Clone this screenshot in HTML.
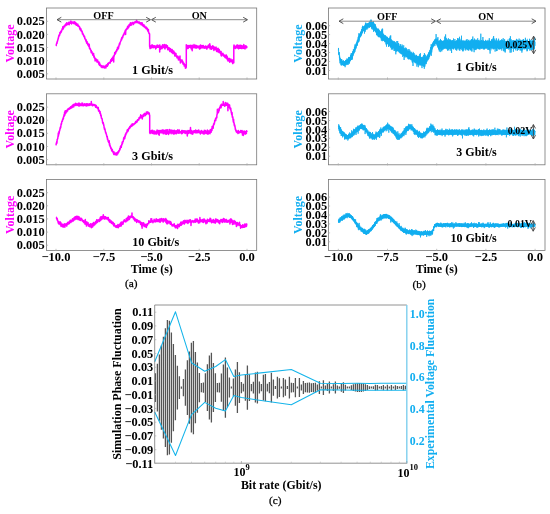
<!DOCTYPE html>
<html lang="en">
<head>
<meta charset="utf-8">
<title>Voltage traces and phase fluctuation versus bit rate</title>
<style>
html,body{margin:0;padding:0;background:#fff;}
body{width:550px;height:514px;overflow:hidden;}
svg{display:block;font-family:"Liberation Serif","DejaVu Serif",serif;}
</style>
</head>
<body>
<svg width="550" height="514" viewBox="0 0 550 514">
<rect width="550" height="514" fill="#fff"/>
<rect x="46.5" y="8.0" width="210.2" height="71.0" fill="none" stroke="#777" stroke-width="0.8"/>
<text x="44.6" y="25.4" font-size="12.4" text-anchor="end" fill="#000" font-weight="bold">0.025</text>
<text x="44.6" y="38.5" font-size="12.4" text-anchor="end" fill="#000" font-weight="bold">0.020</text>
<text x="44.6" y="51.6" font-size="12.4" text-anchor="end" fill="#000" font-weight="bold">0.015</text>
<text x="44.6" y="64.8" font-size="12.4" text-anchor="end" fill="#000" font-weight="bold">0.010</text>
<text x="44.6" y="77.9" font-size="12.4" text-anchor="end" fill="#000" font-weight="bold">0.005</text>
<line x1="46.1" y1="21.3" x2="48.1" y2="21.3" stroke="#aaa" stroke-width="0.7"/>
<line x1="46.1" y1="34.4" x2="48.1" y2="34.4" stroke="#aaa" stroke-width="0.7"/>
<line x1="46.1" y1="47.5" x2="48.1" y2="47.5" stroke="#aaa" stroke-width="0.7"/>
<line x1="46.1" y1="60.7" x2="48.1" y2="60.7" stroke="#aaa" stroke-width="0.7"/>
<line x1="46.1" y1="73.8" x2="48.1" y2="73.8" stroke="#aaa" stroke-width="0.7"/>
<line x1="56" y1="77.4" x2="56" y2="79.6" stroke="#aaa" stroke-width="0.7"/>
<line x1="103.8" y1="77.4" x2="103.8" y2="79.6" stroke="#aaa" stroke-width="0.7"/>
<line x1="151.5" y1="77.4" x2="151.5" y2="79.6" stroke="#aaa" stroke-width="0.7"/>
<line x1="199.2" y1="77.4" x2="199.2" y2="79.6" stroke="#aaa" stroke-width="0.7"/>
<line x1="247" y1="77.4" x2="247" y2="79.6" stroke="#aaa" stroke-width="0.7"/>
<text x="13.9" y="43.5" font-size="12" text-anchor="middle" fill="#ff00ff" font-weight="bold" transform="rotate(-90 13.9 43.5)">Voltage</text>
<rect x="46.5" y="93.8" width="210.2" height="71.00000000000001" fill="none" stroke="#777" stroke-width="0.8"/>
<text x="44.6" y="111.2" font-size="12.4" text-anchor="end" fill="#000" font-weight="bold">0.025</text>
<text x="44.6" y="124.3" font-size="12.4" text-anchor="end" fill="#000" font-weight="bold">0.020</text>
<text x="44.6" y="137.4" font-size="12.4" text-anchor="end" fill="#000" font-weight="bold">0.015</text>
<text x="44.6" y="150.6" font-size="12.4" text-anchor="end" fill="#000" font-weight="bold">0.010</text>
<text x="44.6" y="163.7" font-size="12.4" text-anchor="end" fill="#000" font-weight="bold">0.005</text>
<line x1="46.1" y1="107.1" x2="48.1" y2="107.1" stroke="#aaa" stroke-width="0.7"/>
<line x1="46.1" y1="120.2" x2="48.1" y2="120.2" stroke="#aaa" stroke-width="0.7"/>
<line x1="46.1" y1="133.3" x2="48.1" y2="133.3" stroke="#aaa" stroke-width="0.7"/>
<line x1="46.1" y1="146.5" x2="48.1" y2="146.5" stroke="#aaa" stroke-width="0.7"/>
<line x1="46.1" y1="159.6" x2="48.1" y2="159.6" stroke="#aaa" stroke-width="0.7"/>
<line x1="56" y1="163.2" x2="56" y2="165.4" stroke="#aaa" stroke-width="0.7"/>
<line x1="103.8" y1="163.2" x2="103.8" y2="165.4" stroke="#aaa" stroke-width="0.7"/>
<line x1="151.5" y1="163.2" x2="151.5" y2="165.4" stroke="#aaa" stroke-width="0.7"/>
<line x1="199.2" y1="163.2" x2="199.2" y2="165.4" stroke="#aaa" stroke-width="0.7"/>
<line x1="247" y1="163.2" x2="247" y2="165.4" stroke="#aaa" stroke-width="0.7"/>
<text x="13.9" y="129.3" font-size="12" text-anchor="middle" fill="#ff00ff" font-weight="bold" transform="rotate(-90 13.9 129.3)">Voltage</text>
<rect x="46.5" y="179.4" width="210.2" height="71.0" fill="none" stroke="#777" stroke-width="0.8"/>
<text x="44.6" y="196.8" font-size="12.4" text-anchor="end" fill="#000" font-weight="bold">0.025</text>
<text x="44.6" y="209.9" font-size="12.4" text-anchor="end" fill="#000" font-weight="bold">0.020</text>
<text x="44.6" y="223" font-size="12.4" text-anchor="end" fill="#000" font-weight="bold">0.015</text>
<text x="44.6" y="236.2" font-size="12.4" text-anchor="end" fill="#000" font-weight="bold">0.010</text>
<text x="44.6" y="249.3" font-size="12.4" text-anchor="end" fill="#000" font-weight="bold">0.005</text>
<line x1="46.1" y1="192.7" x2="48.1" y2="192.7" stroke="#aaa" stroke-width="0.7"/>
<line x1="46.1" y1="205.8" x2="48.1" y2="205.8" stroke="#aaa" stroke-width="0.7"/>
<line x1="46.1" y1="218.9" x2="48.1" y2="218.9" stroke="#aaa" stroke-width="0.7"/>
<line x1="46.1" y1="232.1" x2="48.1" y2="232.1" stroke="#aaa" stroke-width="0.7"/>
<line x1="46.1" y1="245.2" x2="48.1" y2="245.2" stroke="#aaa" stroke-width="0.7"/>
<line x1="56" y1="248.8" x2="56" y2="251" stroke="#aaa" stroke-width="0.7"/>
<line x1="103.8" y1="248.8" x2="103.8" y2="251" stroke="#aaa" stroke-width="0.7"/>
<line x1="151.5" y1="248.8" x2="151.5" y2="251" stroke="#aaa" stroke-width="0.7"/>
<line x1="199.2" y1="248.8" x2="199.2" y2="251" stroke="#aaa" stroke-width="0.7"/>
<line x1="247" y1="248.8" x2="247" y2="251" stroke="#aaa" stroke-width="0.7"/>
<text x="13.9" y="214.9" font-size="12" text-anchor="middle" fill="#ff00ff" font-weight="bold" transform="rotate(-90 13.9 214.9)">Voltage</text>
<polyline points="56,46 56.2,45.7 56.3,44.7 56.5,43.8 56.6,43.6 56.8,42.7 56.9,42.9 57.1,43.3 57.2,41.5 57.4,40.9 57.5,41.2 57.7,40.6 57.8,40 58,38.8 58.1,39 58.3,39 58.4,37.2 58.6,37.3 58.7,35.9 58.9,35.9 59,35.1 59.2,35.9 59.3,34.8 59.5,35.5 59.6,35 59.8,34.4 59.9,32.4 60.1,33.5 60.2,33.5 60.4,33.3 60.5,31.8 60.7,32.2 60.8,31.6 61,31.4 61.1,32.4 61.3,30.7 61.4,31 61.6,31.3 61.7,30 61.9,30 62,29.9 62.2,29.6 62.3,28.4 62.5,29 62.6,29.6 62.8,26.8 62.9,28.8 63.1,28 63.2,27.2 63.4,28.8 63.5,27.8 63.7,26.2 63.8,26.8 64,27 64.1,26.3 64.3,26.7 64.4,26 64.6,26.4 64.7,26.8 64.9,25.1 65,25.6 65.2,25 65.3,25.3 65.5,24.3 65.6,24.6 65.8,24.8 65.9,25.4 66.1,25.5 66.2,23.6 66.4,23.9 66.5,24.8 66.7,22.8 66.8,23.8 67,23.9 67.1,24.8 67.3,24.3 67.4,23.5 67.6,23.3 67.7,23.3 67.9,24.5 68,23 68.2,23 68.3,23.4 68.5,23 68.6,22.9 68.8,22.2 68.9,22.9 69.1,22.5 69.2,24.7 69.4,23.2 69.5,22.6 69.7,23.1 69.8,22.3 70,23.3 70.1,22.5 70.3,22.9 70.4,21.5 70.6,22.7 70.7,21.2 70.9,21 71,22.2 71.2,21.8 71.3,22.5 71.5,24 71.6,21.8 71.8,22 71.9,22.6 72.1,22.8 72.2,22.4 72.4,22.4 72.5,23.1 72.7,23 72.8,21.9 73,22.6 73.1,22.8 73.3,22 73.4,23 73.6,22.3 73.7,23.6 73.9,23.1 74,23.1 74.2,22.7 74.3,23.1 74.5,21.8 74.6,22.5 74.8,23.6 74.9,21.9 75.1,24.1 75.2,22.3 75.4,24.2 75.5,23.1 75.7,24.3 75.8,23.9 76,22.9 76.1,24.9 76.3,25.1 76.4,24.1 76.6,24.1 76.7,24.2 76.9,23.8 77,25.3 77.2,24.2 77.3,24.7 77.5,24.3 77.6,24.5 77.8,24.2 77.9,26.2 78.1,25.3 78.2,26.3 78.4,25.8 78.5,25.5 78.7,26 78.8,26 79,26.7 79.1,26.6 79.3,26.9 79.4,26.4 79.6,27 79.7,29 79.9,27.7 80,27.7 80.2,28.9 80.3,29.9 80.5,28.2 80.6,29.3 80.8,29.3 80.9,28.8 81.1,30.9 81.2,30.6 81.4,31 81.5,30.7 81.7,30.6 81.8,31.4 82,32 82.1,31.6 82.3,31.8 82.4,33.9 82.6,32.9 82.7,33.7 82.9,33.8 83,33.8 83.2,34 83.3,35.1 83.5,34.7 83.6,35.1 83.8,35.5 83.9,36.6 84.1,36.6 84.2,36.7 84.4,36.4 84.5,36.1 84.7,38.1 84.8,38.4 85,37.9 85.1,38.7 85.3,39.2 85.4,39.6 85.6,40 85.7,39.4 85.9,41.1 86,39.5 86.2,41.3 86.3,41.4 86.5,42 86.6,43.1 86.8,43.1 86.9,41.6 87.1,41.6 87.3,43.7 87.4,42.8 87.6,43.8 87.7,44.7 87.9,43.3 88,43.3 88.2,45.3 88.3,45.5 88.5,45.6 88.6,46.2 88.8,45.9 88.9,45.7 89.1,47 89.2,44.3 89.4,46.6 89.5,48.4 89.7,48.3 89.8,48.9 90,48.2 90.1,48.7 90.3,48.8 90.4,49.2 90.6,50.2 90.7,49.8 90.9,50.9 91,51.2 91.2,52.6 91.3,50.5 91.5,52.4 91.6,52 91.8,52.4 91.9,51.6 92.1,52.6 92.2,53.8 92.4,53.5 92.5,53.9 92.7,53.9 92.8,55.2 93,54.6 93.1,53.4 93.3,54.7 93.4,53.9 93.6,53.5 93.7,55.6 93.9,57.2 94,56.6 94.2,56 94.3,56.4 94.5,58.1 94.6,57.7 94.8,57.8 94.9,58 95.1,61 95.2,59.1 95.4,59.1 95.5,59.1 95.7,58.5 95.8,59.8 96,59.2 96.1,60.6 96.3,59.2 96.4,60.2 96.6,60.5 96.7,59.7 96.9,62 97,62 97.2,60.9 97.3,61.9 97.5,61.8 97.6,59.9 97.8,62.1 97.9,62.1 98.1,62.4 98.2,61.7 98.4,62.5 98.5,62.7 98.7,63.9 98.8,63.5 99,62.1 99.1,64.7 99.3,63.4 99.4,63.7 99.6,62.9 99.7,65.4 99.9,65.2 100,64.1 100.2,65.3 100.3,65.1 100.5,65.3 100.6,65.1 100.8,65.3 100.9,65.6 101.1,66.8 101.2,66.3 101.4,66 101.5,65.7 101.7,65.8 101.8,67.5 102,66.8 102.1,66.6 102.3,66.4 102.4,65.9 102.6,66.7 102.7,67.4 102.9,66.6 103,66.8 103.2,66.8 103.3,67.1 103.5,65.9 103.6,66.8 103.8,66.4 103.9,67.6 104.1,66.4 104.2,67.3 104.4,68 104.5,66.6 104.7,66.4 104.8,66.9 105,66.7 105.1,65.9 105.3,66.8 105.4,67.8 105.6,66.1 105.7,66.1 105.9,67.9 106,66.2 106.2,65 106.3,65 106.5,66.5 106.6,64.9 106.8,66.1 106.9,66.3 107.1,65.3 107.2,65.3 107.4,66.2 107.5,64.5 107.7,64.1 107.8,63.4 108,64.2 108.1,65.1 108.3,64.5 108.4,63 108.6,62.9 108.7,63 108.9,63.4 109,62.9 109.2,63 109.3,62.9 109.5,62.3 109.6,62.4 109.8,62.4 109.9,62 110.1,62.3 110.2,63 110.4,62 110.5,61.4 110.7,60 110.8,61.3 111,59.4 111.1,59.6 111.3,61.3 111.4,60.7 111.6,59.9 111.7,58.5 111.9,59.2 112,58.8 112.2,59.5 112.3,60.4 112.5,58.7 112.6,57.7 112.8,57.2 112.9,57.7 113.1,57.4 113.2,56.4 113.4,57.1 113.5,55.9 113.7,61.9 113.8,56.9 114,56.6 114.1,55.3 114.3,55.7 114.4,54.9 114.6,54.5 114.7,52.6 114.9,53.2 115,52.8 115.2,54.1 115.3,53.1 115.5,53.1 115.6,53.4 115.8,51.2 115.9,51.5 116.1,51.9 116.2,51.8 116.4,50.9 116.5,51.6 116.7,50.7 116.8,49.4 117,49.4 117.1,50.3 117.3,49.7 117.4,47.8 117.6,49.7 117.7,48.9 117.9,49.1 118,47.5 118.2,47.2 118.3,46.3 118.5,48.5 118.7,46.3 118.8,47.2 119,45.2 119.1,45.4 119.3,43.8 119.4,44.3 119.6,44.9 119.7,43 119.9,44.2 120,43.3 120.2,42 120.3,42 120.5,41.7 120.6,41.6 120.8,40.9 120.9,40.3 121.1,40.3 121.2,39.4 121.4,38.9 121.5,39.4 121.7,39.6 121.8,37.6 122,38.3 122.1,37.5 122.3,36.9 122.4,37.9 122.6,36.6 122.7,37.7 122.9,35.7 123,36.2 123.2,35.5 123.3,34.8 123.5,35.4 123.6,34.6 123.8,34.9 123.9,34.1 124.1,33.1 124.2,33.5 124.4,33.4 124.5,33.7 124.7,32.2 124.8,32.5 125,31 125.1,33.3 125.3,30.9 125.4,30.2 125.6,34.4 125.7,31.6 125.9,29.5 126,29.6 126.2,29.5 126.3,29 126.5,29.8 126.6,28.7 126.8,28.5 126.9,29.2 127.1,28 127.2,28.6 127.4,27.4 127.5,27 127.7,26.3 127.8,28.7 128,26.9 128.1,27.1 128.3,26.7 128.4,26.7 128.6,26.4 128.7,27.5 128.9,25.3 129,24.8 129.2,25 129.3,24.6 129.5,25.9 129.6,25.9 129.8,24.5 129.9,24.1 130.1,24.7 130.2,23.8 130.4,22.8 130.5,25 130.7,23.8 130.8,25.2 131,23.6 131.1,24.1 131.3,23.2 131.4,23.4 131.6,25 131.7,24.5 131.9,23.6 132,23.2 132.2,22.4 132.3,23.4 132.5,23.5 132.6,23.4 132.8,23.3 132.9,22.5 133.1,23.2 133.2,23.2 133.4,24 133.5,24.4 133.7,22.9 133.8,22.4 134,22.8 134.1,22.4 134.3,22.3 134.4,22.7 134.6,22 134.7,23.1 134.9,22.5 135,22.8 135.2,22.4 135.3,22 135.5,21.8 135.6,22.3 135.8,22.1 135.9,22.6 136.1,22.4 136.2,21.5 136.4,22.4 136.5,20.1 136.7,22 136.8,22.2 137,21 137.1,22.5 137.3,22.6 137.4,22.4 137.6,22.2 137.7,22.3 137.9,21.9 138,22.4 138.2,22.2 138.3,22.7 138.5,21.9 138.6,22.9 138.8,22.9 138.9,22.8 139.1,22.6 139.2,23.4 139.4,21.9 139.5,23.4 139.7,23.3 139.8,23.4 140,23.6 140.1,22.9 140.3,23.3 140.4,24 140.6,23.9 140.7,23.8 140.9,22.7 141,24.2 141.2,24.8 141.3,24.7 141.5,24.3 141.6,23.1 141.8,24.9 141.9,24.3 142.1,22.7 142.2,24.8 142.4,23.6 142.5,23.8 142.7,24.4 142.8,25.8 143,24.7 143.1,25.6 143.3,26.4 143.4,26.4 143.6,25.3 143.7,25.4 143.9,24.8 144,25.3 144.2,26.2 144.3,26.4 144.5,26.3 144.6,27.1 144.8,26 144.9,26.7 145.1,27.4 145.2,27.5 145.4,28 145.5,27.7 145.7,27.4 145.8,28 146,27.3 146.1,27 146.3,28.8 146.4,28.5 146.6,29 146.7,27.8 146.9,28.9 147,29 147.2,29 147.3,28.2 147.5,29.8 147.6,30.8 147.8,30.7 147.9,30.2 148.1,30.9 148.2,31.7 148.4,29.4 148.5,31.5 148.7,32.3 148.8,32.6 149,33.6 149.1,33.5 149.3,33.2 149.4,33.4 149.6,34.3 149.6,46.1 149.8,46.6 149.9,47.5 150.1,48.6 150.2,46.4 150.4,46.6 150.5,46.8 150.7,47.9 150.8,46.6 151,48.1 151.1,45.6 151.3,46.4 151.4,46.4 151.6,47.4 151.7,47.6 151.9,45.1 152,45.7 152.2,46.9 152.3,45.9 152.5,45.1 152.6,47.6 152.8,47.1 152.9,47.1 153.1,46.1 153.2,47.6 153.4,46.4 153.5,47.7 153.7,45.7 153.8,45.8 154,46.8 154.1,45.9 154.3,47.3 154.4,46.9 154.6,45.7 154.7,46.7 154.9,46.3 155,47.5 155.2,46 155.3,46.2 155.5,47.8 155.6,48.9 155.8,48.6 155.9,46.7 156.1,46.9 156.2,48.2 156.4,46.5 156.5,45.7 156.7,46.8 156.8,47.1 157,45.8 157.2,45 157.3,45.2 157.5,47.3 157.6,45.9 157.8,46.5 157.9,46.9 158.1,47.3 158.2,46.4 158.4,47.2 158.5,45.8 158.7,46.3 158.8,45.7 159,45.2 159.1,46.7 159.3,46 159.4,46.4 159.6,46.5 159.7,51.9 159.9,45.1 160,45.7 160.2,46.4 160.3,49.3 160.5,47.7 160.6,46.6 160.8,47.5 160.9,48.8 161.1,46.5 161.2,46.4 161.4,48 161.5,47.3 161.7,47.5 161.8,46.3 162,48.7 162.1,48.5 162.3,47.4 162.4,47.5 162.6,44.8 162.7,47.5 162.9,46.6 163,47.3 163.2,47.5 163.3,46.5 163.5,45.2 163.6,47.2 163.8,46.1 163.9,46.6 164.1,46.3 164.2,46.6 164.4,44.6 164.6,48.1 164.7,47.2 164.9,48 165,48.9 165.2,47 165.3,45.2 165.5,46.1 165.6,45.8 165.8,46.5 165.9,47.1 166.1,44.7 166.2,47.4 166.4,45.5 166.5,47.4 166.7,47 166.8,46.9 167,47.2 167.1,46.8 167.3,46.8 167.4,45.8 167.6,47.6 167.7,49.6 167.9,49.8 168,49.2 168.2,48.7 168.3,47.5 168.5,49.7 168.6,48.8 168.8,48.4 168.9,48.3 169.1,48 169.2,48.3 169.4,48.8 169.5,47.9 169.7,48.7 169.8,51.5 170,49.3 170.1,49.2 170.3,50.1 170.4,50.4 170.6,48.8 170.7,49.8 170.9,51.1 171,50.6 171.2,50.6 171.3,52.2 171.5,50.1 171.7,51 171.8,50.5 172,52.7 172.1,49.4 172.3,50.9 172.4,51.2 172.6,52.5 172.7,52.6 172.9,53.6 173,50.8 173.2,53.3 173.3,52.4 173.5,52.2 173.6,53.6 173.8,52.3 173.9,51.3 174.1,53.1 174.2,52.2 174.4,53.2 174.5,54.4 174.7,54.5 174.8,55.9 175,54.3 175.1,53.1 175.3,54 175.4,54 175.6,53.9 175.7,54.4 175.9,54.8 176,53.6 176.2,56.5 176.3,55.8 176.5,56.4 176.6,56.4 176.8,57.1 176.9,56.6 177.1,58 177.2,57.4 177.4,57.5 177.5,57.7 177.7,56 177.8,57.4 178,57.5 178.1,58.2 178.3,56.8 178.4,59.9 178.6,58.6 178.7,57.4 178.9,57.1 179.1,58.7 179.2,59 179.4,58.6 179.5,59.6 179.7,59 179.8,60.3 180,56.1 180.1,60.1 180.3,61.3 180.4,63 180.6,59.6 180.7,60.3 180.9,60.1 181,61.9 181.2,60.1 181.3,60.9 181.5,61.6 181.6,60.8 181.8,60.9 181.9,61.6 182.1,60.1 182.2,60.9 182.4,62.1 182.5,62.9 182.7,62.7 182.8,61.3 183,62.7 183.1,64.2 183.3,64.1 183.4,63.6 183.6,63 183.7,64.6 183.9,63.6 184,63.2 184.2,63.7 184.3,66.1 184.5,65 184.6,66.1 184.8,64.6 184.9,66.2 185.1,64.8 185.2,65.4 185.4,68.2 185.5,66.7 185.7,65.6 185.8,66.1 186,66.7 186.1,67.8 186.3,66.2 186.3,44.8 186.5,46.2 186.6,46.5 186.8,46.6 186.9,47.8 187.1,46.8 187.2,47.3 187.4,45.4 187.5,47.4 187.7,48.6 187.8,47.3 188,46.8 188.1,46.7 188.3,48.3 188.4,45.6 188.6,46.4 188.7,47 188.9,47.3 189,46.1 189.2,46.8 189.3,46.2 189.5,46.6 189.6,46.4 189.8,45.4 189.9,46.5 190.1,47.4 190.2,45.6 190.4,46.3 190.5,47.2 190.7,45.5 190.8,46.7 191,45.5 191.1,47.7 191.3,48.9 191.4,48.6 191.6,46.3 191.7,47.3 191.9,46.7 192,46.7 192.2,50.8 192.3,45.3 192.5,47.6 192.6,46.5 192.8,48 192.9,46.8 193.1,45.9 193.2,46.9 193.4,47.3 193.5,46.6 193.7,47.1 193.8,46.1 194,44.5 194.1,47.5 194.3,47.3 194.4,46.8 194.6,46.7 194.7,47.7 194.9,46.2 195,45.9 195.2,46.5 195.3,47.8 195.5,45.3 195.6,47.9 195.8,46 196,45.6 196.1,47.9 196.3,46.6 196.4,45.4 196.6,46.3 196.7,47 196.9,47.9 197,46.3 197.2,47.1 197.3,47.4 197.5,46.1 197.6,47.1 197.8,46.7 197.9,46.2 198.1,46.2 198.2,46.8 198.4,46.8 198.5,46.2 198.7,46.3 198.8,47.9 199,47 199.1,47.7 199.3,48 199.4,47.4 199.6,49.1 199.7,46 199.9,47.6 200,46.5 200.2,48.7 200.3,48.5 200.5,44.9 200.6,45.9 200.8,47.5 200.9,47.6 201.1,47.6 201.2,46.8 201.4,47.3 201.5,47.5 201.7,46.8 201.8,47.9 202,45.4 202.1,47.5 202.3,45.8 202.4,47.8 202.6,46.7 202.7,46 202.9,47.3 203,46 203.2,46 203.3,45.4 203.5,45.8 203.6,47.4 203.8,48 203.9,46.8 204.1,48 204.2,47 204.4,46.9 204.5,47.6 204.7,48.1 204.8,46.7 205,46.8 205.1,46.9 205.3,47.1 205.5,46.1 205.6,48.1 205.8,46.7 205.9,47.5 206.1,46.2 206.2,47.4 206.4,47.5 206.5,46.7 206.7,49.1 206.8,47.5 207,48.9 207.1,48.1 207.3,46.5 207.4,46.8 207.6,47.6 207.7,47.3 207.9,47.3 208,46.9 208.2,45.4 208.3,47 208.5,45 208.6,47.6 208.8,46.6 208.9,46.6 209.1,47.1 209.2,47.6 209.4,45.9 209.5,45.6 209.7,46.3 209.8,43.8 210,46.4 210.1,49 210.3,46.4 210.4,48.1 210.6,46.1 210.7,47.8 210.9,47.2 211,47.5 211.2,48.1 211.3,49.3 211.5,47.8 211.6,47.7 211.8,46.7 211.9,48.2 212.1,47.4 212.2,48.5 212.4,47.7 212.5,47.7 212.7,45.8 212.8,47.5 213,48.7 213.1,47.5 213.3,47.1 213.4,47.6 213.6,46.6 213.7,48.1 213.9,50.5 214,49.3 214.2,47.1 214.3,47.4 214.5,47.9 214.6,49.4 214.8,47.7 215,47.9 215.1,49.5 215.3,49.6 215.4,48.5 215.6,47.8 215.7,47.5 215.9,48.4 216,47 216.2,50 216.3,48.7 216.5,50 216.6,51.4 216.8,50.8 216.9,48.6 217.1,50.7 217.2,51.1 217.4,49.3 217.5,49.2 217.7,50.2 217.8,48.5 218,52 218.1,48.2 218.3,49.6 218.4,50.6 218.6,50.8 218.7,51.3 218.9,51.5 219,51.1 219.2,52.6 219.3,49.5 219.5,51.7 219.6,51.1 219.8,52.1 219.9,52.3 220.1,51.3 220.2,51.7 220.4,53.3 220.5,53 220.7,52 220.8,52.3 221,55.3 221.1,51.6 221.3,53.5 221.4,55.9 221.6,54.3 221.7,53.8 221.9,53.5 222,53.3 222.2,53.7 222.3,53.5 222.5,54.9 222.6,53.9 222.8,54 222.9,53.3 223.1,54.6 223.2,53.9 223.4,54.7 223.5,56.1 223.7,55.5 223.8,55.8 224,55.8 224.1,55.6 224.3,55.5 224.5,55.5 224.6,56.7 224.8,54.9 224.9,57.5 225.1,56.3 225.2,55.6 225.4,56 225.5,56 225.7,56.9 225.8,56.2 226,58.1 226.1,56.3 226.3,55 226.4,56.6 226.6,55.5 226.7,57.6 226.9,58.8 227,58.5 227.2,56.6 227.3,57.3 227.5,60 227.6,58.6 227.8,58.4 227.9,59.6 228.1,61.1 228.2,60.1 228.4,59 228.5,59.3 228.7,59.7 228.8,58.6 229,58.3 229.1,59.5 229.3,58.6 229.4,59.6 229.6,59.9 229.7,62.2 229.9,59.1 230,60 230.2,60 230.3,60.7 230.5,61.5 230.6,60 230.8,59.8 230.9,59.1 231.1,59.9 231.2,61.5 231.4,61.1 231.5,60.1 231.7,60.9 231.8,61.4 232,62 232.1,61 232.3,61.4 232.4,60 232.6,60.7 232.7,63.6 232.9,59.9 233,61.9 233.2,62.5 233.3,62 233.5,61.7 233.6,62.5 233.8,62.7 233.8,46.9 234,45.1 234.1,46.9 234.3,46.1 234.4,46.5 234.6,47.2 234.7,47.6 234.9,47.9 235,46.5 235.2,47.9 235.3,48.2 235.5,48.1 235.6,48.4 235.8,46.9 235.9,46.8 236.1,47.8 236.3,45.6 236.4,47.2 236.6,46.5 236.7,46.6 236.9,45.3 237,46.1 237.2,47 237.3,47.9 237.5,48 237.6,45 237.8,46.8 237.9,46.2 238.1,47.4 238.3,46.8 238.4,47.6 238.6,48.8 238.7,47 238.9,45.5 239,46.1 239.2,45.5 239.3,45.8 239.5,48.3 239.6,47.2 239.8,45.5 239.9,47.7 240.1,48.3 240.2,46.6 240.4,46.3 240.6,45.2 240.7,47.3 240.9,47.6 241,48.2 241.2,48.2 241.3,48.2 241.5,48.4 241.6,47.7 241.8,45.5 241.9,46.9 242.1,47.3 242.2,46.6 242.4,47.9 242.5,46.6 242.7,46.1 242.9,48.4 243,47.7 243.2,47.6 243.3,47.9 243.5,48.1 243.6,47.3 243.8,44.5 243.9,46.3 244.1,46.5 244.2,46 244.4,47.2 244.5,48.2 244.7,46.5 244.9,45.9 245,49 245.2,46.5 245.3,45.8 245.5,47.2 245.6,47.4 245.8,46.3 245.9,47.8 246.1,46.5 246.2,46.1 246.4,47.2 246.5,47.8 246.7,46.4 246.8,47.3 247,46.9" fill="none" stroke="#ff00ff" stroke-width="1.5" stroke-linejoin="round"/>
<polyline points="56,145.4 56.2,144.1 56.3,143.3 56.5,142.6 56.6,142.8 56.8,141.4 56.9,143.3 57.1,140.9 57.2,139.4 57.4,139.5 57.5,138.9 57.7,138.8 57.8,138.1 58,136.4 58.1,136.1 58.3,133 58.4,136.1 58.6,134.7 58.7,134.7 58.9,133 59,131.3 59.2,133.1 59.3,131.6 59.5,131.1 59.6,130.5 59.8,130.3 59.9,129.7 60.1,127.7 60.2,128.9 60.4,127.3 60.5,126.8 60.7,127.7 60.8,126.6 61,125.3 61.1,123.7 61.3,124.5 61.4,124.2 61.6,123.3 61.7,122 61.9,121.7 62,120.9 62.2,121.4 62.3,121.3 62.5,120.9 62.6,119.3 62.8,119.4 62.9,119.2 63.1,118 63.2,117.9 63.4,118.9 63.5,117.3 63.7,116.1 63.8,116.1 64,116.1 64.1,114.6 64.3,115.4 64.4,115.9 64.6,112 64.7,115.3 64.9,114.6 65,113.9 65.2,110.7 65.3,113.2 65.5,113.5 65.6,112.3 65.8,113.2 65.9,111.7 66.1,110.9 66.2,111.2 66.4,110.5 66.5,110.5 66.7,111.9 66.8,110.8 67,110.9 67.1,111.3 67.3,111.1 67.4,109.8 67.6,110.8 67.7,110 67.9,109.6 68,109.8 68.2,108.4 68.3,108.7 68.5,109 68.6,109.3 68.8,108.5 68.9,108.5 69.1,109.1 69.2,109.3 69.4,108.7 69.5,109 69.7,107.8 69.8,107.7 70,108 70.1,107.5 70.3,107.3 70.4,108.6 70.6,107.2 70.7,106.7 70.9,107.5 71,108.3 71.2,107 71.3,107.7 71.5,106.5 71.6,106.4 71.8,106.2 71.9,106.4 72.1,107.6 72.2,105.6 72.4,107.3 72.5,105.5 72.7,105.9 72.8,106.5 73,106.3 73.1,105.9 73.3,104.6 73.4,105.8 73.6,104.8 73.7,107 73.9,105.1 74,105.3 74.2,104.3 74.3,104.7 74.5,104.1 74.6,105.5 74.8,104.6 75,105.1 75.1,104.2 75.3,104.3 75.4,105.4 75.6,103.9 75.7,103.3 75.9,104.8 76,103.8 76.2,104.2 76.3,105.1 76.5,104 76.6,105.1 76.8,104.1 76.9,105.5 77.1,105.4 77.2,104.2 77.4,104.4 77.5,104 77.7,104.6 77.8,105.3 78,103.6 78.1,105.1 78.3,103.6 78.4,104 78.6,103.3 78.7,105.9 78.9,104.6 79,104.7 79.2,104.1 79.3,105.2 79.5,103.2 79.6,104.5 79.8,106 79.9,104.3 80.1,104.5 80.2,105 80.4,104 80.5,104.5 80.7,105.2 80.8,104.7 81,104.8 81.1,104.3 81.3,104.7 81.4,104.6 81.6,105.5 81.7,105 81.9,104.4 82,103 82.2,105 82.3,105 82.5,104 82.6,103.3 82.8,103.8 82.9,105.2 83.1,105.9 83.2,104.3 83.4,104.7 83.5,105.4 83.7,104.6 83.8,104.5 84,104.2 84.1,105.6 84.3,105.3 84.4,104.5 84.6,103.7 84.7,104.1 84.9,104.3 85,104.1 85.2,105.2 85.3,104.8 85.5,104.8 85.6,105 85.8,104.9 85.9,104.1 86.1,104.4 86.2,106.1 86.4,103.8 86.5,104.3 86.7,105.3 86.8,104.5 87,104.1 87.1,103.8 87.3,105 87.4,105.3 87.6,105.6 87.7,104.7 87.9,105.3 88,104 88.2,104.5 88.3,104.2 88.5,104.8 88.6,105.2 88.8,105.4 88.9,104 89.1,105.5 89.2,104.4 89.4,104 89.5,104.6 89.7,103.8 89.8,104.7 90,104.9 90.1,104.6 90.3,105.1 90.4,104.5 90.6,104.8 90.7,103.8 90.9,104.8 91,104.2 91.2,104.5 91.3,101.5 91.5,104.9 91.6,103.7 91.8,103.8 91.9,104.6 92.1,105.2 92.2,105.1 92.4,105.4 92.5,105.7 92.7,105.2 92.8,104.9 93,104.2 93.1,104.3 93.3,104.6 93.4,105.1 93.6,105.1 93.8,105 93.9,104.9 94.1,105.4 94.2,105.2 94.4,105.3 94.5,105.3 94.7,104.8 94.8,104.6 95,105.6 95.1,105.7 95.3,105.4 95.4,105.3 95.6,107.2 95.7,105.3 95.9,105.8 96,106.2 96.2,105.5 96.3,106.4 96.5,107.6 96.6,107.2 96.8,107.2 96.9,107.3 97.1,107.1 97.2,107.8 97.4,107.3 97.5,107.3 97.7,107.9 97.8,108.7 98,108.5 98.1,109 98.3,107.5 98.4,109.9 98.6,111 98.7,110.6 98.9,109.9 99,109.9 99.2,110.9 99.3,110.4 99.5,111.9 99.6,111.4 99.8,112.8 99.9,113.4 100.1,111.5 100.2,113.4 100.4,113.2 100.5,113.2 100.7,115.8 100.8,114.8 101,116.1 101.1,115 101.3,117.3 101.4,118.3 101.6,117.9 101.7,118.4 101.9,118.5 102,118.3 102.2,120 102.3,120.4 102.5,121.2 102.6,122.9 102.8,122.3 102.9,122.6 103.1,123.9 103.2,122.5 103.4,123.2 103.5,124.2 103.7,124.5 103.8,125.9 104,125.8 104.1,127.7 104.3,128.1 104.4,129.3 104.6,127.9 104.7,129.1 104.9,129.8 105,129.1 105.2,130.5 105.3,131.3 105.5,131.5 105.6,132.9 105.8,133.2 105.9,132.4 106.1,133.6 106.2,133.5 106.4,134.9 106.5,134.5 106.7,136.1 106.8,136.3 107,137.1 107.1,136.9 107.3,136.5 107.4,139.1 107.6,138.3 107.7,139.8 107.9,139.6 108,140.3 108.2,141.5 108.3,141 108.5,142.1 108.6,140.7 108.8,142.7 108.9,141.8 109.1,142.9 109.2,140.8 109.4,144.1 109.5,145.3 109.7,143.5 109.8,145.1 110,145 110.1,146.6 110.3,146 110.4,147 110.6,146.8 110.7,147.9 110.9,148.5 111,148 111.2,148.7 111.3,148.1 111.5,149.6 111.6,150.3 111.8,149.7 111.9,151.1 112.1,149.3 112.3,149.7 112.4,150.3 112.6,151.1 112.7,151.7 112.9,151.9 113,152.1 113.2,152.9 113.3,152.3 113.5,152 113.6,152.2 113.8,154.5 113.9,151.7 114.1,153.2 114.2,154.4 114.4,153.8 114.5,153 114.7,153.6 114.8,154.3 115,154.5 115.1,153.2 115.3,154.3 115.4,154 115.6,154.6 115.7,154.8 115.9,153.7 116,152.9 116.2,154.1 116.3,154.9 116.5,154.2 116.6,153.8 116.8,155.1 116.9,152.8 117.1,154 117.2,152.9 117.4,153.2 117.5,153.1 117.7,154 117.8,152.2 118,152.3 118.1,151.4 118.3,152.5 118.4,152.8 118.6,152 118.7,150.8 118.9,151 119,151.6 119.2,150.5 119.3,150.7 119.5,150.4 119.6,149.5 119.8,148.5 119.9,149.8 120.1,148.9 120.2,149.1 120.4,146.8 120.5,146.7 120.7,146 120.8,146.5 121,147.4 121.1,146.7 121.3,147.4 121.4,145.6 121.6,145.6 121.7,144.5 121.9,144.6 122,144 122.2,142.1 122.3,142.9 122.5,143.7 122.6,142.1 122.8,141.9 122.9,141.3 123.1,141 123.2,141.7 123.4,140.4 123.5,139.6 123.7,137.8 123.8,139.1 124,137.8 124.1,137.5 124.3,138.9 124.4,138.4 124.6,136.3 124.7,138.6 124.9,137.1 125,135.9 125.2,136.6 125.3,134.6 125.5,134.5 125.6,134 125.8,133.9 125.9,134.8 126.1,133 126.2,132.8 126.4,132.6 126.5,133 126.7,132.3 126.8,132.8 127,131.4 127.1,130.7 127.3,129.8 127.4,131 127.6,130.5 127.7,130.6 127.9,131.4 128,129.5 128.2,129.7 128.3,130.3 128.5,128.7 128.6,128.4 128.8,128.1 128.9,128.8 129.1,128.7 129.2,128.1 129.4,128 129.5,128.6 129.7,128.2 129.8,126.5 130,127.3 130.1,127.2 130.3,127.5 130.4,126.7 130.6,126.3 130.7,126.3 130.9,125.3 131.1,126.3 131.2,125.8 131.4,126.4 131.5,125.3 131.7,125.5 131.8,125.1 132,124.1 132.1,125.9 132.3,125.1 132.4,125.5 132.6,124.4 132.7,125.1 132.9,123.8 133,124.5 133.2,124.4 133.3,124.9 133.5,124.6 133.6,124.2 133.8,124.7 133.9,124.2 134.1,124.3 134.2,124.3 134.4,123.6 134.5,123.3 134.7,123.6 134.8,122.9 135,123.3 135.1,123.6 135.3,123.3 135.4,122.4 135.6,121.6 135.7,122.3 135.9,122.1 136,122.7 136.2,121.6 136.3,121.6 136.5,122 136.6,121.1 136.8,121.1 136.9,122.2 137.1,121.9 137.2,121.2 137.4,120.8 137.5,119.8 137.7,120.7 137.8,120.2 138,120.1 138.1,119.5 138.3,119.7 138.4,119.4 138.6,119.6 138.7,120.1 138.9,119.2 139,117.8 139.2,118 139.3,117.5 139.5,117.8 139.6,118.5 139.8,118.2 139.9,117.4 140.1,117.8 140.2,117 140.4,116.4 140.5,116.3 140.7,114.8 140.8,117.8 141,116.3 141.1,117.5 141.3,117.4 141.4,116.3 141.6,116.3 141.7,115.8 141.9,116.1 142,116.5 142.2,116 142.3,119 142.5,116.5 142.6,115.9 142.8,115.8 142.9,115.5 143.1,115.7 143.2,114.6 143.4,115.5 143.5,115.3 143.7,114.5 143.8,116.4 144,114.3 144.1,114.3 144.3,115 144.4,113.4 144.6,114.1 144.7,113.5 144.9,113.8 145,114.3 145.2,114.5 145.3,114.9 145.5,115.5 145.6,114.7 145.8,114.2 145.9,113.4 146.1,114.3 146.2,113.1 146.4,112 146.5,114.2 146.7,113.6 146.8,113.2 147,113.4 147.1,113.5 147.3,111.9 147.4,112.7 147.6,112 147.7,112.8 147.9,112.4 148,113.7 148.2,113.3 148.3,112.5 148.5,113.2 148.6,112.6 148.8,113.6 148.9,114.1 149.1,114.1 149.2,112.9 149.4,114.2 149.5,115.2 149.7,115.2 149.7,133 149.9,130.7 150,132.4 150.2,133.5 150.3,132.1 150.5,132.3 150.6,132.6 150.8,131.4 150.9,132.1 151.1,130.8 151.2,130.6 151.4,132.5 151.5,131.9 151.7,130.4 151.8,131.1 152,132 152.1,133.4 152.3,132.9 152.4,132.7 152.6,130.2 152.7,131.9 152.9,132.4 153,132.3 153.2,132.3 153.3,131.7 153.5,133.6 153.6,133.3 153.8,131.9 153.9,131 154.1,133.9 154.2,131.4 154.4,133.1 154.5,133.8 154.7,131 154.8,132.2 155,131.6 155.1,132.4 155.3,132.2 155.4,133.8 155.6,132.5 155.7,131.9 155.9,133 156,131.7 156.2,132.7 156.3,134.1 156.5,131.2 156.6,131.5 156.8,132 156.9,130.9 157.1,129.9 157.2,132.9 157.4,131.2 157.5,131.4 157.7,131.6 157.8,131 158,130.9 158.1,132.1 158.3,134.2 158.4,132.6 158.6,132.7 158.7,130.5 158.9,131.9 159,130.8 159.2,135.3 159.3,131.7 159.5,132 159.6,131.9 159.8,131.4 159.9,130.5 160.1,132.5 160.2,130.6 160.4,130.8 160.5,131.7 160.7,131.3 160.8,132.2 161,132.9 161.1,132.2 161.3,132.1 161.4,132 161.6,132.8 161.7,130.2 161.9,132.3 162,131.1 162.2,130.8 162.3,131.9 162.5,131.6 162.6,132.5 162.8,133 162.9,129.7 163.1,131.9 163.2,133.8 163.4,132.8 163.5,133.3 163.7,132 163.8,130.6 164,130.9 164.1,132.6 164.3,132.9 164.4,131.2 164.6,131.7 164.7,132.2 164.9,130.3 165,131.6 165.2,133.5 165.3,134 165.5,131.8 165.6,133.7 165.8,131.4 165.9,131.2 166.1,129.8 166.2,132.9 166.4,131.6 166.5,134.2 166.7,132.3 166.8,132.1 167,130.2 167.1,133.4 167.3,131.6 167.4,131.8 167.6,129.8 167.7,132.8 167.9,132.9 168,131.4 168.2,132.8 168.3,132.3 168.5,134.5 168.6,132 168.8,133.6 168.9,131.7 169.1,131.4 169.3,131.5 169.4,129.5 169.6,131.2 169.7,132.9 169.9,132.2 170,131.2 170.2,132.3 170.3,130 170.5,131.7 170.6,132.4 170.8,132.6 170.9,131.2 171.1,132.8 171.2,133.7 171.4,131.5 171.5,132.7 171.7,130.5 171.8,130.1 172,132.5 172.1,132 172.3,132.1 172.4,131.4 172.6,130.8 172.7,132.7 172.9,133.6 173,131.7 173.2,130.4 173.3,133.2 173.5,132.5 173.6,133.7 173.8,132.1 173.9,134.2 174.1,132 174.2,132.4 174.4,130.2 174.5,131.4 174.7,131.3 174.8,131.9 175,132.3 175.1,131.2 175.3,133.6 175.4,130.9 175.6,131.5 175.7,132.2 175.9,130.8 176,132.5 176.2,132.6 176.3,131.7 176.5,133.8 176.6,132 176.8,132.2 176.9,131 177.1,130.4 177.2,131.4 177.4,131.6 177.5,131.5 177.7,132.7 177.8,129.7 178,130.9 178.1,130.2 178.3,133.2 178.4,131.4 178.6,131.5 178.7,130.9 178.9,132.8 179,131.6 179.2,132.2 179.3,130 179.5,133.1 179.6,132.3 179.8,132.5 179.9,133.1 180.1,131.8 180.2,131.8 180.4,132.6 180.5,132.4 180.7,131.7 180.8,132 181,131.5 181.1,132.6 181.3,132.8 181.4,132 181.6,133.7 181.7,130.5 181.9,131.7 182,133.6 182.2,131.6 182.3,130.4 182.5,133.3 182.6,132.5 182.8,130.8 182.9,132.7 183.1,131 183.2,130.7 183.4,131.8 183.5,131.5 183.7,130.9 183.8,131.6 184,131 184.1,132 184.3,131.9 184.4,132.7 184.6,131.5 184.7,130.7 184.9,130.7 185,131.7 185.2,133.4 185.3,132.8 185.5,131.3 185.6,132.9 185.8,130.9 185.9,132.9 186.1,131.6 186.2,132.7 186.4,132.5 186.5,131.7 186.7,132.3 186.8,130.9 187,131.9 187.1,133 187.3,135.9 187.4,132.6 187.6,132 187.7,131 187.9,133 188,130.4 188.2,131.2 188.3,132.3 188.5,130.8 188.7,133.4 188.8,133 189,131.4 189.1,131.4 189.3,130.7 189.4,130.6 189.6,132.4 189.7,132.6 189.9,132.3 190,132.2 190.2,131.4 190.3,132.3 190.5,127.5 190.6,132 190.8,133.4 190.9,133.2 191.1,131.5 191.2,131.6 191.4,133.3 191.5,133.7 191.7,130.5 191.8,131.5 192,132.2 192.1,133.1 192.3,131.2 192.4,132.6 192.6,131.7 192.7,134.2 192.9,132.4 193,131.8 193.2,131.6 193.3,133 193.5,132.6 193.6,130.9 193.8,132.2 193.9,130.7 194.1,131.2 194.2,130.7 194.4,130.7 194.5,131.3 194.7,131 194.8,132.5 195,132.7 195.1,131.7 195.3,130.9 195.4,132.7 195.6,130 195.7,130.1 195.9,132.7 196,132.6 196.2,132.9 196.3,131.8 196.5,130.8 196.6,131.5 196.8,132.5 196.9,131.2 197.1,131.3 197.2,130.6 197.4,130.8 197.5,132.8 197.7,132.4 197.8,130.8 198,130.9 198.1,131.4 198.3,132.5 198.4,130.8 198.6,131.8 198.7,129.9 198.9,130.8 199,132.3 199.2,132.8 199.3,130.9 199.5,131.2 199.6,132.7 199.8,131.6 199.9,131.4 200.1,132.5 200.2,132.1 200.4,134 200.5,132.7 200.7,131.4 200.8,131.8 201,131.9 201.1,130.7 201.3,131 201.4,132.9 201.6,130.4 201.7,132.9 201.9,132.2 202,131.8 202.2,132.5 202.3,132.4 202.5,133.1 202.6,131.6 202.8,131.7 202.9,131.7 203.1,133.8 203.2,132.9 203.4,132 203.5,131.6 203.7,131.3 203.8,132 204,132.2 204.1,134.1 204.3,130.2 204.4,132.9 204.6,132.4 204.7,131.3 204.9,131.8 205,131.5 205.2,132 205.3,132.9 205.5,130.5 205.6,133.2 205.8,131.6 205.9,133.4 206.1,132.4 206.2,133.1 206.4,132.5 206.5,133 206.7,132 206.8,131.2 207,132.6 207.1,132.6 207.3,134 207.4,130.1 207.6,131.8 207.7,133 207.9,130.8 208,131.8 208.2,134 208.4,133.3 208.5,131.1 208.7,133.3 208.8,133.1 209,132.7 209.1,132.3 209.3,132.2 209.4,131.1 209.6,131.5 209.7,132.7 209.9,132.1 210,133.7 210.2,131.6 210.3,129.6 210.5,131.5 210.6,131.9 210.8,131.9 210.9,131.4 211.1,130.3 211.2,132.3 211.4,129.9 211.5,130.9 211.7,129.7 211.8,128.5 212,130.6 212.1,126.5 212.3,127.7 212.4,128.6 212.6,127.4 212.7,128.1 212.9,126.9 213,126.1 213.2,128.2 213.3,125.3 213.5,125.2 213.6,123.9 213.8,123.8 213.9,124.8 214.1,124.4 214.2,123.4 214.4,122.4 214.5,123.3 214.7,120.6 214.8,121.4 215,121 215.1,120 215.3,120.5 215.4,119.2 215.6,118.6 215.7,120.6 215.9,119.1 216,119 216.2,117.4 216.3,117.8 216.5,117.1 216.6,117.1 216.8,117.7 216.9,114.7 217.1,114.7 217.2,114 217.4,109.3 217.5,111.9 217.7,112.8 217.8,113 218,111.5 218.1,112.8 218.3,112.6 218.4,110.6 218.6,111.9 218.7,111.9 218.9,110.3 219,108.5 219.2,110.5 219.3,108.5 219.5,108 219.6,108.1 219.8,107.1 219.9,108.3 220.1,107.7 220.2,107.8 220.4,106.8 220.5,105.2 220.7,105.6 220.8,106.3 221,104.9 221.1,107.8 221.3,104.7 221.4,104.2 221.6,105.7 221.7,105.3 221.9,104.5 222,104.3 222.2,104.9 222.3,105.3 222.5,105.2 222.6,104.2 222.8,104.9 222.9,105.3 223.1,105.2 223.2,101.6 223.4,103.7 223.5,103.8 223.7,104.3 223.8,104.7 224,105.4 224.1,105.1 224.3,104.4 224.4,104.5 224.6,106.2 224.7,103.9 224.9,104.8 225,106 225.2,104.8 225.3,102.6 225.5,104.9 225.6,104.1 225.8,104.4 225.9,105.5 226.1,104.9 226.2,104.2 226.4,105.3 226.5,104.9 226.7,104.6 226.8,102.9 227,104.7 227.1,104.2 227.3,104.1 227.4,105.2 227.6,103.6 227.8,103.3 227.9,110.8 228.1,104.3 228.2,104.5 228.4,104.5 228.5,104.8 228.7,105 228.8,105.3 229,104.7 229.1,106.7 229.3,105.4 229.4,107.4 229.6,105 229.7,106.2 229.9,108.6 230,107.9 230.2,107.9 230.3,109.3 230.5,108.4 230.6,109.9 230.8,108.2 230.9,110.3 231.1,110.6 231.2,112.1 231.4,113 231.5,111.9 231.7,114.8 231.8,113.3 232,112.5 232.1,112.8 232.3,117.2 232.4,116.3 232.6,116.4 232.7,117 232.9,117.3 233,120.3 233.2,119.6 233.3,122 233.5,120.8 233.6,119.3 233.8,123 233.9,122.4 234.1,123 234.2,125.3 234.4,124.1 234.5,126 234.7,125.5 234.8,125.4 235,127.2 235.1,126.8 235.3,129.1 235.4,129.4 235.6,129.1 235.7,130.1 235.9,130.6 236,130.2 236.2,131.7 236.3,131 236.5,132.1 236.6,130.8 236.8,132 236.9,132.4 237.1,131.3 237.2,131.6 237.4,131.5 237.5,132.7 237.7,131.3 237.8,132.4 238,133.5 238.1,132.3 238.3,130.5 238.4,132.1 238.6,133 238.7,131.7 238.9,133.1 239,132.6 239.2,132.4 239.3,131.8 239.5,131.5 239.6,131.8 239.8,132.1 239.9,132.5 240.1,132.4 240.2,131.7 240.4,132.1 240.5,132.4 240.7,130.5 240.8,131.3 241,131.3 241.1,131.8 241.3,131.7 241.4,131.8 241.6,131.2 241.7,132.7 241.9,132.3 242,130.5 242.2,132 242.3,130.9 242.5,135.1 242.6,131.6 242.8,131.6 242.9,132.1 243.1,131.8 243.2,132 243.4,135.4 243.5,132.2 243.7,132.8 243.8,133.1 244,131.1 244.1,133.6 244.3,132.7 244.4,132.9 244.6,131.2 244.7,132.8 244.9,132.4 245,131.5 245.2,134.2 245.3,132.6 245.5,131.8 245.6,132.2 245.8,132.9 245.9,133.1 246.1,132.6 246.2,133.2 246.4,133.4 246.5,130.8 246.7,131.6 246.8,131.1 247,132.1" fill="none" stroke="#ff00ff" stroke-width="1.5" stroke-linejoin="round"/>
<polyline points="56.3,217.4 56.5,217.3 56.6,218.8 56.8,218.3 56.9,219.1 57.1,219.7 57.2,218.4 57.4,220.4 57.5,219.7 57.7,220.4 57.8,220.8 58,221.9 58.1,222.1 58.3,223.2 58.4,222.1 58.6,221.7 58.7,221.9 58.9,223.1 59,224.1 59.2,223.1 59.3,222.5 59.5,223.4 59.6,223.5 59.8,223.5 59.9,223 60.1,221.7 60.2,223.5 60.4,225 60.5,224.4 60.7,222.5 60.8,224.5 61,223.1 61.1,226.4 61.3,225 61.4,223.9 61.6,225.7 61.7,224.5 61.9,225.7 62,225.4 62.2,224.4 62.3,226 62.5,224.4 62.6,226.7 62.8,225.7 62.9,224.8 63.1,224.2 63.2,227.1 63.4,226.9 63.5,224.6 63.7,227.1 63.8,225.8 64,225.4 64.1,225.5 64.3,225.3 64.4,226.7 64.6,225.6 64.7,223.8 64.9,227.1 65,226 65.2,224.2 65.3,224.8 65.5,224.2 65.6,224.9 65.8,225.1 65.9,224.9 66.1,224.1 66.2,223.8 66.4,225.1 66.5,224.2 66.7,226.1 66.8,223.4 67,224.6 67.1,223.9 67.3,223 67.4,224.7 67.6,223.6 67.7,222.6 67.9,223 68,224 68.2,222 68.3,224 68.5,223.3 68.6,222.4 68.8,223.7 68.9,223.9 69.1,222.8 69.2,222.3 69.4,223.6 69.5,223.3 69.7,221.1 69.8,221.6 70,221.5 70.1,221.3 70.3,220.3 70.4,222.2 70.6,221.4 70.7,221.3 70.9,222.4 71,220.6 71.2,220.9 71.3,221.1 71.5,220.4 71.6,220.6 71.8,221.2 71.9,220.4 72.1,221.4 72.2,219.6 72.4,220.3 72.5,218.8 72.7,219.8 72.8,219.2 73,220.8 73.1,220.2 73.3,219.9 73.4,220.9 73.6,220.5 73.7,219.8 73.9,218.5 74,217.7 74.2,218.8 74.3,218.5 74.5,218.1 74.6,218.4 74.8,217.1 74.9,219.7 75.1,217.4 75.2,217.7 75.4,218.7 75.5,216.8 75.7,218.9 75.8,218.8 76,217.7 76.1,216.6 76.3,217.5 76.4,216.3 76.6,219 76.7,217.8 76.9,217.1 77,216.9 77.2,217.5 77.3,219 77.5,216.6 77.6,217.2 77.8,216.2 77.9,218.3 78.1,217.9 78.2,219.7 78.4,217.8 78.5,217.5 78.7,217.4 78.8,218.8 79,216.7 79.1,218.8 79.3,218.5 79.4,217.9 79.6,217.7 79.7,219.4 79.9,220.2 80,218.3 80.2,219.3 80.3,220.4 80.5,218.5 80.6,218.9 80.8,218.2 80.9,219.2 81.1,219.4 81.2,219.2 81.4,219.1 81.5,218.5 81.7,218.8 81.8,219.2 82,220.7 82.1,219.9 82.3,219.7 82.4,221.1 82.6,221.2 82.7,220.2 82.9,220.4 83,221.6 83.2,221.5 83.3,220.5 83.5,221.6 83.6,221.4 83.8,222.5 83.9,220.9 84.1,222.5 84.2,222.2 84.4,221.1 84.5,223 84.7,223 84.8,221.2 85,224.1 85.1,221.5 85.3,219.4 85.4,222.5 85.6,223.6 85.7,223.5 85.9,223.1 86,224.5 86.2,223.8 86.3,224.7 86.5,226.1 86.6,222.4 86.8,221.7 86.9,223.7 87.1,223.2 87.2,224.3 87.4,224.5 87.5,223.5 87.7,223.6 87.8,224.5 88,224.7 88.1,222.7 88.3,225.9 88.4,225.2 88.6,225.2 88.7,225.6 88.9,224.5 89,225.4 89.2,226.4 89.3,226.5 89.5,226 89.6,225.4 89.8,225 89.9,226.8 90.1,226.2 90.2,225.3 90.4,223.8 90.5,224.9 90.7,224 90.8,226.7 91,225.8 91.1,224.9 91.3,225.3 91.4,227.7 91.6,226.5 91.7,224.2 91.9,225.2 92,224.1 92.2,223.6 92.3,225.2 92.5,227.1 92.6,226.2 92.8,224.8 92.9,224.3 93.1,224.7 93.2,225.4 93.4,223.1 93.5,222.6 93.7,225.8 93.8,224.3 94,225.3 94.1,224 94.3,225 94.5,223 94.6,223.9 94.8,224.7 94.9,224.1 95.1,222.7 95.2,223.8 95.4,222.3 95.5,221.5 95.7,223.1 95.8,223.8 96,223.2 96.1,221.2 96.3,223 96.4,222.7 96.6,221.6 96.7,219.7 96.9,222.7 97,222.5 97.2,222 97.3,220 97.5,220.1 97.6,222.2 97.8,221.9 97.9,221.5 98.1,220.8 98.2,221.2 98.4,220.3 98.5,220.4 98.7,219.7 98.8,220.6 99,219.9 99.1,221 99.3,220.7 99.4,219.2 99.6,221.4 99.7,219.2 99.9,220 100,220.4 100.2,220.5 100.3,217.2 100.5,220 100.6,220 100.8,220.1 100.9,216.7 101.1,218 101.2,218.4 101.4,218 101.5,219.5 101.7,217.6 101.8,219.2 102,218.5 102.1,216.6 102.3,217 102.4,217.4 102.6,217.8 102.7,218.5 102.9,217.4 103,218.3 103.2,216.1 103.3,214.7 103.5,217.1 103.6,217.8 103.8,217 103.9,216.4 104.1,217.7 104.2,219 104.4,217.2 104.5,216.7 104.7,216.6 104.8,219.1 105,217.4 105.1,218 105.3,218.6 105.4,218.5 105.6,216.8 105.7,218.5 105.9,217.2 106,218.3 106.2,218.8 106.3,217.5 106.5,218 106.6,217.7 106.8,219 106.9,217.8 107.1,218.8 107.2,217.6 107.4,218.6 107.5,218.5 107.7,218.9 107.8,219.2 108,219 108.1,219.1 108.3,217.6 108.4,220.6 108.6,219.1 108.7,219.6 108.9,219.2 109,221 109.2,219.4 109.3,220.8 109.5,221.1 109.6,222.1 109.8,221.8 109.9,221.4 110.1,219.9 110.2,222.3 110.4,222.3 110.5,222.1 110.7,222.2 110.8,221.6 111,221.2 111.1,222.8 111.3,223.1 111.4,221.1 111.6,223 111.7,222.5 111.9,223.2 112,222.8 112.2,223.7 112.3,223.8 112.5,223.8 112.6,221.9 112.8,224 112.9,223.5 113.1,222.6 113.2,224.4 113.4,222.7 113.5,224.9 113.7,225.7 113.8,223.9 114,225.3 114.1,225.1 114.3,225.4 114.4,223.7 114.6,225.6 114.7,225.3 114.9,226 115,225.5 115.2,226.6 115.3,225.9 115.5,226.4 115.6,227.1 115.8,226.1 115.9,226.9 116.1,226.3 116.2,226.6 116.4,225.8 116.5,227 116.7,227.4 116.8,226.2 117,227 117.1,226.7 117.3,225.3 117.4,226.6 117.6,227.4 117.7,225.8 117.9,224.6 118,226.3 118.2,225.5 118.3,227.7 118.5,225.9 118.6,225.9 118.8,225.3 118.9,226 119.1,225.1 119.2,224.8 119.4,225.4 119.5,224.6 119.7,226.4 119.8,224.1 120,225 120.1,224.3 120.3,223.6 120.4,226.1 120.6,222.7 120.7,225.7 120.9,223 121,224.2 121.2,226 121.3,222 121.5,222.6 121.6,224.8 121.8,223.7 121.9,222.9 122.1,223.2 122.2,222.3 122.4,223.1 122.5,224.2 122.7,222.4 122.8,222.7 123,223.6 123.1,224.1 123.3,221.3 123.4,222.4 123.6,221.5 123.7,221.3 123.9,221.5 124,221.1 124.2,220.1 124.3,219.7 124.5,220.7 124.6,221.4 124.8,221.1 124.9,220.6 125.1,220.7 125.2,221.4 125.4,221.3 125.5,220.4 125.7,220.3 125.8,221.9 126,219.8 126.1,219.5 126.3,218.4 126.4,220.1 126.6,219.3 126.7,221.1 126.9,219 127,219.9 127.2,219.8 127.3,220.3 127.5,217.6 127.6,220 127.8,218.5 127.9,220.5 128.1,218 128.2,217.8 128.4,217.7 128.5,215.9 128.7,218.3 128.8,217.8 129,216.8 129.1,217.5 129.3,219.5 129.4,217.7 129.6,217.3 129.7,218.7 129.9,216.5 130,217 130.2,216.6 130.3,216.8 130.5,217.6 130.6,217.5 130.8,216.3 130.9,216.8 131.1,216.1 131.2,216.6 131.4,216.9 131.5,216.3 131.7,216.4 131.8,217.1 132,213.1 132.1,217.5 132.3,217 132.4,216.4 132.6,216.7 132.8,216.9 132.9,217.3 133.1,217.6 133.2,217.4 133.4,216.9 133.5,219 133.7,218.6 133.8,218 134,218.8 134.1,218.4 134.3,218 134.4,218.4 134.6,220.8 134.7,219.4 134.9,219.6 135,218.4 135.2,219.4 135.3,221 135.5,219.5 135.6,220.2 135.8,220.4 135.9,220 136.1,221 136.2,219.9 136.4,220.3 136.5,219.4 136.7,222.4 136.8,220.9 137,220.4 137.1,221.6 137.3,220.1 137.4,220.6 137.6,220.1 137.7,220.9 137.9,220.6 138,221.6 138.2,221.1 138.3,220.8 138.5,221.1 138.6,221.4 138.8,221.1 138.9,222.5 139.1,222.3 139.2,222 139.4,222.1 139.5,222.5 139.7,221 139.8,222.4 140,222.4 140.1,221.9 140.3,221.8 140.4,222 140.6,224.5 140.7,222.6 140.9,222.8 141,223.9 141.2,223.6 141.3,224.2 141.5,222.4 141.6,222.6 141.8,226.5 141.9,223.7 142.1,228.3 142.2,224.1 142.4,224.9 142.5,223.1 142.7,224.5 142.8,224.4 143,225.1 143.1,224.7 143.3,224.2 143.4,225.1 143.6,222.7 143.7,225.8 143.9,223.8 144,224.8 144.2,226.6 144.3,224.9 144.5,225.9 144.6,225.2 144.8,224.2 144.9,225.5 145.1,225.1 145.2,226.8 145.4,225.4 145.5,224.5 145.7,225.4 145.8,226.2 146,224.8 146.1,226.4 146.3,226.4 146.4,227.5 146.6,225.1 146.7,226.1 146.9,223.9 147,224.8 147.2,225.1 147.3,225.2 147.5,224.5 147.6,224.3 147.8,223.6 147.9,223.5 148.1,223.9 148.2,223.8 148.4,223.6 148.5,223.7 148.7,223.6 148.8,220.8 149,221.7 149.1,221.8 149.3,221.2 149.4,222.5 149.6,222.1 149.7,221.2 149.9,221.4 150,222.3 150.2,220.9 150.3,220.9 150.5,221.9 150.6,221.5 150.8,222.3 150.9,218.7 151.1,221.7 151.2,220.6 151.4,220.2 151.5,221 151.7,218.7 151.8,221.3 152,221.8 152.1,221 152.3,220.7 152.4,221.8 152.6,220.9 152.7,221.7 152.9,222.7 153,221.5 153.2,221.6 153.3,221.2 153.5,221 153.6,221 153.8,220.8 153.9,221.7 154.1,219.3 154.2,220.5 154.4,221.3 154.5,220 154.7,220.6 154.8,220.1 155,221 155.1,221.4 155.3,221.9 155.4,221.1 155.6,220 155.7,220.8 155.9,221.1 156,221.8 156.2,218.7 156.3,220.9 156.5,219 156.6,221.2 156.8,220.9 156.9,220.9 157.1,221.3 157.2,220.8 157.4,219.9 157.5,220.8 157.7,221.5 157.8,220.4 158,220.5 158.1,219.4 158.3,221.4 158.4,220 158.6,220.7 158.7,220 158.9,219.7 159,220.2 159.2,221.5 159.3,221.1 159.5,221.6 159.6,218.9 159.8,219.6 159.9,220.8 160.1,221.7 160.2,222.3 160.4,219.2 160.5,219.1 160.7,220.8 160.8,220.1 161,219.5 161.1,220.7 161.3,219.7 161.4,218.4 161.6,220.3 161.7,220.4 161.9,220.9 162,221.1 162.2,220.5 162.3,220.1 162.5,219.8 162.6,218.9 162.8,219.9 162.9,221.2 163.1,220.9 163.2,222.1 163.4,220.2 163.5,218.8 163.7,221 163.8,221.2 164,219.3 164.1,218.9 164.3,220.5 164.4,221 164.6,219.4 164.7,220.1 164.9,219.8 165,219.5 165.2,219.4 165.3,220.7 165.5,220.3 165.6,220.2 165.8,218.6 165.9,222.4 166.1,220.1 166.2,220.9 166.4,220.1 166.5,221.5 166.7,220 166.8,223.7 167,221.3 167.1,222.3 167.3,220.7 167.4,221.2 167.6,221.6 167.7,223.7 167.9,220.7 168,222.3 168.2,221.6 168.3,222.5 168.5,222.9 168.6,222.5 168.8,222.7 168.9,222.8 169.1,222.1 169.2,222.5 169.4,221.3 169.5,222.5 169.7,222.3 169.8,222.8 170,223.7 170.1,223.5 170.3,223.7 170.4,224.3 170.6,221.4 170.8,223.9 170.9,223.6 171.1,223.7 171.2,222.7 171.4,224.4 171.5,225 171.7,225 171.8,224.2 172,224.9 172.1,225.2 172.3,226.1 172.4,225.7 172.6,224.8 172.7,224.9 172.9,225 173,225.2 173.2,224.6 173.3,225.8 173.5,224.6 173.6,224.6 173.8,225.7 173.9,225 174.1,225.3 174.2,223.8 174.4,226.4 174.5,225.8 174.7,225.7 174.8,226.3 175,226.1 175.1,225.4 175.3,227.8 175.4,225.7 175.6,227 175.7,227.7 175.9,225.7 176,226.3 176.2,225.6 176.3,227.2 176.5,226 176.6,225.4 176.8,227.4 176.9,227.1 177.1,225.5 177.2,227.3 177.4,226.4 177.5,228.5 177.7,227.6 177.8,224.3 178,225.8 178.1,225.3 178.3,226.1 178.4,225.9 178.6,226.4 178.7,225.8 178.9,224.4 179,224.9 179.2,226.7 179.3,226.4 179.5,225.1 179.6,225.1 179.8,224.9 179.9,225 180.1,223.4 180.2,225.5 180.4,224.1 180.5,224.6 180.7,222.2 180.8,224.5 181,225.3 181.1,222.1 181.3,225.2 181.4,224.2 181.6,223.1 181.7,222.2 181.9,224.5 182,223.6 182.2,223.8 182.3,222.9 182.5,222.4 182.6,223.7 182.8,222 182.9,223.5 183.1,221.2 183.2,221.8 183.4,221.2 183.5,223.5 183.7,220.8 183.8,221.3 184,222.7 184.1,222.3 184.3,224 184.4,223.6 184.6,222.5 184.7,222.5 184.9,220.3 185,221.1 185.2,221.6 185.3,221.7 185.5,220.7 185.6,221 185.8,221.1 185.9,222.7 186.1,222.2 186.2,221.5 186.4,221.5 186.5,222 186.7,221.1 186.8,221.5 187,220.2 187.1,222.7 187.3,222.5 187.4,222 187.6,222.1 187.7,221.9 187.9,223.4 188,221.8 188.2,220.5 188.3,220.7 188.5,222.2 188.6,222.5 188.8,222.2 188.9,222.3 189.1,221.7 189.2,220.2 189.4,220.9 189.5,219.9 189.7,221.2 189.8,220.3 190,221.5 190.1,221.3 190.3,219.8 190.4,222.1 190.6,222.1 190.7,220.2 190.9,221.5 191,225.4 191.2,221.1 191.3,222.1 191.5,221.5 191.6,222.3 191.8,221.5 191.9,221.2 192.1,221.8 192.2,222 192.4,221.5 192.5,220.9 192.7,220.6 192.8,221 193,220.8 193.1,221.5 193.3,221.4 193.4,221.2 193.6,221.3 193.7,221.4 193.9,222.6 194,222.3 194.2,220.8 194.3,221.6 194.5,221 194.6,221.2 194.8,221 194.9,220.7 195.1,220 195.2,219.1 195.4,221.4 195.5,222.2 195.7,220.4 195.8,221.6 196,220.9 196.1,221.4 196.3,220.5 196.4,221 196.6,221.1 196.7,219.1 196.9,221.4 197,221.1 197.2,219 197.3,221.7 197.5,221.1 197.6,221.3 197.8,221.5 197.9,220.8 198.1,220.2 198.2,220.8 198.4,220.8 198.5,223.1 198.7,222.7 198.8,220.7 199,220.8 199.1,221.4 199.3,221.6 199.4,220.5 199.6,220.3 199.7,222.8 199.9,217.6 200,219.8 200.2,219.6 200.3,220.4 200.5,221.3 200.6,221.6 200.8,220.8 200.9,219.7 201.1,221.3 201.2,221.6 201.4,221.1 201.5,220.7 201.7,221.6 201.8,221 202,220.1 202.1,221.2 202.3,219.9 202.4,221.9 202.6,221.5 202.7,220.2 202.9,221.3 203,222.2 203.2,219.2 203.3,220.9 203.5,222.5 203.6,219.7 203.8,220.9 203.9,219.8 204.1,221 204.2,218.9 204.4,219.6 204.5,220.6 204.7,221.2 204.8,221.4 205,221.4 205.1,222 205.3,221.6 205.4,221.7 205.6,220.2 205.7,220.9 205.9,223.8 206,223 206.2,221.8 206.3,221.7 206.5,221.9 206.6,220.7 206.8,222.7 206.9,220.7 207.1,220.9 207.2,222.9 207.4,219.2 207.5,221.3 207.7,219.5 207.8,220.4 208,220.9 208.1,220.7 208.3,221.2 208.4,220.3 208.6,220.9 208.7,220 208.9,220.7 209.1,219.8 209.2,221.6 209.4,219.8 209.5,221.6 209.7,220.6 209.8,220.7 210,218.2 210.1,221.1 210.3,219.3 210.4,221.4 210.6,218.4 210.7,221.2 210.9,220.6 211,219.7 211.2,221.1 211.3,220.7 211.5,222.8 211.6,220.6 211.8,222.7 211.9,222.2 212.1,220.4 212.2,220.3 212.4,222.2 212.5,220.9 212.7,221.1 212.8,220.7 213,219.9 213.1,220.6 213.3,220.1 213.4,219.6 213.6,220.7 213.7,222.6 213.9,222.4 214,220.9 214.2,221.1 214.3,221.4 214.5,222.2 214.6,221.3 214.8,220.5 214.9,220.5 215.1,222 215.2,223.3 215.4,220.4 215.5,219.1 215.7,221.7 215.8,220.9 216,221.1 216.1,222.1 216.3,221 216.4,219.8 216.6,219.2 216.7,220.9 216.9,219.9 217,221.2 217.2,219.8 217.3,220.7 217.5,219.7 217.6,220.7 217.8,220.6 217.9,221.5 218.1,222.2 218.2,222.2 218.4,220.2 218.5,222.7 218.7,221.3 218.8,221.5 219,221.5 219.1,222.3 219.3,221.9 219.4,221.6 219.6,221.7 219.7,223.7 219.9,220.4 220,220.9 220.2,221.1 220.3,221 220.5,221.3 220.6,221 220.8,220.6 220.9,219.5 221.1,221.7 221.2,221.5 221.4,220.2 221.5,221.4 221.7,221.4 221.8,221.1 222,219.4 222.1,219.9 222.3,220.5 222.4,222.5 222.6,220.2 222.7,220.7 222.9,220 223,220.6 223.2,221.3 223.3,219.2 223.5,218.5 223.6,221.6 223.8,221.1 223.9,220.5 224.1,221.9 224.2,221.9 224.4,219.1 224.5,220.9 224.7,222 224.8,221.7 225,220.8 225.1,221.9 225.3,220.8 225.4,220 225.6,220.4 225.7,219.9 225.9,221.5 226,219.5 226.2,222 226.3,219.6 226.5,221.1 226.6,219.7 226.8,220.8 226.9,222 227.1,222.1 227.2,222.2 227.4,221 227.5,221.2 227.7,221.3 227.8,221.6 228,220.7 228.1,222.1 228.3,221.4 228.4,222.1 228.6,221.5 228.7,221.7 228.9,220.4 229,220.7 229.2,220 229.3,220.9 229.5,221 229.6,221.9 229.8,220 229.9,224 230.1,221 230.2,222.3 230.4,222.1 230.5,218.9 230.7,220.9 230.8,222.5 231,219 231.1,221.9 231.3,220.3 231.4,220.7 231.6,221.4 231.7,219.5 231.9,221.4 232,220.6 232.2,220.6 232.3,221.9 232.5,224.4 232.6,221.6 232.8,221.9 232.9,221.4 233.1,221.2 233.2,221.8 233.4,223 233.5,221.9 233.7,222.6 233.8,221.6 234,224.2 234.1,220.5 234.3,222.6 234.4,222.7 234.6,222.5 234.7,221.3 234.9,221.4 235,222.3 235.2,222.7 235.3,221.6 235.5,221.8 235.6,223.4 235.8,223.9 235.9,222.6 236.1,222.5 236.2,222.6 236.4,226.4 236.5,223.9 236.7,223.5 236.8,224.5 237,225.7 237.1,224.8 237.3,222.5 237.4,223.8 237.6,223.6 237.7,223.8 237.9,223.1 238,223.9 238.2,223.4 238.3,224.8 238.5,224.6 238.6,223.4 238.8,223.2 238.9,224.4 239.1,225.5 239.2,225.5 239.4,225.1 239.5,222.3 239.7,224.9 239.8,224.8 240,225.2 240.1,224.5 240.3,225.3 240.4,225.2 240.6,228.3 240.7,226.5 240.9,225.8 241,226 241.2,226 241.3,226.3 241.5,225.8 241.6,226.2 241.8,227.2 241.9,227 242.1,226.5 242.2,227.5 242.4,226.5 242.5,225.8 242.7,224.7 242.8,225.6 243,226.2 243.1,226.6 243.3,227.2 243.4,225.6 243.6,225.4 243.7,226.8 243.9,227.1 244,225.6 244.2,226.3 244.3,227.2 244.5,226.2 244.6,225.8 244.8,223.9 244.9,227 245.1,226.3 245.2,225.7 245.4,225.1 245.5,224.4 245.7,225.3 245.8,225.2 246,226.2 246.1,224.1 246.3,226.4 246.4,225 246.6,225.9 246.7,223.9 246.9,225" fill="none" stroke="#ff00ff" stroke-width="1.5" stroke-linejoin="round"/>
<path d="M57.5 19.7 H150.0" fill="none" stroke="#8c8c8c" stroke-width="1"/>
<path d="M61.3 17.3 L57 19.7 L61.3 22.099999999999998 M146.2 17.3 L150.5 19.7 L146.2 22.099999999999998" fill="none" stroke="#444" stroke-width="0.9"/>
<path d="M152.0 19.7 H247.0" fill="none" stroke="#8c8c8c" stroke-width="1"/>
<path d="M155.8 17.3 L151.5 19.7 L155.8 22.099999999999998 M243.2 17.3 L247.5 19.7 L243.2 22.099999999999998" fill="none" stroke="#444" stroke-width="0.9"/>
<text x="103.5" y="19.0" font-size="10.2" text-anchor="middle" fill="#000" font-weight="bold">OFF</text>
<text x="199.3" y="19.0" font-size="10.2" text-anchor="middle" fill="#000" font-weight="bold">ON</text>
<text x="152.6" y="74.4" font-size="12.2" text-anchor="middle" fill="#000" font-weight="bold">1 Gbit/s</text>
<text x="152.6" y="160" font-size="12.2" text-anchor="middle" fill="#000" font-weight="bold">3 Gbit/s</text>
<text x="155.7" y="245.7" font-size="12.2" text-anchor="middle" fill="#000" font-weight="bold">10 Gbit/s</text>
<text x="56" y="260.7" font-size="12.5" text-anchor="middle" fill="#000" font-weight="bold">−10.0</text>
<text x="103.8" y="260.7" font-size="12.5" text-anchor="middle" fill="#000" font-weight="bold">−7.5</text>
<text x="151.5" y="260.7" font-size="12.5" text-anchor="middle" fill="#000" font-weight="bold">−5.0</text>
<text x="199.2" y="260.7" font-size="12.5" text-anchor="middle" fill="#000" font-weight="bold">−2.5</text>
<text x="247" y="260.7" font-size="12.5" text-anchor="middle" fill="#000" font-weight="bold">0.0</text>
<text x="151.8" y="273.0" font-size="12" text-anchor="middle" fill="#000" font-weight="bold">Time (s)</text>
<text x="131.2" y="287.3" font-size="11.3" text-anchor="middle" fill="#000" font-weight="normal" stroke="#000" stroke-width="0.25">(a)</text>
<rect x="328.5" y="8.0" width="216.5" height="71.0" fill="none" stroke="#777" stroke-width="0.8"/>
<text x="327.2" y="29.8" font-size="12.4" text-anchor="end" fill="#000" font-weight="bold">0.06</text>
<text x="327.2" y="38.8" font-size="12.4" text-anchor="end" fill="#000" font-weight="bold">0.05</text>
<text x="327.2" y="47.7" font-size="12.4" text-anchor="end" fill="#000" font-weight="bold">0.04</text>
<text x="327.2" y="56.6" font-size="12.4" text-anchor="end" fill="#000" font-weight="bold">0.03</text>
<text x="327.2" y="65.6" font-size="12.4" text-anchor="end" fill="#000" font-weight="bold">0.02</text>
<text x="327.2" y="74.5" font-size="12.4" text-anchor="end" fill="#000" font-weight="bold">0.01</text>
<line x1="328.1" y1="25.7" x2="330.1" y2="25.7" stroke="#aaa" stroke-width="0.7"/>
<line x1="328.1" y1="34.6" x2="330.1" y2="34.6" stroke="#aaa" stroke-width="0.7"/>
<line x1="328.1" y1="43.6" x2="330.1" y2="43.6" stroke="#aaa" stroke-width="0.7"/>
<line x1="328.1" y1="52.5" x2="330.1" y2="52.5" stroke="#aaa" stroke-width="0.7"/>
<line x1="328.1" y1="61.5" x2="330.1" y2="61.5" stroke="#aaa" stroke-width="0.7"/>
<line x1="328.1" y1="70.5" x2="330.1" y2="70.5" stroke="#aaa" stroke-width="0.7"/>
<line x1="338.3" y1="77.4" x2="338.3" y2="79.6" stroke="#aaa" stroke-width="0.7"/>
<line x1="387.5" y1="77.4" x2="387.5" y2="79.6" stroke="#aaa" stroke-width="0.7"/>
<line x1="436.7" y1="77.4" x2="436.7" y2="79.6" stroke="#aaa" stroke-width="0.7"/>
<line x1="485.9" y1="77.4" x2="485.9" y2="79.6" stroke="#aaa" stroke-width="0.7"/>
<line x1="535.1" y1="77.4" x2="535.1" y2="79.6" stroke="#aaa" stroke-width="0.7"/>
<text x="302.0" y="43.5" font-size="12" text-anchor="middle" fill="#12aef0" font-weight="bold" transform="rotate(-90 302.0 43.5)">Voltage</text>
<rect x="328.5" y="93.8" width="216.5" height="71.00000000000001" fill="none" stroke="#777" stroke-width="0.8"/>
<text x="327.2" y="115.6" font-size="12.4" text-anchor="end" fill="#000" font-weight="bold">0.06</text>
<text x="327.2" y="124.5" font-size="12.4" text-anchor="end" fill="#000" font-weight="bold">0.05</text>
<text x="327.2" y="133.5" font-size="12.4" text-anchor="end" fill="#000" font-weight="bold">0.04</text>
<text x="327.2" y="142.4" font-size="12.4" text-anchor="end" fill="#000" font-weight="bold">0.03</text>
<text x="327.2" y="151.4" font-size="12.4" text-anchor="end" fill="#000" font-weight="bold">0.02</text>
<text x="327.2" y="160.3" font-size="12.4" text-anchor="end" fill="#000" font-weight="bold">0.01</text>
<line x1="328.1" y1="111.5" x2="330.1" y2="111.5" stroke="#aaa" stroke-width="0.7"/>
<line x1="328.1" y1="120.5" x2="330.1" y2="120.5" stroke="#aaa" stroke-width="0.7"/>
<line x1="328.1" y1="129.4" x2="330.1" y2="129.4" stroke="#aaa" stroke-width="0.7"/>
<line x1="328.1" y1="138.3" x2="330.1" y2="138.3" stroke="#aaa" stroke-width="0.7"/>
<line x1="328.1" y1="147.3" x2="330.1" y2="147.3" stroke="#aaa" stroke-width="0.7"/>
<line x1="328.1" y1="156.2" x2="330.1" y2="156.2" stroke="#aaa" stroke-width="0.7"/>
<line x1="338.3" y1="163.2" x2="338.3" y2="165.4" stroke="#aaa" stroke-width="0.7"/>
<line x1="387.5" y1="163.2" x2="387.5" y2="165.4" stroke="#aaa" stroke-width="0.7"/>
<line x1="436.7" y1="163.2" x2="436.7" y2="165.4" stroke="#aaa" stroke-width="0.7"/>
<line x1="485.9" y1="163.2" x2="485.9" y2="165.4" stroke="#aaa" stroke-width="0.7"/>
<line x1="535.1" y1="163.2" x2="535.1" y2="165.4" stroke="#aaa" stroke-width="0.7"/>
<text x="302.0" y="129.3" font-size="12" text-anchor="middle" fill="#12aef0" font-weight="bold" transform="rotate(-90 302.0 129.3)">Voltage</text>
<rect x="328.5" y="179.4" width="216.5" height="71.0" fill="none" stroke="#777" stroke-width="0.8"/>
<text x="327.2" y="201.2" font-size="12.4" text-anchor="end" fill="#000" font-weight="bold">0.06</text>
<text x="327.2" y="210.1" font-size="12.4" text-anchor="end" fill="#000" font-weight="bold">0.05</text>
<text x="327.2" y="219.1" font-size="12.4" text-anchor="end" fill="#000" font-weight="bold">0.04</text>
<text x="327.2" y="228" font-size="12.4" text-anchor="end" fill="#000" font-weight="bold">0.03</text>
<text x="327.2" y="237" font-size="12.4" text-anchor="end" fill="#000" font-weight="bold">0.02</text>
<text x="327.2" y="245.9" font-size="12.4" text-anchor="end" fill="#000" font-weight="bold">0.01</text>
<line x1="328.1" y1="197.1" x2="330.1" y2="197.1" stroke="#aaa" stroke-width="0.7"/>
<line x1="328.1" y1="206" x2="330.1" y2="206" stroke="#aaa" stroke-width="0.7"/>
<line x1="328.1" y1="215" x2="330.1" y2="215" stroke="#aaa" stroke-width="0.7"/>
<line x1="328.1" y1="223.9" x2="330.1" y2="223.9" stroke="#aaa" stroke-width="0.7"/>
<line x1="328.1" y1="232.9" x2="330.1" y2="232.9" stroke="#aaa" stroke-width="0.7"/>
<line x1="328.1" y1="241.8" x2="330.1" y2="241.8" stroke="#aaa" stroke-width="0.7"/>
<line x1="338.3" y1="248.8" x2="338.3" y2="251" stroke="#aaa" stroke-width="0.7"/>
<line x1="387.5" y1="248.8" x2="387.5" y2="251" stroke="#aaa" stroke-width="0.7"/>
<line x1="436.7" y1="248.8" x2="436.7" y2="251" stroke="#aaa" stroke-width="0.7"/>
<line x1="485.9" y1="248.8" x2="485.9" y2="251" stroke="#aaa" stroke-width="0.7"/>
<line x1="535.1" y1="248.8" x2="535.1" y2="251" stroke="#aaa" stroke-width="0.7"/>
<text x="302.0" y="214.9" font-size="12" text-anchor="middle" fill="#12aef0" font-weight="bold" transform="rotate(-90 302.0 214.9)">Voltage</text>
<polygon points="338.4,46.8 338.9,50.9 339.3,54.6 339.8,55.7 340.2,57.4 340.7,58.7 341.1,59 341.6,59.7 342,59.4 342.5,60.7 342.9,61.3 343.4,61.4 343.8,61.4 344.3,61.6 344.7,61.5 345.2,60.2 345.6,59.7 346.1,59.9 346.5,60.1 347,59.3 347.4,59.2 347.9,59.3 348.3,57.8 348.8,58.3 349.2,57.2 349.7,57.2 350.2,56.6 350.6,55.6 351.1,55.2 351.5,54.4 352,52.9 352.4,52.4 352.9,51.2 353.3,49.7 353.8,49.4 354.2,47.5 354.7,46.6 355.1,45.9 355.6,44.7 356,43.5 356.5,42.5 356.9,40.7 357.4,40.4 357.8,38.3 358.3,37.7 358.7,35.8 359.2,34.7 359.6,34 360.1,32.2 360.5,31.4 361,30.4 361.4,29.3 361.9,28.7 362.4,28.2 362.8,26.9 363.3,26.7 363.7,26.2 364.2,25.7 364.6,24.8 365.1,25.1 365.5,24.8 366,24.5 366.4,24 366.9,23.8 367.3,23.1 367.8,23.2 368.2,23 368.7,22.5 369.1,21.6 369.6,22 370,22.3 370.5,21.6 370.9,22 371.4,21.8 371.8,21.8 372.3,21.8 372.7,22.5 373.2,21.7 373.7,21.2 374.1,22.8 374.6,23.8 375,23.7 375.5,25.8 375.9,26 376.4,27 376.8,27.9 377.3,28.7 377.7,28.4 378.2,29.1 378.6,29.2 379.1,30.2 379.5,29.5 380,31 380.4,31.7 380.9,30.9 381.3,31 381.8,31.2 382.2,32.2 382.7,32.8 383.1,32.7 383.6,34.4 384,34.6 384.5,35.2 385,35.4 385.4,35.2 385.9,36.3 386.3,35.7 386.8,36.8 387.2,37.1 387.7,37.1 388.1,37.9 388.6,38.1 389,38.8 389.5,38.3 389.9,39.3 390.4,39.5 390.8,38.8 391.3,40.2 391.7,40 392.2,40.3 392.6,41 393.1,40.8 393.5,40.8 394,41.9 394.4,42 394.9,42.4 395.3,42.2 395.8,43.1 396.3,42.9 396.7,44 397.2,44.4 397.6,44.4 398.1,44.6 398.5,44.8 399,45.3 399.4,45.8 399.9,46.1 400.3,45.9 400.8,46.7 401.2,45.7 401.7,46.6 402.1,46.5 402.6,46 403,48.1 403.5,47.2 403.9,47.4 404.4,47.9 404.8,48.4 405.3,49.2 405.7,48.8 406.2,50 406.6,49.9 407.1,50.1 407.5,50.3 408,51.1 408.5,50.4 408.9,51.3 409.4,50.8 409.8,52 410.3,52.5 410.7,51.2 411.2,51.6 411.6,52.6 412.1,52.6 412.5,53.6 413,51.1 413.4,52.7 413.9,51.7 414.3,54.4 414.8,54.6 415.2,54.2 415.7,55.4 416.1,55.5 416.6,55 417,55.3 417.5,56.4 417.9,55.9 418.4,56.7 418.8,55.2 419.3,56.8 419.8,56.2 420.2,56.2 420.7,56.7 421.1,57.6 421.6,57.8 422,56.3 422.5,56.4 422.9,57.3 423.4,57.8 423.8,56.5 424.3,58.1 424.7,56 425.2,58.4 425.6,57.7 426.1,57.2 426.5,57.2 427,55.6 427.4,54.5 427.9,54.7 428.3,52.6 428.8,51.7 429.2,51.7 429.7,50.8 430.1,49.5 430.6,48.2 431.1,46 431.5,46.2 432,43.9 432.4,44 432.9,41.9 433.3,41.3 433.8,40.8 434.2,40.3 434.7,38.9 435.1,39.2 435.6,38.2 436,38.3 436.5,38.9 436.9,39.6 437.4,39.6 437.8,39.8 438.3,40.6 438.7,40.9 439.2,40.4 439.6,41 440.1,39.3 440.5,38.4 441,40.6 441.4,41.3 441.9,40.9 442.3,40.8 442.8,41 443.3,40.8 443.7,40.9 444.2,39.9 444.6,40.4 445.1,40.1 445.5,39.4 446,39.9 446.4,40.2 446.9,41.2 447.3,39.8 447.8,39.5 448.2,39.7 448.7,41.3 449.1,41 449.6,39.8 450,39.4 450.5,40.3 450.9,40.6 451.4,41.3 451.8,40.6 452.3,41.3 452.7,41.3 453.2,40.7 453.6,41.2 454.1,41.2 454.6,40.4 455,40.7 455.5,40.9 455.9,41.1 456.4,40.5 456.8,40.7 457.3,40.8 457.7,41.4 458.2,40.5 458.6,40.4 459.1,38.7 459.5,40.5 460,39.7 460.4,40.5 460.9,40.3 461.3,40 461.8,40.1 462.2,40.5 462.7,40.5 463.1,39.8 463.6,40.6 464,40.8 464.5,40.2 464.9,40.7 465.4,41 465.9,40.1 466.3,40.1 466.8,40.3 467.2,40.9 467.7,41 468.1,41.4 468.6,41.2 469,40.5 469.5,41.3 469.9,41 470.4,39.7 470.8,41 471.3,39.4 471.7,39.5 472.2,39.9 472.6,40.6 473.1,40.2 473.5,39.2 474,40.4 474.4,39.6 474.9,41.1 475.3,38.8 475.8,40.5 476.2,40 476.7,41.4 477.1,41 477.6,40.3 478.1,41 478.5,41.1 479,41.2 479.4,41.2 479.9,38.7 480.3,40.9 480.8,40.6 481.2,41.1 481.7,39.7 482.1,41.1 482.6,41.1 483,40.3 483.5,40.7 483.9,40.5 484.4,41 484.8,41.2 485.3,39 485.7,41 486.2,40.7 486.6,40.6 487.1,40.8 487.5,41.2 488,38.9 488.4,41.1 488.9,41.3 489.4,39.9 489.8,39.9 490.3,41.1 490.7,41.1 491.2,39.9 491.6,39.6 492.1,40.7 492.5,39.7 493,40.9 493.4,40.5 493.9,40.7 494.3,39.6 494.8,40.9 495.2,40.2 495.7,41.3 496.1,41.2 496.6,40.9 497,41.4 497.5,40.3 497.9,39.6 498.4,40.8 498.8,40.6 499.3,41.1 499.7,40.2 500.2,40 500.7,41 501.1,41.3 501.6,41 502,41.2 502.5,40.2 502.9,39.5 503.4,40.4 503.8,41.1 504.3,40.4 504.7,40 505.2,41.1 505.6,40.8 506.1,41 506.5,40.7 507,41.1 507.4,38.8 507.9,41 508.3,40.9 508.8,40.9 509.2,41 509.7,40.4 510.1,41.3 510.6,40.9 511,41.3 511.5,40.5 512,40.1 512.4,40.7 512.9,40.4 513.3,39.9 513.8,41.1 514.2,40.5 514.7,41.3 515.1,40 515.6,41.2 516,41.2 516.5,40.2 516.9,40.3 517.4,39.4 517.8,39.3 518.3,41.1 518.7,40.9 519.2,40.4 519.6,41.3 520.1,40.1 520.5,38.9 521,40.4 521.4,41.1 521.9,39.4 522.3,40.6 522.8,40.1 523.2,39.2 523.7,41 524.2,41.1 524.6,41.3 525.1,39.8 525.5,40.5 526,38.8 526.4,41.3 526.9,39.6 527.3,38.3 527.8,40.2 528.2,40.9 528.7,41.1 529.1,41.1 529.6,40.2 530,40.3 530.5,40.2 530.9,39.3 531.4,41.2 531.8,39.3 532.3,40.5 532.7,39.3 533.2,41.1 533.6,40.3 534.1,41.1 534.5,40.7 535,38.5 535,48.6 534.5,48.8 534.1,48.4 533.6,49.6 533.2,48.3 532.7,48.2 532.3,49.4 531.8,48.5 531.4,48.3 530.9,48.1 530.5,48.3 530,49.1 529.6,48.2 529.1,49.7 528.7,48.9 528.2,49.3 527.8,48.9 527.3,48.8 526.9,48.6 526.4,48.8 526,48.9 525.5,48.8 525.1,50.1 524.6,48.7 524.2,50.2 523.7,48.3 523.2,49.4 522.8,49.4 522.3,49.3 521.9,48.2 521.4,48.8 521,49.2 520.5,48.8 520.1,49 519.6,48.2 519.2,49.3 518.7,48.2 518.3,48.3 517.8,50.9 517.4,49.9 516.9,48.5 516.5,48.5 516,49.6 515.6,51.3 515.1,49 514.7,48.6 514.2,49.2 513.8,50 513.3,48.1 512.9,49.2 512.4,48.1 512,48 511.5,48.5 511,48.9 510.6,49.2 510.1,48.6 509.7,48.8 509.2,49 508.8,48.9 508.3,48.3 507.9,48.4 507.4,49.3 507,48.9 506.5,48.9 506.1,49.1 505.6,48.9 505.2,51 504.7,49 504.3,50.3 503.8,49.1 503.4,49.8 502.9,48.1 502.5,48.1 502,49.3 501.6,48.8 501.1,49.3 500.7,48.7 500.2,49.6 499.7,49.8 499.3,49 498.8,49.1 498.4,49.8 497.9,48.6 497.5,48.2 497,48.8 496.6,48.7 496.1,48.2 495.7,49.4 495.2,48.4 494.8,48.5 494.3,48.9 493.9,49.1 493.4,48.4 493,48.8 492.5,49.6 492.1,48 491.6,48.6 491.2,50.9 490.7,48.4 490.3,48.1 489.8,49.5 489.4,49.4 488.9,49.3 488.4,49.2 488,48.7 487.5,48.4 487.1,48.2 486.6,48.3 486.2,48.6 485.7,48.8 485.3,48.4 484.8,49.5 484.4,49.8 483.9,48.6 483.5,49.8 483,49.7 482.6,48.1 482.1,48.1 481.7,49 481.2,48.8 480.8,48.5 480.3,48.8 479.9,48.7 479.4,48.3 479,49.2 478.5,48.6 478.1,49.4 477.6,48.5 477.1,48.6 476.7,48.1 476.2,48.8 475.8,50.3 475.3,48.6 474.9,48.4 474.4,48.2 474,49 473.5,48 473.1,48.5 472.6,48.1 472.2,48.2 471.7,48.6 471.3,50.4 470.8,49.7 470.4,49.5 469.9,49.6 469.5,48.9 469,49.1 468.6,48.8 468.1,48 467.7,49.2 467.2,48.3 466.8,49.6 466.3,48.5 465.9,49.8 465.4,48.7 464.9,49.9 464.5,48.3 464,48.1 463.6,49 463.1,48.5 462.7,48.9 462.2,48.3 461.8,48.1 461.3,48.6 460.9,49.6 460.4,48.9 460,49 459.5,50.5 459.1,50.4 458.6,50 458.2,48.3 457.7,48.1 457.3,50.3 456.8,48 456.4,49.1 455.9,48.5 455.5,50.6 455,48.7 454.6,48.1 454.1,49.5 453.6,49.9 453.2,49.1 452.7,49.3 452.3,48.2 451.8,48.1 451.4,48.1 450.9,49.5 450.5,48.8 450,48.6 449.6,48.1 449.1,49.5 448.7,48.6 448.2,48.6 447.8,48.1 447.3,49.4 446.9,48.6 446.4,48.2 446,49.1 445.5,48.7 445.1,48.1 444.6,49 444.2,48.2 443.7,49.6 443.3,48.2 442.8,48.8 442.3,48.4 441.9,48.5 441.4,48.5 441,48.6 440.5,48.9 440.1,48.2 439.6,47.8 439.2,47.9 438.7,48.8 438.3,49 437.8,47.8 437.4,47.1 436.9,45.8 436.5,45.5 436,43.8 435.6,43.7 435.1,44 434.7,44.8 434.2,46.6 433.8,46.2 433.3,46.7 432.9,48.1 432.4,49.7 432,50.7 431.5,51.4 431.1,52.4 430.6,54.3 430.1,54.6 429.7,55.5 429.2,58.9 428.8,58.3 428.3,60.6 427.9,60.3 427.4,61.7 427,61.9 426.5,62.3 426.1,63.9 425.6,63.3 425.2,63.8 424.7,67.3 424.3,67 423.8,66.5 423.4,65.6 422.9,65.9 422.5,66 422,65.6 421.6,66.4 421.1,64.8 420.7,64.9 420.2,65.7 419.8,66 419.3,65 418.8,64.2 418.4,66 417.9,64.8 417.5,64.4 417,63.3 416.6,64.7 416.1,62.6 415.7,62.3 415.2,64.5 414.8,62 414.3,63.6 413.9,61.5 413.4,61.2 413,63 412.5,62.7 412.1,62 411.6,60.9 411.2,59.6 410.7,60.6 410.3,59.5 409.8,59.2 409.4,58.9 408.9,60.2 408.5,58.5 408,59.1 407.5,58.9 407.1,57 406.6,56.9 406.2,56.8 405.7,57 405.3,55.8 404.8,57.8 404.4,57.4 403.9,55.4 403.5,55.2 403,55.5 402.6,54.3 402.1,54.1 401.7,54.1 401.2,55 400.8,53.5 400.3,53.7 399.9,52.6 399.4,53.8 399,51.8 398.5,52.1 398.1,51.1 397.6,51.7 397.2,51 396.7,51.5 396.3,52.3 395.8,51.8 395.3,50.3 394.9,50.1 394.4,49 394,48.9 393.5,48.6 393.1,47.9 392.6,48.6 392.2,47.7 391.7,47.3 391.3,46.8 390.8,46.6 390.4,47.4 389.9,47.1 389.5,45.7 389,45.3 388.6,45.1 388.1,44.6 387.7,44.2 387.2,43.2 386.8,43 386.3,42.5 385.9,42.5 385.4,42.4 385,42 384.5,42.4 384,41.3 383.6,40.1 383.1,41 382.7,40.1 382.2,40 381.8,38.6 381.3,38.8 380.9,39.5 380.4,37.5 380,37.2 379.5,37.8 379.1,37.1 378.6,37.4 378.2,36.9 377.7,35.3 377.3,34.9 376.8,34.3 376.4,33.6 375.9,32.5 375.5,32.1 375,30.8 374.6,29.6 374.1,29.4 373.7,30.2 373.2,28.2 372.7,29 372.3,27.7 371.8,27.2 371.4,27.5 370.9,27 370.5,27.3 370,26.9 369.6,27.6 369.1,27.1 368.7,26.8 368.2,28.8 367.8,27.5 367.3,28 366.9,28.2 366.4,29.5 366,29.7 365.5,30.2 365.1,29.9 364.6,30 364.2,31.3 363.7,31.1 363.3,31.4 362.8,32.5 362.4,33 361.9,33.6 361.4,34.1 361,35 360.5,36.2 360.1,37.4 359.6,38.2 359.2,39.9 358.7,41.5 358.3,42 357.8,43.6 357.4,45.3 356.9,45.8 356.5,47.4 356,48.1 355.6,49.4 355.1,50.8 354.7,51.2 354.2,53.8 353.8,53.6 353.3,55.4 352.9,55.7 352.4,58.2 352,57.9 351.5,59 351.1,60.3 350.6,60.6 350.2,61.6 349.7,61.9 349.2,62.1 348.8,62.6 348.3,64.1 347.9,63.6 347.4,64.3 347,65.1 346.5,64.5 346.1,65.7 345.6,65 345.2,65.6 344.7,66 344.3,66 343.8,65.4 343.4,65.5 342.9,65.4 342.5,64.8 342,65.1 341.6,64.2 341.1,63.7 340.7,63.4 340.2,62.3 339.8,61.1 339.3,58.5 338.9,55.3 338.4,51.5" fill="#12aef0"/>
<polyline points="338.4,50.8 338.5,48 338.6,50.4 338.7,52.7 338.8,54.4 338.9,52.3 338.9,54.5 339,55.1 339.1,53.3 339.2,52.2 339.3,53.2 339.4,58.1 339.5,57.7 339.6,55.6 339.7,57.1 339.8,57.9 339.8,58.2 339.9,59.1 340,63.3 340.1,58.3 340.2,60.2 340.3,58.9 340.4,59.3 340.5,59.1 340.6,60.4 340.7,60 340.7,61.7 340.8,61.6 340.9,59.9 341,64.8 341.1,59.6 341.2,62.3 341.3,65.6 341.4,60.7 341.5,64.3 341.6,64.6 341.6,62.8 341.7,59.1 341.8,64.8 341.9,62.6 342,61.6 342.1,64.8 342.2,61.4 342.3,64.6 342.4,61.9 342.5,63.8 342.5,61.1 342.6,62.3 342.7,61.5 342.8,61.9 342.9,63.5 343,62.9 343.1,63.6 343.2,65.5 343.3,63.2 343.4,60.2 343.4,62.9 343.5,63.6 343.6,65.2 343.7,65.3 343.8,65.1 343.9,63.1 344,64.6 344.1,61 344.2,65.7 344.3,64.2 344.3,64.3 344.4,62.8 344.5,63.5 344.6,62.2 344.7,64.4 344.8,61 344.9,65 345,64.2 345.1,67.2 345.2,63.1 345.2,63 345.3,63.5 345.4,63.1 345.5,62.8 345.6,60.8 345.7,60.7 345.8,61.7 345.9,62.2 346,60.4 346.1,60.4 346.1,62 346.2,64 346.3,62.1 346.4,63.7 346.5,64.2 346.6,63.8 346.7,61.4 346.8,61.4 346.9,58.5 347,60.7 347,62.9 347.1,59.8 347.2,64.5 347.3,64.6 347.4,61 347.5,63.4 347.6,58.8 347.7,59.5 347.8,60.7 347.9,61.4 347.9,60.9 348,59.5 348.1,64.9 348.2,61.6 348.3,61.5 348.4,62.2 348.5,61.1 348.6,60.2 348.7,59.5 348.8,57.3 348.8,63.3 348.9,58.5 349,57 349.1,58.5 349.2,56.9 349.3,63.7 349.4,60.5 349.5,62.4 349.6,62.4 349.7,60.5 349.7,60.4 349.8,57.8 349.9,58.9 350,57.8 350.1,58.9 350.2,57.4 350.3,61.1 350.4,59.9 350.5,58.1 350.6,54.9 350.6,59.4 350.7,59.6 350.8,57.6 350.9,55.1 351,58.3 351.1,59.3 351.2,53.4 351.3,58 351.4,53.2 351.5,56.7 351.5,59.8 351.6,56.4 351.7,57 351.8,55.2 351.9,55.7 352,60 352.1,57.9 352.2,54.5 352.3,54.2 352.4,54.8 352.4,58.8 352.5,54.7 352.6,56.3 352.7,53.2 352.8,51.2 352.9,56.1 353,53.1 353.1,51.5 353.2,51.5 353.3,51.3 353.3,51.3 353.4,49.2 353.5,54.3 353.6,52.5 353.7,53.4 353.8,50.7 353.9,51.8 354,51.2 354.1,52.9 354.2,52 354.3,50.9 354.3,48.8 354.4,47.5 354.5,48 354.6,48.1 354.7,48.1 354.8,46.5 354.9,51.9 355,49 355.1,44.3 355.2,45.9 355.2,45.2 355.3,48 355.4,49.4 355.5,45.2 355.6,48.1 355.7,46.2 355.8,48.7 355.9,48.9 356,46.7 356.1,47.3 356.1,45.7 356.2,44.7 356.3,43 356.4,45.6 356.5,44.6 356.6,43.8 356.7,44.2 356.8,43.7 356.9,41.8 357,42.6 357,45.6 357.1,42.7 357.2,45.6 357.3,40.4 357.4,39.8 357.5,42.4 357.6,43.4 357.7,40.4 357.8,42.6 357.9,42.9 357.9,42.9 358,40.4 358.1,40.3 358.2,36.9 358.3,39.9 358.4,40.1 358.5,42.1 358.6,36.6 358.7,37.2 358.8,36.6 358.8,40 358.9,33.2 359,35.7 359.1,41.5 359.2,38.6 359.3,34.5 359.4,36.7 359.5,38.2 359.6,37.4 359.7,35.7 359.7,34.3 359.8,37.2 359.9,35.4 360,36.7 360.1,35.7 360.2,33.8 360.3,37.2 360.4,33.3 360.5,34.9 360.6,32.6 360.6,33.2 360.7,32.9 360.8,31.9 360.9,33.5 361,35.3 361.1,36.2 361.2,35.2 361.3,31.9 361.4,34.9 361.5,32.7 361.5,35.2 361.6,29.2 361.7,34.3 361.8,30.1 361.9,33.4 362,30.1 362.1,32.6 362.2,30.2 362.3,27 362.4,28.6 362.4,29.9 362.5,30.3 362.6,25.8 362.7,27.7 362.8,28.5 362.9,29.3 363,30 363.1,27.9 363.2,26.5 363.3,29.9 363.3,28.5 363.4,30.8 363.5,27.9 363.6,30.1 363.7,27 363.8,29.1 363.9,28.7 364,29.3 364.1,26.5 364.2,28 364.2,26.5 364.3,27.7 364.4,29.1 364.5,33.6 364.6,27.8 364.7,29.1 364.8,27.8 364.9,29.7 365,28.3 365.1,29.4 365.1,28 365.2,31.8 365.3,29.8 365.4,23.8 365.5,27.5 365.6,27.1 365.7,22.6 365.8,25.1 365.9,25.8 366,25.2 366,26.8 366.1,23.1 366.2,27.9 366.3,27.9 366.4,27 366.5,25.6 366.6,26.2 366.7,25.2 366.8,28.2 366.9,27 366.9,29.7 367,25.2 367.1,28.6 367.2,24.6 367.3,25.4 367.4,23.6 367.5,26.6 367.6,25.4 367.7,26.6 367.8,28.2 367.8,25.2 367.9,26 368,26.9 368.1,25 368.2,24 368.3,25.7 368.4,25.9 368.5,26.4 368.6,26.5 368.7,23.6 368.8,25.6 368.8,27.1 368.9,23.8 369,25.4 369.1,23.4 369.2,24.9 369.3,27.9 369.4,24.9 369.5,22.7 369.6,25.1 369.7,24.8 369.7,26.5 369.8,21.8 369.9,22.6 370,24.2 370.1,21.4 370.2,26.5 370.3,20.5 370.4,22.7 370.5,21.5 370.6,23.1 370.6,25.8 370.7,25.5 370.8,26.1 370.9,25.5 371,19.5 371.1,25.1 371.2,20 371.3,23.2 371.4,23.5 371.5,23.2 371.5,25.7 371.6,22.6 371.7,28.8 371.8,26.1 371.9,27.5 372,26.6 372.1,26.9 372.2,24.7 372.3,29.6 372.4,22.3 372.4,26.1 372.5,25 372.6,24.5 372.7,25.9 372.8,23.3 372.9,27.3 373,27.2 373.1,25.6 373.2,27.2 373.3,22.9 373.3,21.1 373.4,24.2 373.5,25.1 373.6,31.8 373.7,25.2 373.8,28.4 373.9,28 374,31.2 374.1,26.5 374.2,27.9 374.2,25.9 374.3,24.4 374.4,24.2 374.5,24.9 374.6,30.5 374.7,27.8 374.8,26.9 374.9,27.5 375,26.2 375.1,27.6 375.1,27.8 375.2,29.7 375.3,30.5 375.4,24.3 375.5,29.1 375.6,32.1 375.7,26.4 375.8,28.4 375.9,29.6 376,32.1 376,31 376.1,29.2 376.2,31.1 376.3,32.6 376.4,31.1 376.5,35 376.6,31.5 376.7,28 376.8,28.8 376.9,30.5 376.9,30.4 377,32.6 377.1,32.1 377.2,35.6 377.3,33.4 377.4,35.2 377.5,29.7 377.6,30.6 377.7,33.5 377.8,32.1 377.8,33.6 377.9,32.7 378,30.7 378.1,36.6 378.2,35.3 378.3,28.6 378.4,31.1 378.5,32.8 378.6,34.5 378.7,32.7 378.7,29.5 378.8,35.2 378.9,32.7 379,36.3 379.1,34.1 379.2,36 379.3,35.7 379.4,35.9 379.5,32.4 379.6,36.4 379.6,34.4 379.7,30.8 379.8,33.1 379.9,33.3 380,35.4 380.1,36.1 380.2,31.6 380.3,36.4 380.4,34.4 380.5,32 380.5,36.9 380.6,32.9 380.7,31.9 380.8,36.9 380.9,37.4 381,33.5 381.1,38 381.2,37.9 381.3,34.1 381.4,40.6 381.4,35.4 381.5,36.2 381.6,29.6 381.7,37.5 381.8,34.3 381.9,37.1 382,31.6 382.1,39.1 382.2,40 382.3,41.2 382.3,28.7 382.4,38 382.5,37.4 382.6,28.8 382.7,34.8 382.8,36.5 382.9,40.5 383,34.7 383.1,37.5 383.2,36.9 383.2,38.1 383.3,36.2 383.4,39.6 383.5,39.9 383.6,33.9 383.7,40.4 383.8,35.6 383.9,37 384,40.7 384.1,38.1 384.2,39.4 384.2,40 384.3,39.6 384.4,36.7 384.5,35.7 384.6,40.1 384.7,40.3 384.8,39.4 384.9,38 385,40.8 385.1,38.6 385.1,35.1 385.2,39.6 385.3,40.2 385.4,41 385.5,36.7 385.6,37.1 385.7,40.1 385.8,38.1 385.9,39.2 386,41.9 386,40.5 386.1,44.4 386.2,40.4 386.3,44.3 386.4,42.6 386.5,46.6 386.6,40 386.7,39.8 386.8,43.6 386.9,38.8 386.9,39 387,41 387.1,41.4 387.2,36.8 387.3,41.2 387.4,39.8 387.5,40.6 387.6,41.3 387.7,40.4 387.8,43.8 387.8,42.3 387.9,40.6 388,41.4 388.1,44 388.2,43.4 388.3,44.8 388.4,41.1 388.5,41.9 388.6,47 388.7,41.6 388.7,46.2 388.8,44.1 388.9,40.7 389,38.2 389.1,43.7 389.2,40.2 389.3,40.3 389.4,37.6 389.5,45.5 389.6,42.6 389.6,42.5 389.7,43.6 389.8,43.2 389.9,42.9 390,44.1 390.1,42 390.2,35.9 390.3,44.9 390.4,44.1 390.5,43.1 390.5,47.4 390.6,39.4 390.7,35.4 390.8,47.3 390.9,44.5 391,39 391.1,42.4 391.2,45.3 391.3,40.3 391.4,45.2 391.4,49.5 391.5,47.6 391.6,43.8 391.7,44.8 391.8,41.4 391.9,44.5 392,43.3 392.1,41.5 392.2,40.6 392.3,49.6 392.3,44.7 392.4,41.7 392.5,43.4 392.6,48.7 392.7,49.1 392.8,43.1 392.9,45.3 393,47.3 393.1,44 393.2,41.8 393.2,42.4 393.3,45.2 393.4,43.1 393.5,41.7 393.6,44.7 393.7,47.9 393.8,47.3 393.9,44.9 394,50.8 394.1,43.5 394.1,45.5 394.2,42 394.3,48 394.4,45.5 394.5,41.3 394.6,43.7 394.7,51 394.8,48.1 394.9,46.5 395,48.7 395,41.9 395.1,44.1 395.2,42.7 395.3,44.2 395.4,45.5 395.5,48.1 395.6,49.5 395.7,49.5 395.8,54.3 395.9,45.5 395.9,46.9 396,48.4 396.1,44.7 396.2,46.3 396.3,48.3 396.4,44.8 396.5,48.6 396.6,50.8 396.7,44.3 396.8,41.1 396.8,47.8 396.9,44.7 397,48.1 397.1,46.4 397.2,48.6 397.3,51 397.4,50.2 397.5,46.9 397.6,44.7 397.7,41 397.7,42 397.8,45.9 397.9,48.5 398,46.4 398.1,46.6 398.2,43.9 398.3,43.8 398.4,43.6 398.5,50.3 398.6,43 398.6,50.6 398.7,46.1 398.8,50.3 398.9,49.5 399,51 399.1,52.3 399.2,46.7 399.3,46.2 399.4,47.8 399.5,46.9 399.6,51 399.6,48.9 399.7,49.2 399.8,50.5 399.9,48 400,52.5 400.1,44.2 400.2,50.2 400.3,51 400.4,47.4 400.5,47.7 400.5,52.3 400.6,48.9 400.7,44.3 400.8,46 400.9,52.8 401,47.5 401.1,53.8 401.2,54.1 401.3,49.6 401.4,51.8 401.4,47.9 401.5,49.2 401.6,48.4 401.7,52.1 401.8,46.8 401.9,50.2 402,50.7 402.1,52.2 402.2,44.6 402.3,45.6 402.3,48.3 402.4,50.2 402.5,51.3 402.6,51.5 402.7,56.9 402.8,53 402.9,52.9 403,49.8 403.1,53.5 403.2,53.3 403.2,53.3 403.3,51.1 403.4,53.3 403.5,56 403.6,49.3 403.7,45.3 403.8,54.1 403.9,53.9 404,51.1 404.1,50.6 404.1,60 404.2,50.6 404.3,48.5 404.4,50.7 404.5,53.6 404.6,50.4 404.7,51.1 404.8,53.2 404.9,51.1 405,52.8 405,52.4 405.1,49.4 405.2,52.8 405.3,49.2 405.4,55.5 405.5,50 405.6,52.1 405.7,47.5 405.8,51.6 405.9,49.3 405.9,57.5 406,52.7 406.1,54.7 406.2,48 406.3,49.6 406.4,52.8 406.5,49.3 406.6,56.8 406.7,52.3 406.8,54 406.8,54.5 406.9,53.2 407,56 407.1,51.8 407.2,54.9 407.3,57.4 407.4,54.6 407.5,54.3 407.6,53 407.7,54.3 407.7,56.2 407.8,53.5 407.9,49.2 408,54.8 408.1,53.9 408.2,55.8 408.3,54.6 408.4,59.2 408.5,51 408.6,51.7 408.6,56.6 408.7,51.7 408.8,55.8 408.9,54.8 409,49 409.1,57 409.2,59.1 409.3,55.7 409.4,50.9 409.5,57.6 409.5,52.1 409.6,54.9 409.7,56.6 409.8,53.1 409.9,50.4 410,55.1 410.1,55.4 410.2,53.1 410.3,53.3 410.4,58 410.4,55.5 410.5,54.4 410.6,54.1 410.7,56.5 410.8,56.3 410.9,55.5 411,51.9 411.1,55 411.2,54.3 411.3,56.5 411.3,59.8 411.4,59.2 411.5,58.4 411.6,56.8 411.7,55.6 411.8,57.6 411.9,55.2 412,55.7 412.1,54.2 412.2,56.6 412.2,56.6 412.3,62.4 412.4,58.6 412.5,55.9 412.6,59.4 412.7,55.7 412.8,60.2 412.9,59.6 413,66 413.1,54 413.1,57.1 413.2,57.1 413.3,58.4 413.4,59.7 413.5,54.6 413.6,55.4 413.7,58.6 413.8,60.6 413.9,54.4 414,53.1 414.1,61.3 414.1,60.5 414.2,61.3 414.3,55.1 414.4,57.5 414.5,58.8 414.6,59.5 414.7,57.9 414.8,58.1 414.9,61.4 415,57 415,56.8 415.1,57.2 415.2,57 415.3,59 415.4,58 415.5,57.3 415.6,63 415.7,59.7 415.8,57.8 415.9,62.7 415.9,57.2 416,59 416.1,58.7 416.2,57.3 416.3,57.9 416.4,59.4 416.5,54.9 416.6,58.1 416.7,60.1 416.8,60.2 416.8,60.3 416.9,66.6 417,61.5 417.1,59.1 417.2,59.2 417.3,59.7 417.4,61 417.5,58.9 417.6,64.4 417.7,56.5 417.7,61.8 417.8,61.5 417.9,56.5 418,61.9 418.1,61.8 418.2,58.2 418.3,67.2 418.4,62.4 418.5,59.3 418.6,58.8 418.6,58.1 418.7,61.2 418.8,60.6 418.9,56.2 419,57.3 419.1,58.4 419.2,59.3 419.3,59.5 419.4,58.6 419.5,62.6 419.5,63.6 419.6,61 419.7,54.1 419.8,60.3 419.9,62.6 420,60.6 420.1,61.7 420.2,61.3 420.3,56.4 420.4,53.2 420.4,62.9 420.5,59.5 420.6,62.4 420.7,60.2 420.8,60.6 420.9,65.4 421,57.5 421.1,61.2 421.2,57.9 421.3,61.5 421.3,62.8 421.4,63.4 421.5,61.9 421.6,57.2 421.7,62.2 421.8,64.2 421.9,64.6 422,68.1 422.1,63.3 422.2,58.4 422.2,60 422.3,61.9 422.4,64.9 422.5,58.1 422.6,64.5 422.7,63.7 422.8,59 422.9,63.6 423,59.4 423.1,61.8 423.1,60.9 423.2,62.6 423.3,58.2 423.4,63.5 423.5,55.1 423.6,60.6 423.7,60.1 423.8,66.8 423.9,63.5 424,60.4 424,59.1 424.1,62 424.2,59.9 424.3,68.8 424.4,53.1 424.5,62 424.6,54 424.7,64.9 424.8,59.1 424.9,66.5 424.9,59.7 425,63.7 425.1,61.7 425.2,63.7 425.3,61.2 425.4,54.8 425.5,59.4 425.6,57.6 425.7,62.7 425.8,61.7 425.8,60.5 425.9,61.3 426,60.7 426.1,58.9 426.2,64.1 426.3,60.4 426.4,59.4 426.5,56.6 426.6,58.2 426.7,59.4 426.7,58.9 426.8,58.1 426.9,58.9 427,56.5 427.1,58.8 427.2,55.4 427.3,56.7 427.4,56.8 427.5,60 427.6,59.1 427.6,58 427.7,55.3 427.8,56.7 427.9,59 428,59.8 428.1,53.9 428.2,55.9 428.3,56.8 428.4,57.1 428.5,56.2 428.5,57.4 428.6,52.7 428.7,58.8 428.8,52.9 428.9,55.2 429,56 429.1,57.1 429.2,56.3 429.3,56 429.4,56.7 429.5,53.5 429.5,55.1 429.6,56.5 429.7,51.5 429.8,49.9 429.9,50.5 430,55.4 430.1,54.8 430.2,51.2 430.3,52.2 430.4,52.5 430.4,53.5 430.5,47.1 430.6,49.7 430.7,50.1 430.8,51.1 430.9,50.4 431,49.3 431.1,50.4 431.2,44.2 431.3,55.8 431.3,50.9 431.4,50.8 431.5,47.3 431.6,49.3 431.7,52.5 431.8,51.8 431.9,47.9 432,44.9 432.1,47.6 432.2,46.4 432.2,48.6 432.3,43.9 432.4,45.9 432.5,46.6 432.6,44.9 432.7,47.8 432.8,43 432.9,42.6 433,44.2 433.1,46.5 433.1,43.9 433.2,43.1 433.3,45.8 433.4,44.4 433.5,42.7 433.6,43.9 433.7,43 433.8,44.6 433.9,43.5 434,41.3 434,41.9 434.1,41.9 434.2,43.4 434.3,43.3 434.4,40.6 434.5,41.9 434.6,42.8 434.7,44.3 434.8,42.4 434.9,45.9 434.9,41.7 435,43.1 435.1,40.8 435.2,39.3 435.3,41.5 435.4,42.2 435.5,41.8 435.6,41.4 435.7,40.3 435.8,39.3 435.8,40.3 435.9,41.9 436,43 436.1,34.1 436.2,42.3 436.3,43.4 436.4,43.9 436.5,42.2 436.6,42.9 436.7,40.7 436.7,41.7 436.8,43.1 436.9,39.9 437,40 437.1,43.2 437.2,38.8 437.3,43.1 437.4,38.7 437.5,43.9 437.6,43.6 437.6,41.9 437.7,40.9 437.8,42.3 437.9,37.1 438,42.7 438.1,44.3 438.2,47.6 438.3,42.5 438.4,43.5 438.5,48.3 438.5,49.4 438.6,42.7 438.7,47.3 438.8,47.7 438.9,45.8 439,41.3 439.1,41.4 439.2,46 439.3,51.4 439.4,43.8 439.4,49.1 439.5,50.1 439.6,40.6 439.7,42.6 439.8,49 439.9,47.4 440,46.1 440.1,44.4 440.2,46.4 440.3,42.6 440.3,52.1 440.4,41 440.5,39.1 440.6,45 440.7,48.9 440.8,43.1 440.9,44.4 441,41.5 441.1,44.4 441.2,41.5 441.2,41.6 441.3,40.2 441.4,43 441.5,50.3 441.6,44.5 441.7,45.2 441.8,51.4 441.9,42.7 442,41.6 442.1,46.2 442.1,40.9 442.2,45.6 442.3,48.1 442.4,41.4 442.5,43.1 442.6,49.8 442.7,41.4 442.8,42.6 442.9,45.4 443,43.7 443,42.1 443.1,49.5 443.2,42.9 443.3,45.6 443.4,43.4 443.5,43.9 443.6,40.5 443.7,47.4 443.8,43.3 443.9,48.5 443.9,41.1 444,43.2 444.1,46.1 444.2,45 444.3,42.6 444.4,44.2 444.5,40.7 444.6,44.8 444.7,36.6 444.8,45.2 444.9,48.7 444.9,47.3 445,47.2 445.1,43.4 445.2,46.1 445.3,43.4 445.4,44.4 445.5,44.3 445.6,34.4 445.7,47.4 445.8,46 445.8,47.2 445.9,41.8 446,46.7 446.1,46.1 446.2,37.9 446.3,39.3 446.4,44.8 446.5,42.6 446.6,44.6 446.7,42.7 446.7,49.2 446.8,38.9 446.9,40.5 447,41.7 447.1,40.5 447.2,42.9 447.3,44.5 447.4,40.6 447.5,45.7 447.6,48.6 447.6,48 447.7,50.7 447.8,48.1 447.9,44.5 448,50 448.1,46.8 448.2,50.3 448.3,44.1 448.4,38.3 448.5,41.1 448.5,45.2 448.6,46.3 448.7,44 448.8,47.7 448.9,41.2 449,42.5 449.1,47.7 449.2,44.8 449.3,45 449.4,48.9 449.4,48 449.5,42.3 449.6,45.3 449.7,39.5 449.8,44.6 449.9,45.9 450,39.4 450.1,49.4 450.2,50.7 450.3,46.2 450.3,47.5 450.4,49.2 450.5,44.2 450.6,47.8 450.7,45.9 450.8,40.1 450.9,42 451,43 451.1,47.9 451.2,45 451.2,47.7 451.3,43.3 451.4,40.8 451.5,51 451.6,53 451.7,45.9 451.8,44.1 451.9,48.3 452,41.3 452.1,44.1 452.1,40.4 452.2,46.2 452.3,45.5 452.4,43.5 452.5,42.7 452.6,40.1 452.7,42.2 452.8,48.4 452.9,43.6 453,48.5 453,42.1 453.1,44.5 453.2,43.3 453.3,43.9 453.4,47 453.5,38.5 453.6,47 453.7,46.8 453.8,44.7 453.9,44.9 453.9,44 454,46.8 454.1,44.9 454.2,42.1 454.3,45.2 454.4,47.6 454.5,45.8 454.6,44.8 454.7,45.3 454.8,43.2 454.8,43.3 454.9,39 455,44.2 455.1,47.7 455.2,43.5 455.3,42 455.4,47.4 455.5,45.2 455.6,45.1 455.7,46.1 455.7,46.8 455.8,44.6 455.9,42.2 456,50 456.1,44.9 456.2,42.4 456.3,45.3 456.4,48.3 456.5,40.4 456.6,48.7 456.6,44.3 456.7,50.7 456.8,46.7 456.9,44.4 457,48.5 457.1,48.5 457.2,43.7 457.3,45.4 457.4,43.2 457.5,47.5 457.5,40.5 457.6,44.2 457.7,38.3 457.8,46.5 457.9,38 458,41.5 458.1,45.5 458.2,43.7 458.3,43.4 458.4,41.8 458.4,43.3 458.5,39.4 458.6,45.7 458.7,47.1 458.8,47 458.9,44.6 459,48.4 459.1,46.1 459.2,47.6 459.3,45.9 459.3,44.8 459.4,42.4 459.5,36.8 459.6,46.6 459.7,44.4 459.8,50.7 459.9,38.8 460,47.2 460.1,41.9 460.2,44.7 460.3,42.1 460.3,45.8 460.4,44.6 460.5,47.3 460.6,45.2 460.7,46.1 460.8,48.5 460.9,46.3 461,44.3 461.1,48.4 461.2,44.4 461.2,45.9 461.3,43.8 461.4,42.7 461.5,35.7 461.6,46.8 461.7,41.3 461.8,46.9 461.9,50.1 462,40.8 462.1,47.4 462.1,44.4 462.2,46.1 462.3,41.1 462.4,44.8 462.5,45.2 462.6,49 462.7,51.1 462.8,45.7 462.9,43.6 463,51.4 463,44.4 463.1,44.6 463.2,45 463.3,46.1 463.4,46.9 463.5,43 463.6,44.4 463.7,50.4 463.8,49.5 463.9,46.1 463.9,45.6 464,44 464.1,47.8 464.2,43.2 464.3,45.1 464.4,43.4 464.5,42.9 464.6,44.9 464.7,44.8 464.8,43 464.8,44.6 464.9,44.9 465,43.3 465.1,42.8 465.2,44.3 465.3,46.8 465.4,48.1 465.5,45.3 465.6,43.9 465.7,44.7 465.7,50.5 465.8,47.5 465.9,41.9 466,44.6 466.1,43.2 466.2,43.7 466.3,39.7 466.4,44.8 466.5,40.7 466.6,43 466.6,49.3 466.7,47.7 466.8,42.2 466.9,41.7 467,42 467.1,39.1 467.2,41.8 467.3,43.9 467.4,41.6 467.5,47 467.5,44.6 467.6,43.2 467.7,50 467.8,46.9 467.9,45 468,50.3 468.1,48.7 468.2,42.6 468.3,45.7 468.4,43.4 468.4,40.4 468.5,50.5 468.6,49.3 468.7,40.9 468.8,46.2 468.9,39.8 469,48 469.1,44.6 469.2,43.9 469.3,48.5 469.3,44.8 469.4,44 469.5,47.5 469.6,43.8 469.7,47.4 469.8,44.8 469.9,47.2 470,46.6 470.1,47.1 470.2,41.7 470.2,50.4 470.3,44.3 470.4,50.1 470.5,43 470.6,43.9 470.7,44 470.8,48.2 470.9,43.5 471,46 471.1,40 471.1,43.3 471.2,45.4 471.3,44.4 471.4,39.1 471.5,46.3 471.6,41.8 471.7,50.6 471.8,44.2 471.9,51.6 472,46.8 472,46.2 472.1,43.3 472.2,44.4 472.3,46.1 472.4,38.9 472.5,47.8 472.6,41.2 472.7,44 472.8,36.5 472.9,46.1 472.9,47 473,45.6 473.1,45.7 473.2,43.6 473.3,45.2 473.4,48.4 473.5,43.5 473.6,46.3 473.7,47 473.8,44 473.8,45.5 473.9,45.4 474,43.3 474.1,52.2 474.2,43.4 474.3,50 474.4,48 474.5,38.6 474.6,45.5 474.7,47.9 474.8,47.2 474.8,42 474.9,45.5 475,41.1 475.1,41.6 475.2,44 475.3,45.3 475.4,49.6 475.5,45.8 475.6,48 475.7,41.1 475.7,41.2 475.8,43.3 475.9,50.1 476,40.7 476.1,39.9 476.2,44.5 476.3,48.4 476.4,39.8 476.5,44 476.6,40.6 476.6,49.2 476.7,46.9 476.8,45.6 476.9,44.6 477,44 477.1,45.2 477.2,42.8 477.3,42 477.4,41.3 477.5,44.8 477.5,42.3 477.6,47.4 477.7,38.3 477.8,46.5 477.9,46.4 478,48.5 478.1,44 478.2,40.1 478.3,41.9 478.4,48.2 478.4,43.8 478.5,43.5 478.6,42.9 478.7,44.5 478.8,44 478.9,40 479,42.9 479.1,47.8 479.2,49.2 479.3,44.4 479.3,43.2 479.4,48.9 479.5,44.2 479.6,41.1 479.7,44.3 479.8,46.9 479.9,49.5 480,43.2 480.1,46.4 480.2,43.7 480.2,48.2 480.3,45.5 480.4,45.5 480.5,41.7 480.6,43.8 480.7,43.7 480.8,33.7 480.9,47.4 481,44.7 481.1,44.1 481.1,43.6 481.2,44.8 481.3,45.5 481.4,40.7 481.5,45.1 481.6,45.1 481.7,44.8 481.8,40.2 481.9,44.3 482,40.8 482,45.8 482.1,48.8 482.2,47.4 482.3,43.7 482.4,43.1 482.5,43 482.6,45.8 482.7,42.7 482.8,43.1 482.9,37 482.9,42.1 483,42.3 483.1,43.1 483.2,48.4 483.3,40.6 483.4,40.6 483.5,46.6 483.6,41.7 483.7,44.2 483.8,45.3 483.8,44.8 483.9,42.3 484,47.5 484.1,49.3 484.2,41.6 484.3,43.9 484.4,47.6 484.5,44.1 484.6,41.7 484.7,43.4 484.7,47.3 484.8,41.7 484.9,45.5 485,45.9 485.1,42.7 485.2,46.4 485.3,46.8 485.4,47.8 485.5,47.6 485.6,40.2 485.6,47.5 485.7,46.5 485.8,47.7 485.9,42.1 486,47.5 486.1,45.9 486.2,41.2 486.3,48.6 486.4,42.3 486.5,41.6 486.5,45.9 486.6,42.9 486.7,45.8 486.8,44 486.9,45.6 487,47.2 487.1,44.6 487.2,47.4 487.3,47.3 487.4,42.2 487.4,47.3 487.5,46.6 487.6,45.1 487.7,48.1 487.8,49.8 487.9,47.1 488,40.2 488.1,46.1 488.2,44.3 488.3,43.9 488.3,45.8 488.4,43.7 488.5,49.7 488.6,45.6 488.7,44.8 488.8,47.1 488.9,47.2 489,48.4 489.1,46.7 489.2,44.6 489.2,45.2 489.3,38.2 489.4,40.3 489.5,47.9 489.6,43.7 489.7,50.3 489.8,50.2 489.9,40.9 490,45.7 490.1,53.6 490.2,42.3 490.2,46 490.3,44 490.4,44 490.5,43.9 490.6,44.7 490.7,47.1 490.8,42.3 490.9,46.3 491,42.6 491.1,46.4 491.1,45.7 491.2,42.4 491.3,45.2 491.4,42.5 491.5,42.2 491.6,48.3 491.7,39.2 491.8,46.5 491.9,46.9 492,42.9 492,48.1 492.1,47.5 492.2,40.8 492.3,46.4 492.4,46.2 492.5,42.5 492.6,46.5 492.7,47 492.8,42.6 492.9,38.7 492.9,46 493,42.5 493.1,39.5 493.2,43.6 493.3,37.5 493.4,43.7 493.5,49.3 493.6,36 493.7,46.2 493.8,41.9 493.8,43.5 493.9,42 494,46.7 494.1,44.7 494.2,42.4 494.3,40.8 494.4,43.4 494.5,48.3 494.6,41 494.7,46 494.7,45.8 494.8,38.6 494.9,48.1 495,44.6 495.1,51.6 495.2,50.1 495.3,44 495.4,44.3 495.5,41.7 495.6,40.5 495.6,47.2 495.7,44 495.8,43.5 495.9,44.2 496,46.8 496.1,47.6 496.2,44.8 496.3,44.2 496.4,45.1 496.5,51.1 496.5,38.4 496.6,41.2 496.7,46.2 496.8,45.2 496.9,48.5 497,48.8 497.1,50.9 497.2,42.3 497.3,46.7 497.4,44 497.4,47.8 497.5,45.3 497.6,47.5 497.7,42.5 497.8,45.3 497.9,43.2 498,44 498.1,43.4 498.2,41.6 498.3,48.2 498.3,45.7 498.4,48.1 498.5,41.7 498.6,38.7 498.7,42.8 498.8,44.3 498.9,47.2 499,48 499.1,48.5 499.2,49.5 499.2,47 499.3,45.1 499.4,42.4 499.5,46.9 499.6,43.2 499.7,42.3 499.8,46.6 499.9,45.5 500,47.4 500.1,42.6 500.1,48.4 500.2,45.9 500.3,44.3 500.4,42.4 500.5,41.5 500.6,40.6 500.7,49.1 500.8,40.4 500.9,46.7 501,44 501,43 501.1,43.3 501.2,44.5 501.3,47.6 501.4,46.5 501.5,44.8 501.6,40.5 501.7,39.3 501.8,50.6 501.9,41.7 501.9,39.9 502,48.3 502.1,40.1 502.2,47.1 502.3,47.7 502.4,45.5 502.5,47.8 502.6,40.5 502.7,41 502.8,44.2 502.8,44.8 502.9,44.5 503,46.2 503.1,42.5 503.2,38.2 503.3,46 503.4,44.1 503.5,47.3 503.6,51.2 503.7,45 503.7,46.6 503.8,42 503.9,47.6 504,45.8 504.1,45.5 504.2,47.6 504.3,41.3 504.4,46.5 504.5,46.2 504.6,49.7 504.6,39.2 504.7,44.5 504.8,51.5 504.9,43.5 505,43.4 505.1,50.3 505.2,52.5 505.3,45.1 505.4,42.6 505.5,42.9 505.6,43.5 505.6,42.2 505.7,42.3 505.8,45.3 505.9,44.9 506,46.2 506.1,44.8 506.2,41 506.3,47 506.4,45.5 506.5,43 506.5,43.9 506.6,45.8 506.7,45 506.8,44.4 506.9,47.1 507,48.1 507.1,43.8 507.2,44.7 507.3,41.3 507.4,44.2 507.4,46.2 507.5,47.4 507.6,45.3 507.7,44.5 507.8,42.5 507.9,45.4 508,41.4 508.1,45.2 508.2,44.8 508.3,42 508.3,45.8 508.4,44.1 508.5,46.6 508.6,43.3 508.7,46.2 508.8,49.6 508.9,45.3 509,47.2 509.1,42.8 509.2,43.7 509.2,38.9 509.3,44.3 509.4,41.3 509.5,45.1 509.6,38.4 509.7,42.1 509.8,45 509.9,46 510,39.6 510.1,43.5 510.1,52.7 510.2,47.2 510.3,45.2 510.4,36.2 510.5,41.9 510.6,46.4 510.7,45.5 510.8,46.2 510.9,47.7 511,45.1 511,47.4 511.1,39.2 511.2,52.5 511.3,43.8 511.4,42.8 511.5,49.4 511.6,46.6 511.7,47.7 511.8,42.8 511.9,45.6 511.9,46.9 512,41.2 512.1,44.1 512.2,44 512.3,43.8 512.4,42.6 512.5,40.9 512.6,46.1 512.7,45.5 512.8,48.3 512.8,44.5 512.9,42.7 513,40.3 513.1,45 513.2,43.8 513.3,50.9 513.4,51.8 513.5,49.6 513.6,41.9 513.7,40.4 513.7,44 513.8,42 513.9,49.1 514,45.1 514.1,43.5 514.2,44.7 514.3,48.6 514.4,41.8 514.5,46.2 514.6,40.7 514.6,44.1 514.7,42.7 514.8,45.7 514.9,45.2 515,48.4 515.1,46.8 515.2,42.9 515.3,40.6 515.4,42.2 515.5,43.4 515.5,44 515.6,42.4 515.7,48.1 515.8,47.6 515.9,43.9 516,43.2 516.1,44 516.2,44.6 516.3,44.7 516.4,39.7 516.4,43.4 516.5,38.9 516.6,44.8 516.7,46.8 516.8,41.4 516.9,45.2 517,42.8 517.1,42.6 517.2,50.8 517.3,47.5 517.3,46.2 517.4,43.4 517.5,46 517.6,44.1 517.7,46.1 517.8,41.9 517.9,44.5 518,43.5 518.1,40.4 518.2,49.9 518.2,47.2 518.3,42.3 518.4,40.2 518.5,42.5 518.6,42.1 518.7,42.8 518.8,40.1 518.9,42.2 519,44.9 519.1,46 519.1,38.6 519.2,44.7 519.3,41.7 519.4,41.5 519.5,43.7 519.6,42.6 519.7,46.9 519.8,46.9 519.9,43.8 520,42.7 520.1,50.2 520.1,50.5 520.2,45.9 520.3,44.2 520.4,47.8 520.5,49.2 520.6,43.1 520.7,50.3 520.8,44.2 520.9,48.1 521,43.1 521,44.9 521.1,43.3 521.2,44.8 521.3,47.9 521.4,41.9 521.5,43.8 521.6,46.4 521.7,43.3 521.8,51 521.9,40.2 521.9,52.6 522,42.7 522.1,47.7 522.2,49.7 522.3,46.4 522.4,40.3 522.5,43.7 522.6,44.9 522.7,46.5 522.8,47.8 522.8,48.2 522.9,49.3 523,41.7 523.1,47.8 523.2,39.3 523.3,45.2 523.4,41.4 523.5,39.2 523.6,47.6 523.7,44.6 523.7,47.8 523.8,39.8 523.9,40.9 524,44.4 524.1,42.6 524.2,44.9 524.3,42.8 524.4,43.6 524.5,41.1 524.6,48.7 524.6,43.7 524.7,41 524.8,46.8 524.9,46.2 525,45.4 525.1,45.4 525.2,43.5 525.3,44.3 525.4,37.8 525.5,39.8 525.5,40.9 525.6,45.6 525.7,48.5 525.8,44.2 525.9,43.9 526,48.2 526.1,43.6 526.2,46.8 526.3,46.1 526.4,40.6 526.4,45.7 526.5,45.3 526.6,41.1 526.7,41.5 526.8,40.7 526.9,49 527,51.3 527.1,46.9 527.2,49.6 527.3,40.5 527.3,49.1 527.4,50.9 527.5,49.8 527.6,41.8 527.7,48.1 527.8,44.3 527.9,48.1 528,42.7 528.1,44.7 528.2,42.9 528.2,46.2 528.3,44.4 528.4,48.2 528.5,47.3 528.6,46 528.7,44.6 528.8,43.8 528.9,44.7 529,47.1 529.1,45.1 529.1,45.6 529.2,44.6 529.3,44.5 529.4,42.6 529.5,38.8 529.6,46.5 529.7,46.5 529.8,41.7 529.9,50.7 530,41 530,47.8 530.1,45.5 530.2,45.7 530.3,48.3 530.4,47.6 530.5,44.8 530.6,41.4 530.7,40.9 530.8,45.3 530.9,49.7 530.9,47.5 531,44.6 531.1,45.8 531.2,46.9 531.3,50.1 531.4,42.3 531.5,47 531.6,45.6 531.7,42.3 531.8,41.5 531.8,48.7 531.9,45.8 532,44.1 532.1,45 532.2,47.8 532.3,45 532.4,49.8 532.5,43.9 532.6,42.3 532.7,44.4 532.7,41.8 532.8,43.6 532.9,48.6 533,50.1 533.1,46.7 533.2,45.3 533.3,41.9 533.4,41.6 533.5,45.9 533.6,45.2 533.6,42.9 533.7,43.3 533.8,49.6 533.9,47.8 534,44.9 534.1,45.4 534.2,48.7 534.3,45.8 534.4,45.5 534.5,39.8 534.5,39.4 534.6,38.7 534.7,37.6 534.8,44.7 534.9,45.8 535,42" fill="none" stroke="#12aef0" stroke-width="0.8" stroke-linejoin="round"/>
<polygon points="338.4,124.5 338.9,125.4 339.3,126.5 339.8,126.6 340.2,127.4 340.7,128.2 341.1,129.3 341.6,129.1 342,130.8 342.5,130.8 342.9,131.5 343.4,131.2 343.8,132.5 344.3,132.2 344.7,132.9 345.2,133.8 345.6,133.5 346.1,134.3 346.5,133.9 347,135 347.4,135 347.9,135.3 348.3,134.6 348.8,135.1 349.2,134.9 349.7,134.7 350.2,133.5 350.6,133 351.1,132.7 351.5,132.8 352,132.3 352.4,132.3 352.9,131.5 353.3,130.1 353.8,130.5 354.2,129.4 354.7,129.3 355.1,129.3 355.6,128.9 356,128.7 356.5,128.5 356.9,127.9 357.4,126.8 357.8,126.9 358.3,126.8 358.7,126 359.2,126 359.6,125.3 360.1,124.6 360.5,124.3 361,124.4 361.4,124.3 361.9,123 362.4,124.5 362.8,124.3 363.3,125.1 363.7,125 364.2,124.4 364.6,126.5 365.1,126.3 365.5,126.8 366,128.1 366.4,128.5 366.9,129.3 367.3,129.4 367.8,130.4 368.2,130 368.7,131.5 369.1,132 369.6,131.6 370,132.9 370.5,133.2 370.9,134.1 371.4,133.8 371.8,134.9 372.3,135 372.7,135 373.2,134.7 373.7,134 374.1,134.9 374.6,134.5 375,134 375.5,133.3 375.9,133.7 376.4,132.3 376.8,132.9 377.3,132.4 377.7,132.4 378.2,131.6 378.6,131.1 379.1,130.9 379.5,129.8 380,130.2 380.4,129.8 380.9,129.4 381.3,129.2 381.8,128.4 382.2,128.4 382.7,128.3 383.1,127.9 383.6,127.4 384,127.2 384.5,126.8 385,125.9 385.4,125.6 385.9,125.1 386.3,125.1 386.8,124.8 387.2,125 387.7,124 388.1,123.3 388.6,124.8 389,125.1 389.5,125.5 389.9,125.3 390.4,126.4 390.8,126.4 391.3,127.1 391.7,127.2 392.2,127.2 392.6,129 393.1,129.7 393.5,129.8 394,130.5 394.4,131.1 394.9,131.7 395.3,132.1 395.8,132.1 396.3,133.2 396.7,133.5 397.2,134.3 397.6,134.4 398.1,134.9 398.5,134.8 399,135.2 399.4,134.9 399.9,134.3 400.3,134.5 400.8,134.3 401.2,133.7 401.7,133.5 402.1,131.4 402.6,132.5 403,131.8 403.5,130.1 403.9,130.6 404.4,130 404.8,129.8 405.3,129.4 405.7,128.8 406.2,128.5 406.6,127.8 407.1,127.2 407.5,126.4 408,125.1 408.5,126 408.9,125.3 409.4,124.8 409.8,124.5 410.3,124.7 410.7,124.8 411.2,125 411.6,125.5 412.1,126 412.5,126.6 413,126 413.4,127.6 413.9,127.5 414.3,128.4 414.8,129.1 415.2,128.6 415.7,129.5 416.1,129.6 416.6,130.4 417,130.4 417.5,130.5 417.9,131.5 418.4,131.4 418.8,131.4 419.3,133 419.8,133.3 420.2,133.3 420.7,133.4 421.1,132.5 421.6,132.9 422,134.2 422.5,134.2 422.9,133.2 423.4,133.7 423.8,133.1 424.3,132.8 424.7,132 425.2,131.3 425.6,131.1 426.1,130.2 426.5,129.9 427,129.6 427.4,129.3 427.9,128.4 428.3,128.2 428.8,127.8 429.2,127 429.7,126.6 430.1,125.7 430.6,126 431.1,125.6 431.5,125.3 432,125.6 432.4,125.9 432.9,126 433.3,126.8 433.8,127.1 434.2,128 434.7,128.9 435.1,129.6 435.6,129.4 436,130 436.5,130 436.9,130.3 437.4,129.3 437.8,130.1 438.3,130.4 438.7,130.1 439.2,130.5 439.6,129.9 440.1,130.4 440.5,130.2 441,130.2 441.4,130.2 441.9,129.8 442.3,130.7 442.8,130 443.3,130.3 443.7,130.4 444.2,130.3 444.6,130.2 445.1,129.7 445.5,129.3 446,130.2 446.4,130.5 446.9,130 447.3,130.3 447.8,130.6 448.2,129.8 448.7,130 449.1,130.5 449.6,130.6 450,130.5 450.5,130.6 450.9,129.9 451.4,129.6 451.8,130.4 452.3,130.1 452.7,130.2 453.2,129.5 453.6,130.5 454.1,130.3 454.6,130.5 455,130 455.5,130.1 455.9,130.5 456.4,130.3 456.8,130.1 457.3,129.4 457.7,130.5 458.2,129.7 458.6,130.6 459.1,130 459.5,130.4 460,130.3 460.4,130.5 460.9,130 461.3,129.8 461.8,129.7 462.2,129.9 462.7,130.1 463.1,129.8 463.6,130.6 464,130.5 464.5,130.2 464.9,130.4 465.4,129.8 465.9,130.2 466.3,130.1 466.8,130.4 467.2,130.6 467.7,129.9 468.1,130.3 468.6,130.4 469,130.1 469.5,130.6 469.9,130.5 470.4,130.4 470.8,130.3 471.3,130.2 471.7,129.4 472.2,130.2 472.6,129.3 473.1,128.7 473.5,130 474,130.1 474.4,129.3 474.9,130 475.3,129.9 475.8,130 476.2,129.9 476.7,130.1 477.1,130.1 477.6,130.2 478.1,129.1 478.5,130.4 479,129.6 479.4,130 479.9,130 480.3,130.5 480.8,130 481.2,130.3 481.7,129.2 482.1,130.5 482.6,130.2 483,130 483.5,130.5 483.9,130.5 484.4,130.3 484.8,130.1 485.3,130.4 485.7,130.4 486.2,129.8 486.6,130.6 487.1,130.1 487.5,130.3 488,130.2 488.4,130.3 488.9,130.3 489.4,129.6 489.8,129.8 490.3,130 490.7,130.3 491.2,130.5 491.6,130.4 492.1,130.3 492.5,130.1 493,129.7 493.4,130.2 493.9,130.3 494.3,130.2 494.8,130 495.2,130.5 495.7,130 496.1,130.5 496.6,130.3 497,129.5 497.5,130.1 497.9,130.1 498.4,130.5 498.8,130.1 499.3,130.4 499.7,130.1 500.2,130.3 500.7,130.2 501.1,130.4 501.6,130.5 502,130.6 502.5,130 502.9,129.7 503.4,130.4 503.8,130.1 504.3,129.9 504.7,129.5 505.2,130 505.6,129.8 506.1,130.4 506.5,129.9 507,129.8 507.4,130.5 507.9,129.7 508.3,130.2 508.8,129.6 509.2,130.5 509.7,130.4 510.1,130.6 510.6,130.4 511,130.5 511.5,129.9 512,129.9 512.4,129.3 512.9,130.1 513.3,129.9 513.8,130.1 514.2,129.8 514.7,130.2 515.1,130.5 515.6,129.3 516,130 516.5,130.5 516.9,130.1 517.4,130.1 517.8,130.4 518.3,130 518.7,130.4 519.2,129.6 519.6,129.5 520.1,129.8 520.5,130 521,130.3 521.4,130 521.9,130.1 522.3,130.3 522.8,130.5 523.2,129.1 523.7,129.9 524.2,129.9 524.6,130.6 525.1,130.5 525.5,130.5 526,130.1 526.4,129.8 526.9,130.4 527.3,130.2 527.8,130.3 528.2,129.9 528.7,129.8 529.1,130.3 529.6,129.4 530,130.3 530.5,130.6 530.9,130.4 531.4,130.6 531.8,130.4 532.3,130.5 532.7,129.4 533.2,130.4 533.6,130.2 534.1,129.4 534.5,130.4 535,130.2 535,134.5 534.5,134.3 534.1,135.4 533.6,135.1 533.2,134.3 532.7,134.7 532.3,134.3 531.8,135.2 531.4,135.9 530.9,135.3 530.5,134.3 530,134.3 529.6,134.6 529.1,134.7 528.7,134.9 528.2,134.8 527.8,135.7 527.3,134.4 526.9,134.5 526.4,134.7 526,134.4 525.5,135.3 525.1,134.7 524.6,134.3 524.2,134.3 523.7,134.9 523.2,134.9 522.8,134.2 522.3,134.9 521.9,134.7 521.4,134.3 521,134.4 520.5,134.3 520.1,134.6 519.6,135 519.2,134.4 518.7,134.3 518.3,134.2 517.8,135.1 517.4,134.4 516.9,135.2 516.5,134.9 516,135.2 515.6,135.1 515.1,134.4 514.7,134.4 514.2,134.4 513.8,135 513.3,134.4 512.9,135 512.4,134.2 512,134.2 511.5,134.6 511,134.5 510.6,134.6 510.1,135.3 509.7,134.6 509.2,134.3 508.8,134.2 508.3,134.6 507.9,134.9 507.4,135 507,134.8 506.5,135.7 506.1,134.8 505.6,134.7 505.2,135.1 504.7,135.2 504.3,134.8 503.8,135 503.4,135.1 502.9,134.8 502.5,135.3 502,135 501.6,135.7 501.1,134.4 500.7,134.3 500.2,134.6 499.7,134.4 499.3,135 498.8,134.2 498.4,135.5 497.9,135.3 497.5,134.9 497,134.5 496.6,134.8 496.1,135 495.7,134.2 495.2,134.8 494.8,134.5 494.3,134.7 493.9,134.6 493.4,134.6 493,135.3 492.5,135.4 492.1,134.5 491.6,135.2 491.2,135.8 490.7,135.4 490.3,135.1 489.8,134.8 489.4,134.3 488.9,134.4 488.4,135 488,135.7 487.5,134.8 487.1,134.9 486.6,135.8 486.2,134.5 485.7,134.7 485.3,134.3 484.8,134.2 484.4,134.2 483.9,134.9 483.5,134.3 483,134.6 482.6,134.6 482.1,135.2 481.7,134.7 481.2,134.4 480.8,134.2 480.3,134.2 479.9,134.7 479.4,134.2 479,135 478.5,135.4 478.1,134.8 477.6,134.2 477.1,134.4 476.7,135 476.2,135.7 475.8,134.7 475.3,134.7 474.9,134.9 474.4,134.3 474,134.4 473.5,134.7 473.1,134.2 472.6,134.2 472.2,135.1 471.7,134.5 471.3,135 470.8,135 470.4,134.3 469.9,134.4 469.5,135.5 469,134.3 468.6,134.6 468.1,135.1 467.7,134.9 467.2,134.5 466.8,134.4 466.3,134.7 465.9,135.2 465.4,134.4 464.9,134.7 464.5,134.6 464,134.6 463.6,134.4 463.1,134.8 462.7,134.3 462.2,135.4 461.8,135.1 461.3,134.5 460.9,134.5 460.4,134.3 460,135.3 459.5,134.4 459.1,134.4 458.6,134.7 458.2,134.8 457.7,134.5 457.3,134.4 456.8,134.7 456.4,134.6 455.9,134.7 455.5,134.4 455,134.4 454.6,134.9 454.1,134.8 453.6,135.4 453.2,134.9 452.7,134.6 452.3,134.6 451.8,134.8 451.4,134.4 450.9,134.5 450.5,135.1 450,134.5 449.6,134.5 449.1,134.5 448.7,134.9 448.2,134.8 447.8,134.8 447.3,134.7 446.9,134.6 446.4,134.3 446,134.9 445.5,135 445.1,134.7 444.6,134.9 444.2,134.8 443.7,134.5 443.3,134.3 442.8,134.7 442.3,135 441.9,134.9 441.4,134.8 441,135 440.5,134.7 440.1,135.7 439.6,134.7 439.2,134.8 438.7,134.7 438.3,134.4 437.8,134.4 437.4,134.4 436.9,134.6 436.5,134 436,134.2 435.6,133.6 435.1,133 434.7,132.5 434.2,132 433.8,131.2 433.3,130.9 432.9,129.7 432.4,129.6 432,129.4 431.5,129.6 431.1,130.4 430.6,130 430.1,130.5 429.7,130.7 429.2,131.7 428.8,132.2 428.3,132 427.9,132.4 427.4,133.1 427,133.3 426.5,134 426.1,134.5 425.6,134.8 425.2,136 424.7,136.4 424.3,136.5 423.8,136.9 423.4,137.6 422.9,137.7 422.5,138.4 422,139 421.6,138.2 421.1,138 420.7,137.7 420.2,137.3 419.8,137.1 419.3,137.2 418.8,136.5 418.4,136.3 417.9,135.5 417.5,135.4 417,135.2 416.6,134.7 416.1,133.9 415.7,133.8 415.2,133.5 414.8,133.1 414.3,132.3 413.9,131.9 413.4,131.6 413,130.7 412.5,130.7 412.1,130.1 411.6,130.4 411.2,129.4 410.7,129.1 410.3,128.8 409.8,129.3 409.4,128.9 408.9,130.5 408.5,131.2 408,130.2 407.5,130.5 407.1,131.2 406.6,133.1 406.2,132.2 405.7,132.5 405.3,133.3 404.8,133.9 404.4,134.2 403.9,134.4 403.5,135.5 403,135.6 402.6,136.2 402.1,137.1 401.7,137.3 401.2,138.7 400.8,138 400.3,138.3 399.9,138.7 399.4,139.7 399,138.9 398.5,139.9 398.1,138.5 397.6,139.3 397.2,137.8 396.7,137.7 396.3,137.3 395.8,136.5 395.3,136.2 394.9,136.1 394.4,134.7 394,134.3 393.5,134.5 393.1,133.6 392.6,134.1 392.2,132.2 391.7,131.9 391.3,131.7 390.8,131 390.4,131.5 389.9,129.8 389.5,129.5 389,129.1 388.6,129 388.1,129.5 387.7,128.7 387.2,128.6 386.8,129.6 386.3,129.3 385.9,129.5 385.4,129.9 385,130.5 384.5,130.3 384,131.3 383.6,131.6 383.1,132.5 382.7,131.9 382.2,133.3 381.8,133 381.3,133.1 380.9,133.4 380.4,134.1 380,134.2 379.5,134.4 379.1,135.4 378.6,135.4 378.2,135.9 377.7,136.2 377.3,136.6 376.8,138 376.4,137.2 375.9,138 375.5,139 375,138.4 374.6,138.6 374.1,138.6 373.7,138.9 373.2,138.9 372.7,139.4 372.3,138.8 371.8,139.2 371.4,138.4 370.9,137.8 370.5,137.2 370,137.2 369.6,136.5 369.1,135.6 368.7,136 368.2,135.7 367.8,134.7 367.3,133.6 366.9,133 366.4,132.4 366,132.2 365.5,132.2 365.1,131.4 364.6,130 364.2,130.1 363.7,130 363.3,129.3 362.8,128.9 362.4,128.4 361.9,128.3 361.4,128.5 361,129 360.5,128.9 360.1,129.1 359.6,129.8 359.2,130.4 358.7,130.5 358.3,131 357.8,130.7 357.4,131.6 356.9,131.7 356.5,132.5 356,132.4 355.6,132.8 355.1,133.6 354.7,133.5 354.2,134.1 353.8,134.4 353.3,135.2 352.9,135.2 352.4,136.5 352,136.2 351.5,136.9 351.1,138 350.6,137.8 350.2,137.8 349.7,138.7 349.2,138.6 348.8,139.6 348.3,139.2 347.9,139 347.4,138.7 347,138.6 346.5,139.2 346.1,138.8 345.6,138.8 345.2,138.3 344.7,137.2 344.3,136.7 343.8,136.3 343.4,135.9 342.9,135.3 342.5,135 342,134.3 341.6,134.3 341.1,133.4 340.7,132.7 340.2,132.4 339.8,131.9 339.3,130.3 338.9,129.2 338.4,128.9" fill="#12aef0"/>
<polyline points="338.4,126.7 338.5,127.4 338.6,125.6 338.7,124.3 338.8,125 338.9,126.7 338.9,128.8 339,127.9 339.1,130.7 339.2,128.3 339.3,128.6 339.4,128.8 339.5,125.7 339.6,129.8 339.7,127.1 339.8,128.5 339.8,133.3 339.9,127.3 340,129.8 340.1,130.3 340.2,130.1 340.3,130.1 340.4,129.3 340.5,133.8 340.6,127.1 340.7,128.9 340.7,133.3 340.8,131.9 340.9,129.8 341,129.7 341.1,130.9 341.2,136 341.3,132.5 341.4,130 341.5,132.3 341.6,130.9 341.6,134.6 341.7,132.7 341.8,134.4 341.9,132.7 342,136 342.1,133.3 342.2,133.2 342.3,131.1 342.4,132.2 342.5,133.6 342.5,132.2 342.6,137.4 342.7,133.3 342.8,132.1 342.9,135.2 343,132.7 343.1,134.4 343.2,133.6 343.3,132.6 343.4,136.3 343.4,134.2 343.5,136 343.6,133.7 343.7,131.9 343.8,132.3 343.9,133.6 344,134.3 344.1,134.8 344.2,135.7 344.3,132.8 344.3,135.3 344.4,133 344.5,134 344.6,139.6 344.7,137.5 344.8,134.8 344.9,138.5 345,137.9 345.1,137.1 345.2,138.2 345.2,135.3 345.3,135.6 345.4,134.4 345.5,137 345.6,133.9 345.7,135.2 345.8,136.9 345.9,135.4 346,136.9 346.1,139.4 346.1,134.7 346.2,138.8 346.3,135.3 346.4,135 346.5,137 346.6,138.4 346.7,135.5 346.8,135.5 346.9,136 347,135.6 347,137.2 347.1,135.6 347.2,136.5 347.3,137.5 347.4,136.2 347.5,138.9 347.6,135.8 347.7,135.7 347.8,140.5 347.9,139.6 347.9,137.1 348,138.4 348.1,137.6 348.2,136.1 348.3,138.1 348.4,137.5 348.5,139.1 348.6,133.8 348.7,138.3 348.8,137.2 348.8,135.7 348.9,136.1 349,136.1 349.1,134.5 349.2,135.7 349.3,138 349.4,134 349.5,135.9 349.6,132.5 349.7,135.5 349.7,137.1 349.8,136.2 349.9,136.3 350,134.3 350.1,137.1 350.2,134.5 350.3,137.5 350.4,136.3 350.5,135.2 350.6,138.3 350.6,135 350.7,137.4 350.8,135.7 350.9,135.5 351,137.1 351.1,136 351.2,135.2 351.3,134.9 351.4,135.4 351.5,135.1 351.5,134.3 351.6,133 351.7,130.3 351.8,134.4 351.9,134.1 352,136.5 352.1,135.1 352.2,136.2 352.3,137.1 352.4,133.8 352.4,132.5 352.5,135.2 352.6,132.7 352.7,133.2 352.8,136 352.9,134.4 353,135.2 353.1,131 353.2,133.2 353.3,135 353.3,130.8 353.4,133.2 353.5,133.5 353.6,128.8 353.7,135.4 353.8,131.3 353.9,132.2 354,135.2 354.1,129.3 354.2,133 354.3,131.4 354.3,132.1 354.4,130.6 354.5,134.2 354.6,129.9 354.7,132.4 354.8,132.6 354.9,131.4 355,131.1 355.1,131 355.2,133.1 355.2,132.1 355.3,131.1 355.4,129.3 355.5,131.4 355.6,131.9 355.7,130.9 355.8,133.3 355.9,127.5 356,135 356.1,130.3 356.1,128.6 356.2,127.5 356.3,131.9 356.4,131.3 356.5,129.9 356.6,130.1 356.7,130.3 356.8,129.2 356.9,131.8 357,130.9 357,129.5 357.1,126.8 357.2,131.9 357.3,128.6 357.4,127.6 357.5,131.5 357.6,130 357.7,125.7 357.8,126.2 357.9,128.3 357.9,126.7 358,128.5 358.1,133.1 358.2,133.7 358.3,128.5 358.4,129.8 358.5,129.9 358.6,128.1 358.7,125.7 358.8,130 358.8,127.8 358.9,128.8 359,129.1 359.1,126.5 359.2,130.6 359.3,127.8 359.4,128 359.5,126.8 359.6,128.7 359.7,129.2 359.7,126.4 359.8,128.3 359.9,126.5 360,125.1 360.1,126.6 360.2,128.1 360.3,128 360.4,128.8 360.5,125.8 360.6,126.4 360.6,127 360.7,127.9 360.8,126.6 360.9,125.1 361,124.1 361.1,128.7 361.2,128.5 361.3,125.5 361.4,129.1 361.5,126.5 361.5,127.3 361.6,128.7 361.7,125.7 361.8,125.2 361.9,123.6 362,127 362.1,127.3 362.2,128 362.3,127.6 362.4,126.7 362.4,128.5 362.5,124.9 362.6,127.3 362.7,127.6 362.8,126.5 362.9,129.7 363,127.6 363.1,129.2 363.2,128.5 363.3,126.7 363.3,130.4 363.4,129 363.5,127.3 363.6,127.1 363.7,125.6 363.8,127.2 363.9,127.1 364,128 364.1,127 364.2,128.8 364.2,127.8 364.3,125.3 364.4,127.3 364.5,126.7 364.6,126.2 364.7,128 364.8,130.1 364.9,126.8 365,125.4 365.1,128.6 365.1,134.1 365.2,128.1 365.3,129.7 365.4,128.7 365.5,130.9 365.6,132.1 365.7,129.4 365.8,131.9 365.9,128.1 366,130.4 366,128 366.1,130.6 366.2,129.4 366.3,131 366.4,128.8 366.5,131.2 366.6,131.1 366.7,130.1 366.8,129.8 366.9,129.2 366.9,130.7 367,132.2 367.1,131.4 367.2,132 367.3,134 367.4,131.4 367.5,132.5 367.6,133.5 367.7,133.1 367.8,133 367.8,132.5 367.9,135.8 368,132.4 368.1,132 368.2,133.8 368.3,135.6 368.4,135.3 368.5,133.1 368.6,134.5 368.7,134.1 368.8,133.5 368.8,134.5 368.9,134.6 369,133.9 369.1,136.7 369.2,133.2 369.3,136.3 369.4,137.7 369.5,137.8 369.6,134.8 369.7,134.1 369.7,131.8 369.8,134.5 369.9,138.9 370,132.1 370.1,132.3 370.2,136.5 370.3,136.2 370.4,132.1 370.5,135.2 370.6,136 370.6,133 370.7,137.3 370.8,133.5 370.9,137.8 371,136.3 371.1,134.8 371.2,133.3 371.3,135.6 371.4,136.1 371.5,136.1 371.5,135.4 371.6,136.1 371.7,138 371.8,135.1 371.9,136.3 372,137.5 372.1,136.7 372.2,138.3 372.3,139.5 372.4,136.3 372.4,137.3 372.5,132 372.6,136.4 372.7,138.2 372.8,135.1 372.9,139.3 373,133.8 373.1,139.3 373.2,136.2 373.3,135.3 373.3,136.2 373.4,136.5 373.5,135.3 373.6,134.6 373.7,136.1 373.8,138.5 373.9,137.6 374,139.2 374.1,135.8 374.2,136.2 374.2,136.2 374.3,137 374.4,137.5 374.5,139.7 374.6,137.8 374.7,136.9 374.8,138.9 374.9,135.2 375,134.2 375.1,137.5 375.1,136.6 375.2,136.5 375.3,137.8 375.4,135.6 375.5,135.9 375.6,136.7 375.7,137.1 375.8,137.6 375.9,136.1 376,136.2 376,131.6 376.1,137.7 376.2,132.9 376.3,135.4 376.4,139.8 376.5,134.8 376.6,132.6 376.7,138 376.8,134.2 376.9,134.8 376.9,134.7 377,136.2 377.1,136.2 377.2,134.6 377.3,136.6 377.4,133.1 377.5,135.7 377.6,133.4 377.7,135.5 377.8,133.1 377.8,133.4 377.9,136.6 378,132.1 378.1,131.9 378.2,134.8 378.3,133.3 378.4,133 378.5,133.4 378.6,137.1 378.7,131.7 378.7,132.9 378.8,133.6 378.9,131.6 379,133.1 379.1,133.9 379.2,131.4 379.3,134.8 379.4,130.9 379.5,132.5 379.6,133.2 379.6,138 379.7,129.5 379.8,132.9 379.9,136.6 380,131.2 380.1,134 380.2,132.5 380.3,129.6 380.4,132.6 380.5,130.4 380.5,132 380.6,129.2 380.7,132.9 380.8,127.5 380.9,131.3 381,133.7 381.1,132.3 381.2,130.8 381.3,130.9 381.4,130.5 381.4,135.8 381.5,131 381.6,131 381.7,129.7 381.8,130.1 381.9,131.9 382,129.7 382.1,129.3 382.2,129.7 382.3,129.9 382.3,130.7 382.4,129.5 382.5,130 382.6,128.9 382.7,132.2 382.8,130.2 382.9,129.4 383,130.4 383.1,129.7 383.2,127.1 383.2,129.3 383.3,132.4 383.4,130.3 383.5,131.4 383.6,128.2 383.7,126.7 383.8,128 383.9,131.4 384,127.3 384.1,127.6 384.2,130.7 384.2,128.4 384.3,128.4 384.4,129.3 384.5,128.7 384.6,128 384.7,128.8 384.8,127.1 384.9,128.2 385,129.3 385.1,126.3 385.1,127.7 385.2,126 385.3,129.2 385.4,128.9 385.5,129.4 385.6,129.5 385.7,129.4 385.8,128.8 385.9,126.2 386,129.1 386,125.9 386.1,131.3 386.2,127.8 386.3,128.3 386.4,125.1 386.5,129 386.6,129.1 386.7,124.4 386.8,126.1 386.9,126.2 386.9,125.9 387,129.3 387.1,130.6 387.2,125.1 387.3,128.7 387.4,126.4 387.5,129.2 387.6,122.7 387.7,126.1 387.8,128.9 387.8,125.5 387.9,128.8 388,125.9 388.1,128.7 388.2,127.8 388.3,126.1 388.4,125.5 388.5,126.6 388.6,128.9 388.7,126.9 388.7,125.8 388.8,132.7 388.9,124.4 389,126.7 389.1,128.1 389.2,125.4 389.3,127.2 389.4,126.6 389.5,124.9 389.6,128.2 389.6,125.6 389.7,126.3 389.8,129.8 389.9,125.9 390,128.9 390.1,130 390.2,129.7 390.3,128.9 390.4,127.8 390.5,125.9 390.5,128.7 390.6,129.3 390.7,127.8 390.8,127 390.9,130.3 391,127.1 391.1,129.8 391.2,128.3 391.3,126.4 391.4,132.1 391.4,130.5 391.5,130.5 391.6,127.3 391.7,129.6 391.8,130.4 391.9,128.8 392,133 392.1,126.8 392.2,131.6 392.3,127.3 392.3,127.9 392.4,128.5 392.5,131.8 392.6,129.7 392.7,129.9 392.8,129.6 392.9,128.7 393,129.8 393.1,129.8 393.2,131 393.2,131 393.3,127.7 393.4,130.7 393.5,134 393.6,131.2 393.7,132 393.8,131 393.9,131.1 394,132.2 394.1,130.1 394.1,132.2 394.2,129.8 394.3,133.3 394.4,130.1 394.5,134 394.6,134.7 394.7,130.3 394.8,134.3 394.9,132.6 395,135.3 395,132.6 395.1,133.1 395.2,133.2 395.3,135.9 395.4,130.6 395.5,135.3 395.6,134.3 395.7,133.4 395.8,133.9 395.9,136 395.9,135.9 396,137.5 396.1,133.6 396.2,131.6 396.3,134 396.4,134.7 396.5,134.4 396.6,137.3 396.7,139.2 396.8,136.1 396.8,132.5 396.9,137.4 397,134.6 397.1,135.9 397.2,137.3 397.3,136.6 397.4,135.9 397.5,136.6 397.6,137.5 397.7,137.3 397.7,139.9 397.8,131.3 397.9,135.1 398,135.5 398.1,138 398.2,137 398.3,138.1 398.4,134.3 398.5,136.4 398.6,137.8 398.6,136.7 398.7,136.1 398.8,137.3 398.9,139.6 399,133.2 399.1,139.5 399.2,137.3 399.3,135.3 399.4,137.9 399.5,136.8 399.6,138.8 399.6,135.3 399.7,138.3 399.8,135.1 399.9,137.1 400,137.7 400.1,136.3 400.2,137.5 400.3,135.4 400.4,138.1 400.5,135.4 400.5,135 400.6,135.9 400.7,136 400.8,134.5 400.9,137.2 401,135.6 401.1,136.7 401.2,133.1 401.3,133.3 401.4,135 401.4,133.7 401.5,135 401.6,136.1 401.7,137 401.8,137.5 401.9,136.2 402,133.6 402.1,135.6 402.2,133.7 402.3,135.4 402.3,132.6 402.4,136.5 402.5,134.8 402.6,133.5 402.7,131.6 402.8,134.3 402.9,132.8 403,134 403.1,132.3 403.2,132.4 403.2,134.3 403.3,135.7 403.4,130.9 403.5,132.6 403.6,133.5 403.7,132.5 403.8,131.9 403.9,136.2 404,131 404.1,132.9 404.1,131.4 404.2,131.9 404.3,128.1 404.4,133.4 404.5,131.5 404.6,130.1 404.7,134.5 404.8,131.1 404.9,130.4 405,129.9 405,133.1 405.1,131.3 405.2,130.6 405.3,128.8 405.4,129.4 405.5,131.4 405.6,130.7 405.7,127.2 405.8,129.1 405.9,130.8 405.9,134.9 406,129 406.1,126.4 406.2,131.3 406.3,129.1 406.4,127.6 406.5,130.7 406.6,129.2 406.7,127.9 406.8,127.2 406.8,129.1 406.9,129.3 407,126 407.1,130.6 407.2,126.7 407.3,131.1 407.4,129.2 407.5,128.2 407.6,129 407.7,127.3 407.7,128.1 407.8,130.9 407.9,127.1 408,129.3 408.1,126.3 408.2,127.8 408.3,129.3 408.4,125.6 408.5,128.1 408.6,123.8 408.6,125.4 408.7,126.6 408.8,128.8 408.9,128.4 409,125.6 409.1,126.9 409.2,127.4 409.3,124.3 409.4,127.7 409.5,129.2 409.5,129 409.6,125.9 409.7,126.2 409.8,125.2 409.9,126 410,126.4 410.1,128 410.2,127 410.3,125.3 410.4,128.3 410.4,128.4 410.5,125.9 410.6,126.5 410.7,126.8 410.8,124.2 410.9,127.3 411,128.2 411.1,130.4 411.2,127.5 411.3,126.8 411.3,127 411.4,128.4 411.5,128.8 411.6,126 411.7,127.9 411.8,128.7 411.9,124.3 412,130.1 412.1,127.5 412.2,129.4 412.2,127.9 412.3,127.7 412.4,128.1 412.5,128.8 412.6,129.9 412.7,128 412.8,126.7 412.9,127.5 413,127.1 413.1,130.1 413.1,127.3 413.2,131.6 413.3,129.4 413.4,129.1 413.5,131.6 413.6,128.8 413.7,129 413.8,131 413.9,131 414,128.2 414.1,134.1 414.1,131 414.2,128 414.3,130 414.4,131.9 414.5,130.8 414.6,132 414.7,134.7 414.8,132.3 414.9,134.2 415,132.1 415,129.9 415.1,133.7 415.2,130 415.3,132.9 415.4,132.5 415.5,130 415.6,130.3 415.7,131.3 415.8,132.4 415.9,134 415.9,132 416,135.1 416.1,133.5 416.2,131 416.3,131.1 416.4,132.3 416.5,131.4 416.6,132.2 416.7,133.8 416.8,133 416.8,134.2 416.9,131.5 417,131.3 417.1,130.5 417.2,129.9 417.3,132.2 417.4,133.2 417.5,132.8 417.6,133.2 417.7,136.8 417.7,131.5 417.8,133 417.9,132.7 418,132.1 418.1,136 418.2,133.8 418.3,136 418.4,132.1 418.5,137.2 418.6,138 418.6,132.7 418.7,134.3 418.8,134.1 418.9,135.4 419,132.3 419.1,135.4 419.2,135.9 419.3,133.7 419.4,130.9 419.5,133.7 419.5,134.3 419.6,136.3 419.7,134 419.8,133.2 419.9,136.2 420,135.9 420.1,136.6 420.2,135.4 420.3,137.2 420.4,136.3 420.4,132.5 420.5,135.9 420.6,136.9 420.7,135.7 420.8,138.2 420.9,135 421,137 421.1,133.7 421.2,135.8 421.3,134.9 421.3,134.2 421.4,133.7 421.5,136.3 421.6,136.7 421.7,134.9 421.8,133.9 421.9,134.5 422,137.3 422.1,133.9 422.2,137.9 422.2,133.1 422.3,136.4 422.4,137 422.5,138 422.6,135.1 422.7,134.5 422.8,133.3 422.9,137.3 423,135.4 423.1,134.8 423.1,134.8 423.2,135.9 423.3,135.5 423.4,137.3 423.5,131.6 423.6,136.6 423.7,134.2 423.8,134.9 423.9,134.4 424,134.7 424,136 424.1,135 424.2,132.1 424.3,134.4 424.4,134.2 424.5,134.9 424.6,134.2 424.7,133.9 424.8,135.7 424.9,132 424.9,137.4 425,132.7 425.1,131.8 425.2,134.8 425.3,135.1 425.4,135.3 425.5,135.6 425.6,133.8 425.7,133 425.8,133.4 425.8,132.7 425.9,131.7 426,135.2 426.1,135.5 426.2,132.3 426.3,131.8 426.4,131.2 426.5,129.1 426.6,130.7 426.7,130.9 426.7,131.7 426.8,129.9 426.9,128.3 427,132.6 427.1,134.3 427.2,127.7 427.3,131 427.4,132.6 427.5,129.1 427.6,128.5 427.6,131 427.7,130.4 427.8,129.6 427.9,133.4 428,133.1 428.1,131.6 428.2,130.2 428.3,129.7 428.4,131.7 428.5,129.7 428.5,132.5 428.6,132 428.7,128.8 428.8,131 428.9,132.3 429,130.6 429.1,127.8 429.2,128.9 429.3,128.7 429.4,129.4 429.5,129.1 429.5,128.4 429.6,130.4 429.7,131.1 429.8,127.8 429.9,126.1 430,129.2 430.1,128.5 430.2,129.1 430.3,127.2 430.4,128.8 430.4,126.7 430.5,130 430.6,131 430.7,126.5 430.8,123.6 430.9,127.1 431,127 431.1,128.2 431.2,127.8 431.3,128.6 431.3,132.3 431.4,126.8 431.5,127 431.6,128.4 431.7,124.5 431.8,129 431.9,126.6 432,125.2 432.1,126.2 432.2,128.5 432.2,129.1 432.3,129.8 432.4,128.5 432.5,126.6 432.6,128.8 432.7,127.8 432.8,132 432.9,124.6 433,131 433.1,129.7 433.1,129.2 433.2,128.4 433.3,127.8 433.4,127.2 433.5,126.3 433.6,132.6 433.7,130.9 433.8,130.6 433.9,130.2 434,126.5 434,129.4 434.1,130.2 434.2,132.1 434.3,128.6 434.4,130.9 434.5,130.2 434.6,130.8 434.7,129.6 434.8,131.6 434.9,131.3 434.9,128.1 435,133.5 435.1,135.2 435.2,130.1 435.3,133.7 435.4,130.1 435.5,131 435.6,135 435.7,132.4 435.8,134.7 435.8,132.6 435.9,133.9 436,131.9 436.1,134.8 436.2,135.5 436.3,133.5 436.4,131.3 436.5,131.7 436.6,130.6 436.7,133.4 436.7,133.3 436.8,131.1 436.9,134.1 437,131.4 437.1,135.7 437.2,134 437.3,135.3 437.4,131.2 437.5,130.7 437.6,129.2 437.6,133.7 437.7,130.5 437.8,135 437.9,132.9 438,134 438.1,130.3 438.2,131.6 438.3,133 438.4,134 438.5,130.3 438.5,133.3 438.6,131.2 438.7,134.2 438.8,132.3 438.9,132.2 439,133.5 439.1,134.8 439.2,132.3 439.3,134.9 439.4,130.9 439.4,133.2 439.5,130.7 439.6,133.1 439.7,131.1 439.8,132.8 439.9,133.9 440,131 440.1,129.6 440.2,132.4 440.3,133.7 440.3,133.2 440.4,131.1 440.5,134.2 440.6,132.2 440.7,134.1 440.8,131.2 440.9,133.5 441,134.9 441.1,131.6 441.2,132.2 441.2,133.9 441.3,133.7 441.4,133.4 441.5,132.5 441.6,129.9 441.7,132.7 441.8,130.4 441.9,132.9 442,128.5 442.1,135.3 442.1,136.1 442.2,133.5 442.3,131.2 442.4,132.2 442.5,134.3 442.6,133.9 442.7,131.5 442.8,134.9 442.9,134 443,133.7 443,132.1 443.1,132.7 443.2,131.4 443.3,133.1 443.4,131.5 443.5,134.8 443.6,132.8 443.7,133.1 443.8,133.3 443.9,133.3 443.9,130.2 444,135 444.1,132.9 444.2,131.7 444.3,131 444.4,131.5 444.5,131.6 444.6,132.7 444.7,131.2 444.8,132.9 444.9,133 444.9,131.5 445,136.6 445.1,132.5 445.2,133.3 445.3,132.9 445.4,132.4 445.5,133.9 445.6,135.2 445.7,132.6 445.8,131.2 445.8,133.7 445.9,128.8 446,133 446.1,132.3 446.2,133.3 446.3,130 446.4,131.9 446.5,130.8 446.6,131.7 446.7,133.7 446.7,132.3 446.8,131.6 446.9,134.8 447,132.7 447.1,129 447.2,130.8 447.3,133.4 447.4,133.4 447.5,133 447.6,133.1 447.6,131 447.7,132.5 447.8,130.5 447.9,131.1 448,131 448.1,131.1 448.2,132 448.3,132.2 448.4,131.2 448.5,134.5 448.5,131.8 448.6,135.3 448.7,134.4 448.8,130.4 448.9,134.1 449,130.1 449.1,135.1 449.2,133.1 449.3,130.8 449.4,128.7 449.4,131.8 449.5,130.1 449.6,134.5 449.7,130.3 449.8,132.1 449.9,133.4 450,132.5 450.1,133 450.2,132.1 450.3,133.8 450.3,130.8 450.4,133.5 450.5,130.4 450.6,132.8 450.7,130.5 450.8,132.1 450.9,133.5 451,134.7 451.1,129.3 451.2,131.1 451.2,130.7 451.3,134.6 451.4,130.9 451.5,133.7 451.6,131.6 451.7,129.9 451.8,132.7 451.9,130.4 452,133.8 452.1,133.9 452.1,134.8 452.2,130.7 452.3,135.3 452.4,134.2 452.5,129.3 452.6,136.4 452.7,135.4 452.8,130.6 452.9,133 453,130.1 453,132.2 453.1,132.8 453.2,133.6 453.3,131 453.4,132.4 453.5,130.8 453.6,133.1 453.7,133.6 453.8,132.6 453.9,134.5 453.9,133.8 454,133.1 454.1,134.5 454.2,130.2 454.3,132.4 454.4,129.3 454.5,132.4 454.6,131.6 454.7,133.9 454.8,131.7 454.8,131.3 454.9,132.3 455,132.2 455.1,133.4 455.2,130.9 455.3,129.8 455.4,129.6 455.5,134.5 455.6,130.2 455.7,131.6 455.7,130.5 455.8,134 455.9,131.4 456,134.6 456.1,131.2 456.2,133 456.3,133.8 456.4,134.2 456.5,130.3 456.6,131.8 456.6,132.3 456.7,129.2 456.8,133.7 456.9,133.1 457,133.4 457.1,130 457.2,132.8 457.3,133.2 457.4,134.3 457.5,131.5 457.5,133.7 457.6,135.9 457.7,131.7 457.8,131.7 457.9,131.9 458,129.8 458.1,131.8 458.2,135.3 458.3,130.8 458.4,132.1 458.4,134.6 458.5,133.5 458.6,132.9 458.7,131.9 458.8,132.2 458.9,132.5 459,133.7 459.1,132.6 459.2,134.1 459.3,129.1 459.3,133.9 459.4,131.5 459.5,132.5 459.6,131.7 459.7,133.6 459.8,132.2 459.9,133.6 460,131 460.1,132.8 460.2,134.6 460.3,134.4 460.3,131.8 460.4,132.7 460.5,131.8 460.6,132.2 460.7,132.5 460.8,134.6 460.9,133.5 461,135 461.1,135.2 461.2,130.2 461.2,133 461.3,131.7 461.4,129.6 461.5,130.5 461.6,131.6 461.7,135.4 461.8,132.6 461.9,132.1 462,132.4 462.1,131.1 462.1,132.8 462.2,132.3 462.3,129.6 462.4,131.5 462.5,138.4 462.6,133.6 462.7,132.3 462.8,133.6 462.9,130.7 463,132.6 463,134 463.1,129.6 463.2,131.1 463.3,131.7 463.4,131.9 463.5,131.5 463.6,132.9 463.7,134.2 463.8,133.1 463.9,134.3 463.9,134.3 464,131.4 464.1,132.9 464.2,131.8 464.3,133.6 464.4,131.8 464.5,132.1 464.6,135.4 464.7,132.1 464.8,129.7 464.8,132.7 464.9,133 465,131.6 465.1,132.6 465.2,134.2 465.3,131.5 465.4,132.1 465.5,131.2 465.6,133 465.7,132.2 465.7,130.8 465.8,132.2 465.9,135.7 466,129.4 466.1,130 466.2,133 466.3,130 466.4,135.9 466.5,129.8 466.6,130.2 466.6,131.5 466.7,134.3 466.8,133.9 466.9,133.5 467,133 467.1,134.7 467.2,129.2 467.3,132.9 467.4,135 467.5,130.6 467.5,133 467.6,134.6 467.7,134.6 467.8,132.2 467.9,135.7 468,133.3 468.1,134.3 468.2,130.6 468.3,131.1 468.4,131.1 468.4,135.5 468.5,128.3 468.6,129.2 468.7,133.8 468.8,132.7 468.9,127.2 469,131.7 469.1,131.9 469.2,134.6 469.3,129.1 469.3,131.5 469.4,134.3 469.5,133.8 469.6,130.8 469.7,131.9 469.8,129.9 469.9,134.8 470,131.7 470.1,134.7 470.2,133.8 470.2,130.9 470.3,132.2 470.4,133.6 470.5,133.2 470.6,135.1 470.7,134.4 470.8,133 470.9,133.7 471,131.2 471.1,131.4 471.1,133.5 471.2,133 471.3,130.5 471.4,132.3 471.5,131.1 471.6,131.5 471.7,134.7 471.8,130.8 471.9,131.3 472,133.4 472,132.6 472.1,132.7 472.2,129.9 472.3,132.4 472.4,131.8 472.5,131 472.6,131.5 472.7,131.9 472.8,133.9 472.9,135.7 472.9,132.7 473,135 473.1,132.7 473.2,129.9 473.3,132.6 473.4,134.7 473.5,134.9 473.6,130.9 473.7,136.4 473.8,131.2 473.8,131.2 473.9,131.6 474,135 474.1,133.2 474.2,134.1 474.3,128.6 474.4,132.4 474.5,132.3 474.6,133.7 474.7,131.7 474.8,134.6 474.8,131.3 474.9,130 475,129.6 475.1,134.7 475.2,133.8 475.3,131.1 475.4,134.4 475.5,132.2 475.6,132.3 475.7,129.9 475.7,131.5 475.8,132.7 475.9,132.8 476,131.5 476.1,134.2 476.2,135 476.3,131.1 476.4,133.2 476.5,129.8 476.6,133.2 476.6,130.8 476.7,132.2 476.8,132.8 476.9,132.1 477,134.3 477.1,131.1 477.2,131.7 477.3,133.1 477.4,132.4 477.5,132.9 477.5,132.1 477.6,131.1 477.7,133.6 477.8,132.6 477.9,134.1 478,134.8 478.1,131.9 478.2,131.2 478.3,131.7 478.4,131.4 478.4,129 478.5,135.3 478.6,133.2 478.7,136.5 478.8,131.5 478.9,133.5 479,133 479.1,132.4 479.2,134.2 479.3,132.5 479.3,132.4 479.4,132.8 479.5,128.6 479.6,131.3 479.7,131.2 479.8,135.4 479.9,133.5 480,133.9 480.1,133.6 480.2,132.2 480.2,135.4 480.3,132.1 480.4,130.1 480.5,133.6 480.6,134.5 480.7,132.7 480.8,133.1 480.9,134.2 481,135.2 481.1,133.5 481.1,135.4 481.2,133 481.3,136.1 481.4,130.1 481.5,134.1 481.6,133 481.7,132.7 481.8,130.3 481.9,134.4 482,132.2 482,130.8 482.1,131.4 482.2,132.1 482.3,132.7 482.4,130.9 482.5,130.9 482.6,133.2 482.7,132.4 482.8,135.9 482.9,131.8 482.9,133.8 483,135.5 483.1,132.2 483.2,134.2 483.3,133 483.4,132.6 483.5,135.3 483.6,130.8 483.7,131.5 483.8,129.4 483.8,132.3 483.9,134.2 484,132.1 484.1,133.9 484.2,131.2 484.3,134.5 484.4,132.3 484.5,131.7 484.6,135.3 484.7,132.5 484.7,133.5 484.8,132.7 484.9,133.7 485,132.7 485.1,130.4 485.2,133 485.3,133.3 485.4,133.2 485.5,132.1 485.6,135.6 485.6,131.2 485.7,132.7 485.8,132.9 485.9,130.6 486,130.4 486.1,133.7 486.2,133.7 486.3,132.7 486.4,129.7 486.5,132 486.5,132.9 486.6,133.6 486.7,134.6 486.8,133.3 486.9,134.2 487,135.4 487.1,128.5 487.2,134.2 487.3,131.8 487.4,133.3 487.4,132.9 487.5,130.7 487.6,130.9 487.7,133.3 487.8,132.2 487.9,133.8 488,131.8 488.1,136.2 488.2,132.1 488.3,136.1 488.3,131.2 488.4,133.5 488.5,134.4 488.6,130.2 488.7,130.8 488.8,133.2 488.9,134.5 489,134.9 489.1,133.5 489.2,134.3 489.2,130.5 489.3,131.8 489.4,135 489.5,131.5 489.6,132.1 489.7,129.5 489.8,132.2 489.9,129.8 490,133.1 490.1,135 490.2,133 490.2,132.8 490.3,131.8 490.4,133.4 490.5,130.6 490.6,131.7 490.7,136.2 490.8,130.2 490.9,131.5 491,130.1 491.1,134.6 491.1,132.1 491.2,130.3 491.3,130.3 491.4,134.4 491.5,133.6 491.6,133.9 491.7,132.4 491.8,134 491.9,134.7 492,133.6 492,129.7 492.1,129.1 492.2,129.9 492.3,132.9 492.4,129.9 492.5,130.6 492.6,132.5 492.7,130.9 492.8,130.3 492.9,134.1 492.9,133.3 493,133.8 493.1,134 493.2,134.9 493.3,132.4 493.4,132.1 493.5,129.4 493.6,132 493.7,131.4 493.8,134.2 493.8,133.6 493.9,135 494,134.3 494.1,134.5 494.2,133.3 494.3,132.7 494.4,131.8 494.5,132.4 494.6,130.8 494.7,133.1 494.7,132.3 494.8,128.9 494.9,127.7 495,131.2 495.1,131.6 495.2,131.9 495.3,134.6 495.4,131.3 495.5,130.2 495.6,133.1 495.6,134.1 495.7,135.2 495.8,130.6 495.9,132 496,131.7 496.1,135 496.2,133.6 496.3,132.4 496.4,133.6 496.5,131.8 496.5,132 496.6,132.3 496.7,131.5 496.8,132 496.9,133 497,132.8 497.1,134.9 497.2,133.9 497.3,132.3 497.4,128.6 497.4,129.8 497.5,131.5 497.6,131.7 497.7,130.1 497.8,131.7 497.9,132.6 498,131.3 498.1,132.1 498.2,132.2 498.3,131.2 498.3,130.9 498.4,132.1 498.5,132.8 498.6,130.6 498.7,128.8 498.8,130.7 498.9,133.2 499,129.6 499.1,133.9 499.2,131.3 499.2,132.6 499.3,131 499.4,133.4 499.5,132.4 499.6,133 499.7,129 499.8,133.6 499.9,129.5 500,131.8 500.1,133.2 500.1,132 500.2,133.2 500.3,132.6 500.4,132.5 500.5,131 500.6,134.1 500.7,134.3 500.8,131.4 500.9,130.8 501,132.7 501,131 501.1,132.6 501.2,133.7 501.3,133.5 501.4,134.9 501.5,133.1 501.6,130.6 501.7,130.9 501.8,133.3 501.9,135.6 501.9,131.7 502,130.8 502.1,134.7 502.2,132.1 502.3,133.5 502.4,134.2 502.5,130.7 502.6,131.7 502.7,131.4 502.8,133.2 502.8,133.4 502.9,131.5 503,133.3 503.1,129.3 503.2,132.9 503.3,132.9 503.4,132.3 503.5,129.9 503.6,132.2 503.7,130.5 503.7,134.8 503.8,131.8 503.9,132 504,132.1 504.1,133.2 504.2,132.5 504.3,133.2 504.4,130.8 504.5,134.2 504.6,131.5 504.6,133.6 504.7,132.7 504.8,134.1 504.9,132.2 505,129.8 505.1,130.4 505.2,131.9 505.3,134.7 505.4,131.6 505.5,132.4 505.6,134.5 505.6,131.4 505.7,132.9 505.8,132.8 505.9,131.3 506,132.7 506.1,134.1 506.2,134.1 506.3,131.8 506.4,137.3 506.5,132.9 506.5,131.9 506.6,131.1 506.7,130.7 506.8,133.7 506.9,127.5 507,132.1 507.1,130 507.2,132 507.3,132.3 507.4,130.1 507.4,130.7 507.5,134.5 507.6,131.4 507.7,132.3 507.8,131.8 507.9,133.7 508,134.4 508.1,133.9 508.2,133.3 508.3,133.3 508.3,130.3 508.4,134.5 508.5,131.4 508.6,130.8 508.7,131.7 508.8,131 508.9,133 509,133.6 509.1,134.5 509.2,132.2 509.2,131.3 509.3,131.9 509.4,130.4 509.5,131.1 509.6,135.7 509.7,131 509.8,131.6 509.9,133.4 510,132.8 510.1,133.6 510.1,130.9 510.2,130.5 510.3,134.6 510.4,131.2 510.5,132.2 510.6,132.7 510.7,129.2 510.8,132 510.9,131.2 511,133.2 511,131.8 511.1,128.5 511.2,133.7 511.3,128 511.4,131.6 511.5,131.2 511.6,131.3 511.7,132.3 511.8,133.9 511.9,130.9 511.9,131.3 512,133.6 512.1,133.2 512.2,133.5 512.3,132.9 512.4,131.9 512.5,131.5 512.6,131.5 512.7,133.9 512.8,134.9 512.8,135.7 512.9,130.6 513,131.9 513.1,132.3 513.2,132.1 513.3,130.4 513.4,136 513.5,134.9 513.6,132.1 513.7,131.6 513.7,132.3 513.8,130.3 513.9,131.8 514,133.6 514.1,135.1 514.2,133.8 514.3,134.5 514.4,130.5 514.5,126.8 514.6,134.7 514.6,132.6 514.7,132.2 514.8,135.2 514.9,130.7 515,130.7 515.1,131.1 515.2,135.1 515.3,133.9 515.4,129.3 515.5,135.2 515.5,132.4 515.6,133.1 515.7,131 515.8,135.5 515.9,133.1 516,134.6 516.1,130.6 516.2,133.5 516.3,132.5 516.4,132 516.4,130.9 516.5,131.1 516.6,130.3 516.7,131.2 516.8,132.3 516.9,133.3 517,129.7 517.1,130.6 517.2,131.3 517.3,129.5 517.3,131.8 517.4,131.9 517.5,132 517.6,133 517.7,133.9 517.8,133.7 517.9,132.8 518,133.3 518.1,131 518.2,130.7 518.2,133.4 518.3,133.3 518.4,136.1 518.5,131.9 518.6,130.6 518.7,132.8 518.8,131.6 518.9,130.8 519,134.7 519.1,135.6 519.1,133 519.2,131.2 519.3,132.8 519.4,132.2 519.5,130 519.6,133.8 519.7,132.9 519.8,134.5 519.9,131.4 520,132.3 520.1,132.1 520.1,129.4 520.2,136.6 520.3,128.8 520.4,130.4 520.5,131.7 520.6,129.7 520.7,133.1 520.8,131.5 520.9,132.5 521,132.7 521,132.5 521.1,132.5 521.2,132.1 521.3,133.1 521.4,133.7 521.5,131.9 521.6,131.6 521.7,131.7 521.8,132.9 521.9,131.7 521.9,131.7 522,129.8 522.1,135.7 522.2,130.2 522.3,135.3 522.4,133.7 522.5,134.1 522.6,132.8 522.7,133.2 522.8,132.9 522.8,133.4 522.9,133.8 523,135 523.1,130.7 523.2,133.2 523.3,135.2 523.4,134.8 523.5,130.6 523.6,132.9 523.7,132.9 523.7,132.8 523.8,128.5 523.9,133.9 524,129.6 524.1,136.2 524.2,133.5 524.3,132.2 524.4,133.5 524.5,132.7 524.6,131.5 524.6,132.2 524.7,133 524.8,131 524.9,133.6 525,134.3 525.1,134.3 525.2,134.5 525.3,134.7 525.4,133.6 525.5,134.7 525.5,132.5 525.6,133.1 525.7,134.9 525.8,135.8 525.9,131.8 526,129.9 526.1,136.2 526.2,134.4 526.3,135.6 526.4,134 526.4,132.9 526.5,131.3 526.6,130.8 526.7,135 526.8,134.2 526.9,133 527,130.5 527.1,131.5 527.2,131.4 527.3,131.9 527.3,127.4 527.4,132.8 527.5,135.2 527.6,131.5 527.7,132.5 527.8,132.9 527.9,130.7 528,133.2 528.1,131 528.2,131.7 528.2,132.9 528.3,132.3 528.4,132.6 528.5,130.8 528.6,133.7 528.7,130.5 528.8,133.9 528.9,131.6 529,130.4 529.1,132.3 529.1,130.6 529.2,131.5 529.3,132.2 529.4,133.8 529.5,133.8 529.6,133.3 529.7,131.9 529.8,129.8 529.9,132 530,131.9 530,132.2 530.1,131.5 530.2,131.5 530.3,133.9 530.4,130.1 530.5,132.5 530.6,134.6 530.7,131.1 530.8,130.7 530.9,132 530.9,131.8 531,132.9 531.1,134.8 531.2,132.2 531.3,133.4 531.4,131.4 531.5,131.6 531.6,133 531.7,131.3 531.8,134.5 531.8,131.7 531.9,132.2 532,130.6 532.1,131.7 532.2,130.7 532.3,131.6 532.4,129.3 532.5,132.4 532.6,135.5 532.7,129.1 532.7,135.5 532.8,132.2 532.9,134 533,130.7 533.1,136 533.2,130.5 533.3,132.3 533.4,135.2 533.5,130.2 533.6,128.3 533.6,132.3 533.7,131.1 533.8,130.7 533.9,130.8 534,129.8 534.1,134.9 534.2,134.6 534.3,130 534.4,132.2 534.5,131.6 534.5,134.4 534.6,130.9 534.7,135.3 534.8,132.4 534.9,131 535,132.3" fill="none" stroke="#12aef0" stroke-width="0.8" stroke-linejoin="round"/>
<polygon points="338.4,219.3 338.9,218.2 339.3,218.9 339.8,218.4 340.2,218.3 340.7,217.4 341.1,217.3 341.6,216.7 342,216.6 342.5,216.6 342.9,216.4 343.4,216.3 343.8,215.5 344.3,214.5 344.7,214.8 345.2,215 345.6,214.4 346.1,214.4 346.5,212.8 347,213.7 347.4,213.3 347.9,212.5 348.3,213.6 348.8,213.4 349.2,213.2 349.7,213.3 350.2,214.5 350.6,214.5 351.1,214.9 351.5,215.6 352,216.3 352.4,216.3 352.9,216.6 353.3,217.6 353.8,217.8 354.2,218.8 354.7,219.4 355.1,219.4 355.6,220.4 356,220.8 356.5,221.9 356.9,222.3 357.4,223 357.8,223.5 358.3,224.6 358.7,225 359.2,225 359.6,225.7 360.1,226.2 360.5,227 361,227.2 361.4,226.6 361.9,228.3 362.4,228.9 362.8,229.4 363.3,229.6 363.7,230.1 364.2,230.2 364.6,230.5 365.1,230.4 365.5,231.1 366,230.8 366.4,230.9 366.9,230.4 367.3,230.8 367.8,230.5 368.2,229.5 368.7,229.6 369.1,229 369.6,228.8 370,228.5 370.5,228 370.9,227.6 371.4,227 371.8,226.6 372.3,225.1 372.7,224.9 373.2,224.7 373.7,224.5 374.1,223.3 374.6,222.7 375,222 375.5,221.8 375.9,220.8 376.4,220.4 376.8,219.9 377.3,219.1 377.7,218.3 378.2,218 378.6,217.7 379.1,217.2 379.5,216.4 380,216.8 380.4,216.5 380.9,216.1 381.3,215.4 381.8,215.4 382.2,214.8 382.7,215.1 383.1,215 383.6,214.7 384,214.1 384.5,214.3 385,214.1 385.4,213.9 385.9,213.7 386.3,213.7 386.8,214 387.2,214.5 387.7,214.2 388.1,214.5 388.6,214.8 389,215.2 389.5,215.1 389.9,216.4 390.4,216.4 390.8,217 391.3,216.8 391.7,217.1 392.2,217.9 392.6,218.5 393.1,218.7 393.5,219.2 394,219.8 394.4,220.3 394.9,220.9 395.3,221.5 395.8,221.1 396.3,222.2 396.7,222.9 397.2,223.5 397.6,224.1 398.1,224.1 398.5,224.6 399,224.7 399.4,225.7 399.9,225.7 400.3,226.6 400.8,226.5 401.2,226.8 401.7,227.6 402.1,227.3 402.6,227.5 403,228.6 403.5,228.3 403.9,229.1 404.4,229.2 404.8,229.6 405.3,229.5 405.7,229.8 406.2,230 406.6,229.9 407.1,229.9 407.5,229.9 408,230.1 408.5,230.3 408.9,230.4 409.4,230.4 409.8,230.5 410.3,229.9 410.7,230.4 411.2,230.2 411.6,230.4 412.1,230.7 412.5,230.2 413,229.9 413.4,230.9 413.9,231 414.3,231.1 414.8,230.8 415.2,231.1 415.7,231.3 416.1,230.9 416.6,231.4 417,231.1 417.5,231.3 417.9,231.6 418.4,231.5 418.8,231.5 419.3,231.5 419.8,231.4 420.2,231.8 420.7,231.8 421.1,231.9 421.6,231.4 422,231.2 422.5,231.7 422.9,231.9 423.4,231.9 423.8,230.8 424.3,231.5 424.7,231.5 425.2,231.7 425.6,231.3 426.1,231.4 426.5,231.6 427,231.7 427.4,231.1 427.9,231.3 428.3,231.1 428.8,231.4 429.2,231.6 429.7,231.5 430.1,231.2 430.6,231.1 431.1,230.4 431.5,230.5 432,230.5 432.4,229.9 432.9,229 433.3,227.2 433.8,226 434.2,225.1 434.7,224.4 435.1,224.1 435.6,223.7 436,223.5 436.5,223.4 436.9,223.1 437.4,223.2 437.8,223.1 438.3,223.3 438.7,223.3 439.2,223.6 439.6,223.5 440.1,223.2 440.5,223.2 441,223.4 441.4,223.1 441.9,223.3 442.3,223.4 442.8,223.7 443.3,223.7 443.7,223.6 444.2,223.5 444.6,223.2 445.1,223.6 445.5,223.4 446,223.1 446.4,223.6 446.9,223.7 447.3,223.2 447.8,222.7 448.2,223.6 448.7,223.5 449.1,223.7 449.6,223.3 450,223 450.5,223.5 450.9,223.5 451.4,223.3 451.8,223.6 452.3,223.3 452.7,223.6 453.2,223.6 453.6,223.4 454.1,223.4 454.6,223.6 455,223.6 455.5,223.9 455.9,223.3 456.4,223.2 456.8,223.5 457.3,223.6 457.7,223.6 458.2,223.4 458.6,223.5 459.1,223.8 459.5,223.3 460,223.9 460.4,223 460.9,223.5 461.3,223.9 461.8,223.7 462.2,223.5 462.7,223.5 463.1,223.8 463.6,223.8 464,223.8 464.5,223.8 464.9,223.6 465.4,223.3 465.9,223.5 466.3,223.9 466.8,223.8 467.2,223.3 467.7,223.9 468.1,223.3 468.6,224 469,223.7 469.5,223.7 469.9,223.8 470.4,223.5 470.8,223.2 471.3,223.2 471.7,224 472.2,223.6 472.6,223.8 473.1,223.5 473.5,223.3 474,223.8 474.4,223.9 474.9,223.7 475.3,223.8 475.8,223.5 476.2,223.8 476.7,224 477.1,223.9 477.6,224 478.1,223.8 478.5,223.9 479,223.2 479.4,223.2 479.9,223.9 480.3,223.9 480.8,223.9 481.2,223.8 481.7,223.9 482.1,223.8 482.6,223.4 483,224 483.5,223.7 483.9,223.8 484.4,224 484.8,223.9 485.3,223.5 485.7,224 486.2,223.3 486.6,223.8 487.1,223.7 487.5,223.4 488,223.8 488.4,224 488.9,223.8 489.4,224 489.8,223.9 490.3,223.8 490.7,223.6 491.2,224 491.6,224 492.1,223.1 492.5,223.6 493,223.9 493.4,223.9 493.9,223.7 494.3,223.6 494.8,223.5 495.2,223.5 495.7,223.5 496.1,223 496.6,223.8 497,223.6 497.5,223.9 497.9,223.7 498.4,223.7 498.8,224 499.3,224 499.7,224 500.2,223.7 500.7,223.8 501.1,223.9 501.6,223.5 502,224 502.5,223.8 502.9,223.7 503.4,223.8 503.8,223.7 504.3,223.9 504.7,223.5 505.2,223.9 505.6,223.5 506.1,223 506.5,223.8 507,223.7 507.4,223 507.9,223.7 508.3,223.9 508.8,223.3 509.2,223.8 509.7,223.9 510.1,223.7 510.6,223.7 511,223.9 511.5,223.9 512,223.4 512.4,223.9 512.9,223.9 513.3,223.9 513.8,223.4 514.2,223.8 514.7,223.5 515.1,224 515.6,223.1 516,223.6 516.5,223.9 516.9,223.2 517.4,223.4 517.8,223.6 518.3,223.5 518.7,224 519.2,223.9 519.6,223.6 520.1,223.3 520.5,223.4 521,223.8 521.4,223.8 521.9,223.7 522.3,223.8 522.8,223.5 523.2,223.4 523.7,223.6 524.2,223.7 524.6,223.7 525.1,223.8 525.5,223.8 526,223.8 526.4,223.6 526.9,223.7 527.3,223.7 527.8,223.4 528.2,223.3 528.7,223.2 529.1,223.3 529.6,223.2 530,223.4 530.5,223.9 530.9,223.8 531.4,223.6 531.8,223.6 532.3,223.7 532.7,223.7 533.2,223.7 533.6,223.6 534.1,223.5 534.5,223.6 535,223.8 535,226.8 534.5,226.8 534.1,226.6 533.6,226.8 533.2,226.8 532.7,226.7 532.3,226.5 531.8,227 531.4,226.9 530.9,227.1 530.5,226.7 530,226.9 529.6,227.2 529.1,226.8 528.7,226.6 528.2,226.6 527.8,226.7 527.3,226.7 526.9,226.8 526.4,226.6 526,227 525.5,227 525.1,226.9 524.6,226.6 524.2,227 523.7,227 523.2,226.7 522.8,227.2 522.3,227 521.9,226.6 521.4,227.2 521,227.1 520.5,226.6 520.1,226.6 519.6,226.6 519.2,226.6 518.7,226.5 518.3,227 517.8,226.8 517.4,227.2 516.9,227 516.5,226.9 516,227 515.6,226.8 515.1,226.8 514.7,226.9 514.2,226.7 513.8,227 513.3,226.8 512.9,226.9 512.4,226.8 512,226.6 511.5,226.6 511,227.2 510.6,227 510.1,226.8 509.7,226.7 509.2,226.6 508.8,226.7 508.3,226.9 507.9,226.6 507.4,226.9 507,227 506.5,227 506.1,226.6 505.6,227 505.2,227.3 504.7,226.9 504.3,226.6 503.8,226.6 503.4,226.7 502.9,227.1 502.5,226.6 502,226.8 501.6,227 501.1,226.6 500.7,226.9 500.2,227.1 499.7,226.7 499.3,227.3 498.8,226.9 498.4,226.8 497.9,226.9 497.5,226.9 497,226.9 496.6,226.7 496.1,226.8 495.7,227.2 495.2,226.8 494.8,226.9 494.3,227.2 493.9,227 493.4,227 493,226.7 492.5,227.2 492.1,227 491.6,226.6 491.2,226.9 490.7,226.7 490.3,226.6 489.8,227.2 489.4,226.7 488.9,226.7 488.4,227.2 488,226.7 487.5,226.6 487.1,227.1 486.6,226.6 486.2,226.6 485.7,226.8 485.3,226.7 484.8,226.7 484.4,226.9 483.9,227 483.5,226.6 483,227.1 482.6,226.8 482.1,227 481.7,226.7 481.2,227 480.8,227 480.3,226.7 479.9,226.8 479.4,226.8 479,227 478.5,226.8 478.1,227.2 477.6,226.6 477.1,226.6 476.7,227.5 476.2,227.1 475.8,226.7 475.3,227.1 474.9,226.9 474.4,227.4 474,226.6 473.5,226.9 473.1,226.8 472.6,226.8 472.2,226.7 471.7,227.2 471.3,226.7 470.8,226.6 470.4,226.9 469.9,226.8 469.5,227.3 469,226.8 468.6,227.1 468.1,227.1 467.7,227.7 467.2,227 466.8,227 466.3,226.7 465.9,227.3 465.4,227 464.9,226.6 464.5,227.5 464,226.7 463.6,227.1 463.1,226.8 462.7,227.3 462.2,226.7 461.8,227.4 461.3,226.6 460.9,226.8 460.4,226.5 460,226.5 459.5,226.9 459.1,226.7 458.6,226.5 458.2,227 457.7,226.7 457.3,226.8 456.8,226.8 456.4,226.9 455.9,226.7 455.5,226.9 455,226.4 454.6,226.5 454.1,226.6 453.6,226.5 453.2,226.7 452.7,226.6 452.3,226.5 451.8,226.8 451.4,226.5 450.9,227.1 450.5,226.8 450,226.8 449.6,226.6 449.1,226.4 448.7,226.4 448.2,226.5 447.8,226.4 447.3,226.8 446.9,226.3 446.4,226.5 446,226.4 445.5,226.5 445.1,226.3 444.6,226.5 444.2,226.6 443.7,226.6 443.3,226.4 442.8,226.9 442.3,226.5 441.9,226.7 441.4,226.5 441,226.3 440.5,226.4 440.1,226.4 439.6,226.4 439.2,226.4 438.7,227 438.3,226.5 437.8,226.3 437.4,226.3 436.9,226.4 436.5,227.3 436,226.7 435.6,226.6 435.1,226.8 434.7,227.6 434.2,227.8 433.8,229.6 433.3,231 432.9,232.4 432.4,233.3 432,234.3 431.5,233.8 431.1,234.6 430.6,234.8 430.1,234.8 429.7,234.7 429.2,234.6 428.8,235.3 428.3,235.1 427.9,234.6 427.4,234.9 427,235.1 426.5,234.7 426.1,234.7 425.6,235.1 425.2,234.8 424.7,234.9 424.3,235.3 423.8,235.3 423.4,235.4 422.9,235.5 422.5,235.3 422,235 421.6,235.7 421.1,235.2 420.7,235.1 420.2,234.8 419.8,234.9 419.3,235.7 418.8,235 418.4,234.9 417.9,235.3 417.5,234.7 417,235.3 416.6,234.5 416.1,234.3 415.7,234.4 415.2,234.6 414.8,234.7 414.3,234.3 413.9,234.1 413.4,234.2 413,234.9 412.5,234.4 412.1,233.9 411.6,234 411.2,234.2 410.7,234.8 410.3,233.8 409.8,233.6 409.4,233.5 408.9,233.6 408.5,233.4 408,234.3 407.5,233.2 407.1,233.7 406.6,233.2 406.2,233.4 405.7,233 405.3,232.8 404.8,233 404.4,232.9 403.9,232.2 403.5,232.3 403,231.9 402.6,232 402.1,231 401.7,230.9 401.2,231.3 400.8,230.6 400.3,229.7 399.9,229.6 399.4,229.4 399,228.7 398.5,228.3 398.1,227.6 397.6,227.4 397.2,226.7 396.7,226.9 396.3,225.9 395.8,225.2 395.3,224.6 394.9,224.5 394.4,223.6 394,223.1 393.5,222.5 393.1,222 392.6,222.1 392.2,221.3 391.7,222 391.3,220.8 390.8,220 390.4,219.7 389.9,219.6 389.5,219.2 389,219 388.6,218.8 388.1,218.3 387.7,218.3 387.2,217.7 386.8,217.7 386.3,217.7 385.9,217.3 385.4,217.7 385,217.8 384.5,217.7 384,217.7 383.6,218.3 383.1,218.1 382.7,218.3 382.2,218.6 381.8,218.6 381.3,219.3 380.9,219.2 380.4,219.7 380,219.8 379.5,220.6 379.1,220.4 378.6,220.8 378.2,221.6 377.7,222.1 377.3,222.6 376.8,223.6 376.4,223.7 375.9,224.1 375.5,225.6 375,226.2 374.6,226.5 374.1,227.5 373.7,228 373.2,228.4 372.7,229 372.3,229.4 371.8,229.6 371.4,230.1 370.9,230.7 370.5,231.1 370,231.8 369.6,232 369.1,232.9 368.7,233 368.2,233.4 367.8,233.8 367.3,233.9 366.9,233.9 366.4,234 366,234.3 365.5,234 365.1,234.3 364.6,233.8 364.2,233.9 363.7,233.7 363.3,233.9 362.8,232.6 362.4,232.4 361.9,231.8 361.4,231.4 361,230.8 360.5,230.3 360.1,230.5 359.6,229.3 359.2,229.1 358.7,228.9 358.3,227.5 357.8,227 357.4,226.4 356.9,225.8 356.5,225.2 356,224.7 355.6,224.3 355.1,223 354.7,222.9 354.2,222.5 353.8,221.8 353.3,221 352.9,220.3 352.4,220 352,220.1 351.5,219.1 351.1,218.5 350.6,218.2 350.2,217.8 349.7,217.7 349.2,216.9 348.8,216.7 348.3,217.2 347.9,217.3 347.4,216.8 347,216.9 346.5,217.4 346.1,217.9 345.6,218.2 345.2,218 344.7,218.8 344.3,219.5 343.8,219.2 343.4,219.3 342.9,219.9 342.5,220 342,220.3 341.6,220.5 341.1,220.7 340.7,221.2 340.2,221.3 339.8,222 339.3,222.2 338.9,222.5 338.4,222.4" fill="#12aef0"/>
<polyline points="338.4,220.4 338.5,222 338.6,222.8 338.7,222 338.8,219.8 338.9,219.6 338.9,221 339,221.6 339.1,221 339.2,219.9 339.3,219.2 339.4,221.9 339.5,220 339.6,222.6 339.7,218.6 339.8,219.6 339.8,219.2 339.9,222.3 340,221.5 340.1,219.2 340.2,217.3 340.3,221.2 340.4,219.8 340.5,218.1 340.6,217.6 340.7,220 340.7,219.1 340.8,219.5 340.9,219.8 341,218.7 341.1,218.8 341.2,220 341.3,218.9 341.4,218.6 341.5,219.8 341.6,216.3 341.6,220.4 341.7,219.3 341.8,217.7 341.9,218.4 342,220.2 342.1,219.3 342.2,216.2 342.3,217.1 342.4,218.6 342.5,220.6 342.5,219.3 342.6,218 342.7,218.9 342.8,218.1 342.9,217.7 343,218.5 343.1,215.2 343.2,219.2 343.3,218.5 343.4,217.2 343.4,216.6 343.5,216.1 343.6,217.9 343.7,217.7 343.8,217.7 343.9,219.6 344,214.5 344.1,216.4 344.2,216.2 344.3,218.4 344.3,216.8 344.4,215.8 344.5,217.2 344.6,217.4 344.7,218.9 344.8,217.1 344.9,216.1 345,216 345.1,215.5 345.2,217.1 345.2,217.5 345.3,216.1 345.4,216.1 345.5,218 345.6,216.3 345.7,216.8 345.8,214.7 345.9,215.2 346,213.2 346.1,214.1 346.1,216.3 346.2,217.4 346.3,215.4 346.4,214.1 346.5,215.8 346.6,217.1 346.7,215.3 346.8,216.7 346.9,215.4 347,213.8 347,214.2 347.1,215 347.2,218.2 347.3,216 347.4,214.9 347.5,215.6 347.6,215.5 347.7,214.6 347.8,215 347.9,214.8 347.9,216.1 348,217.1 348.1,216.8 348.2,214.7 348.3,215.8 348.4,214.2 348.5,213.7 348.6,215.2 348.7,215.9 348.8,215.1 348.8,216.3 348.9,216.3 349,216.2 349.1,215.1 349.2,213.6 349.3,217.7 349.4,214.8 349.5,216.4 349.6,216.2 349.7,215.2 349.7,218 349.8,216.6 349.9,215.8 350,215.4 350.1,214.7 350.2,214.4 350.3,216.9 350.4,215.6 350.5,215.7 350.6,217 350.6,216 350.7,217.4 350.8,215.8 350.9,216.1 351,218 351.1,216.1 351.2,217.8 351.3,217.8 351.4,217.2 351.5,215.2 351.5,215.7 351.6,216.1 351.7,216 351.8,218.8 351.9,216.7 352,216.3 352.1,217.4 352.2,218 352.3,216.1 352.4,219.1 352.4,219.4 352.5,217.8 352.6,219.7 352.7,216.7 352.8,218.1 352.9,218.7 353,219.1 353.1,220.6 353.2,218.7 353.3,218 353.3,219.6 353.4,219.7 353.5,220.1 353.6,219.2 353.7,220 353.8,219.1 353.9,220.7 354,219.2 354.1,219.4 354.2,221.8 354.3,219.4 354.3,220.5 354.4,221.4 354.5,220.4 354.6,222 354.7,220.3 354.8,222.4 354.9,219.3 355,219.6 355.1,221.6 355.2,223.4 355.2,223.8 355.3,220.8 355.4,222 355.5,221.5 355.6,219.5 355.7,223.3 355.8,222 355.9,224.4 356,223.1 356.1,222.2 356.1,222.1 356.2,222.9 356.3,223.9 356.4,222.8 356.5,227.1 356.6,223.9 356.7,222.3 356.8,224 356.9,225.5 357,224.7 357,223.9 357.1,223.6 357.2,223.6 357.3,223.2 357.4,224.2 357.5,225.3 357.6,224.4 357.7,227.3 357.8,225.8 357.9,224.9 357.9,225.5 358,227.6 358.1,223.6 358.2,226.2 358.3,229.5 358.4,227.4 358.5,225.1 358.6,226.6 358.7,226.2 358.8,230.2 358.8,225.9 358.9,226.5 359,226.5 359.1,225.2 359.2,222.9 359.3,227 359.4,228 359.5,226.9 359.6,228.2 359.7,228.6 359.7,228.6 359.8,225.7 359.9,229.9 360,229.1 360.1,229.1 360.2,228.2 360.3,228.3 360.4,227.7 360.5,229 360.6,229.7 360.6,227.9 360.7,229.8 360.8,228.2 360.9,229.7 361,228.8 361.1,230.2 361.2,231.7 361.3,229.6 361.4,228.8 361.5,228.9 361.5,230.4 361.6,229 361.7,231 361.8,230.2 361.9,231.1 362,229.3 362.1,228.9 362.2,229.3 362.3,230.8 362.4,229.4 362.4,231.4 362.5,227.9 362.6,229.8 362.7,230.5 362.8,228.5 362.9,230.1 363,229.1 363.1,231 363.2,230.9 363.3,232.2 363.3,230.2 363.4,229.3 363.5,230.8 363.6,231.7 363.7,231.7 363.8,231.9 363.9,233.3 364,231.4 364.1,231.6 364.2,230.9 364.2,231.2 364.3,233.4 364.4,232.6 364.5,228.8 364.6,233.8 364.7,229.7 364.8,231.8 364.9,233.6 365,232.6 365.1,233.1 365.1,233.6 365.2,232.9 365.3,230.9 365.4,233 365.5,231.7 365.6,229.5 365.7,232.2 365.8,233.3 365.9,232.8 366,232.6 366,234.8 366.1,233 366.2,233.8 366.3,233 366.4,234.7 366.5,232.1 366.6,234 366.7,234.8 366.8,232 366.9,233.8 366.9,230.7 367,232.8 367.1,233.3 367.2,231.2 367.3,230 367.4,232.3 367.5,231.8 367.6,232.4 367.7,232.4 367.8,233.1 367.8,234 367.9,232.4 368,229.9 368.1,232.6 368.2,232.2 368.3,231.8 368.4,233.6 368.5,231.8 368.6,231 368.7,231.9 368.8,229.2 368.8,232.4 368.9,231.2 369,233.2 369.1,231.8 369.2,231.3 369.3,231 369.4,229.2 369.5,230.5 369.6,230.9 369.7,231.7 369.7,230.9 369.8,231.1 369.9,231 370,229.4 370.1,230.4 370.2,229.6 370.3,228.2 370.4,227.8 370.5,230.7 370.6,231.4 370.6,231.2 370.7,228.2 370.8,231.2 370.9,231.1 371,228.1 371.1,229.6 371.2,231 371.3,228.9 371.4,230.2 371.5,227.8 371.5,228.1 371.6,229.5 371.7,228.1 371.8,228.4 371.9,228.3 372,226.7 372.1,229.9 372.2,227.7 372.3,227.4 372.4,227.1 372.4,227.7 372.5,226.3 372.6,228.5 372.7,226.8 372.8,228.2 372.9,225.9 373,225.7 373.1,225.7 373.2,227 373.3,224.9 373.3,227.6 373.4,225.9 373.5,227.4 373.6,225.6 373.7,227 373.8,224.6 373.9,224.3 374,226.4 374.1,224.8 374.2,226.7 374.2,224.3 374.3,225.7 374.4,223.9 374.5,222.6 374.6,226.5 374.7,224.3 374.8,225.6 374.9,224.5 375,221.9 375.1,224.5 375.1,225.2 375.2,225.4 375.3,225.7 375.4,223.9 375.5,223.2 375.6,223.3 375.7,221.5 375.8,223.8 375.9,223.7 376,223.1 376,221.5 376.1,223.2 376.2,221.5 376.3,223.7 376.4,221.2 376.5,221.2 376.6,221.3 376.7,220.3 376.8,220.3 376.9,221 376.9,218.1 377,223.6 377.1,221.4 377.2,221.2 377.3,219.6 377.4,220.9 377.5,220.5 377.6,220.5 377.7,218.4 377.8,220 377.8,217.7 377.9,219.7 378,218.7 378.1,219 378.2,219.3 378.3,220.7 378.4,221.1 378.5,219.5 378.6,218 378.7,221.2 378.7,217.4 378.8,218.4 378.9,218.8 379,218.1 379.1,220.7 379.2,219.4 379.3,220.2 379.4,218.4 379.5,219.8 379.6,218.4 379.6,218.4 379.7,218.9 379.8,218.9 379.9,219.1 380,218 380.1,216.3 380.2,217.8 380.3,214.7 380.4,217.7 380.5,217 380.5,219 380.6,214.4 380.7,220.4 380.8,217.3 380.9,215.6 381,218.2 381.1,218.2 381.2,218.1 381.3,220.3 381.4,216.3 381.4,217.7 381.5,217.5 381.6,216.4 381.7,217.6 381.8,218.8 381.9,216 382,217.6 382.1,218.3 382.2,217.8 382.3,214.8 382.3,217.2 382.4,216.3 382.5,218.3 382.6,216.5 382.7,219.2 382.8,215 382.9,217.2 383,215.4 383.1,218.7 383.2,218.4 383.2,215.2 383.3,217.3 383.4,216.2 383.5,214.2 383.6,214.9 383.7,216.3 383.8,216.8 383.9,215.6 384,216.5 384.1,216.5 384.2,216.4 384.2,214.5 384.3,216.2 384.4,216.7 384.5,214 384.6,217.9 384.7,217.8 384.8,216.1 384.9,218.6 385,214.8 385.1,214.6 385.1,215 385.2,214.9 385.3,218.2 385.4,215.9 385.5,215.7 385.6,216.3 385.7,217.9 385.8,216 385.9,215.3 386,216.2 386,217.4 386.1,215.6 386.2,217.7 386.3,216.3 386.4,215.7 386.5,216.5 386.6,218.5 386.7,215.6 386.8,217.7 386.9,216.7 386.9,216.2 387,216.1 387.1,217.2 387.2,216.9 387.3,216.7 387.4,217.1 387.5,215.1 387.6,215.5 387.7,215.1 387.8,215.9 387.8,216.2 387.9,216 388,217.2 388.1,215.4 388.2,216.3 388.3,217.8 388.4,218.9 388.5,216.9 388.6,218.4 388.7,218.7 388.7,215.7 388.8,217.4 388.9,215.8 389,216.7 389.1,217.8 389.2,215.7 389.3,218.1 389.4,217.3 389.5,217.2 389.6,218.3 389.6,216.6 389.7,215.5 389.8,217.8 389.9,216.9 390,217.7 390.1,216.6 390.2,216.9 390.3,216.8 390.4,216.6 390.5,217.2 390.5,217.3 390.6,218.5 390.7,222.5 390.8,217.8 390.9,216.6 391,219.4 391.1,217.2 391.2,217.7 391.3,218.5 391.4,219 391.4,219.2 391.5,219.4 391.6,219.1 391.7,220.7 391.8,220.4 391.9,218.7 392,219.2 392.1,217.8 392.2,220.5 392.3,219.4 392.3,222.2 392.4,219 392.5,221.9 392.6,218.8 392.7,217.9 392.8,219.1 392.9,220.7 393,221.6 393.1,219.3 393.2,221.7 393.2,219.9 393.3,220 393.4,220.4 393.5,223 393.6,221.2 393.7,221.5 393.8,219.2 393.9,221.5 394,221.7 394.1,223.5 394.1,220.5 394.2,220.8 394.3,220.6 394.4,221.1 394.5,222.8 394.6,221.1 394.7,223.8 394.8,222.4 394.9,221.3 395,221.7 395,220.9 395.1,220.9 395.2,224.3 395.3,224.1 395.4,221.8 395.5,222.6 395.6,225.3 395.7,222.5 395.8,223.8 395.9,224.3 395.9,223.5 396,223.6 396.1,223.5 396.2,224.2 396.3,222.2 396.4,224.3 396.5,224.6 396.6,222.8 396.7,225.2 396.8,223.5 396.8,221.4 396.9,222.4 397,225.1 397.1,225.8 397.2,224.7 397.3,223.4 397.4,225.2 397.5,226.7 397.6,225.5 397.7,223.8 397.7,226.4 397.8,225.6 397.9,225.7 398,226.1 398.1,226.9 398.2,226.1 398.3,225.1 398.4,226.3 398.5,226.7 398.6,228.1 398.6,225.1 398.7,226.6 398.8,225.7 398.9,227.2 399,226.3 399.1,223.1 399.2,228.3 399.3,226.3 399.4,225.9 399.5,225.4 399.6,226 399.6,225.8 399.7,227.4 399.8,227.8 399.9,227.6 400,228.2 400.1,226.8 400.2,228.7 400.3,227.8 400.4,228.6 400.5,228.9 400.5,227.7 400.6,229.9 400.7,229.4 400.8,227.9 400.9,230.7 401,230.7 401.1,226.7 401.2,225.9 401.3,228 401.4,229.4 401.4,230.1 401.5,229.8 401.6,229 401.7,230.4 401.8,230.1 401.9,228.7 402,229.6 402.1,230.8 402.2,228.7 402.3,228.7 402.3,228.5 402.4,231.5 402.5,230.6 402.6,230.9 402.7,229.4 402.8,229.9 402.9,231.5 403,229.7 403.1,231.6 403.2,230.1 403.2,230.2 403.3,231 403.4,231.4 403.5,232.6 403.6,230 403.7,232.6 403.8,229.6 403.9,229.5 404,227.8 404.1,231.8 404.1,232.6 404.2,229.3 404.3,230.4 404.4,230.6 404.5,229 404.6,231.1 404.7,231.4 404.8,230.4 404.9,229.8 405,231.3 405,231.9 405.1,229.4 405.2,231.1 405.3,232 405.4,227.8 405.5,231.7 405.6,233.5 405.7,229.8 405.8,233.1 405.9,231.1 405.9,232.2 406,231.3 406.1,230.1 406.2,229.3 406.3,234.6 406.4,229.9 406.5,231.2 406.6,233.4 406.7,232 406.8,231.8 406.8,229.1 406.9,230.9 407,230 407.1,229.4 407.2,232.2 407.3,232.8 407.4,230.8 407.5,230.9 407.6,232.3 407.7,232.9 407.7,230.5 407.8,233.3 407.9,233 408,231.8 408.1,230.4 408.2,232.6 408.3,232.7 408.4,234.1 408.5,231.1 408.6,233.9 408.6,231.5 408.7,232.6 408.8,231.8 408.9,232.1 409,233.8 409.1,231.1 409.2,233 409.3,231.6 409.4,232 409.5,231.1 409.5,232.3 409.6,229.5 409.7,231.7 409.8,233.3 409.9,233.1 410,230 410.1,230.6 410.2,231.6 410.3,234.5 410.4,231.6 410.4,232.1 410.5,231.8 410.6,232.5 410.7,231 410.8,232.5 410.9,232.8 411,233.5 411.1,231.1 411.2,233.3 411.3,234.7 411.3,233.2 411.4,233.1 411.5,229.1 411.6,233.9 411.7,234.7 411.8,233.8 411.9,232.9 412,233.3 412.1,236.1 412.2,231.4 412.2,231.8 412.3,233.7 412.4,232.7 412.5,229.6 412.6,232.6 412.7,232.8 412.8,231.2 412.9,232.9 413,232.7 413.1,230.1 413.1,233.1 413.2,235.2 413.3,234.7 413.4,231 413.5,230.8 413.6,232.5 413.7,232.8 413.8,230.8 413.9,231.6 414,234.3 414.1,232.8 414.1,233.9 414.2,232.5 414.3,233.9 414.4,231.9 414.5,231.9 414.6,231.4 414.7,230.1 414.8,232.1 414.9,230.9 415,232.1 415,232.9 415.1,232.9 415.2,233.2 415.3,232.2 415.4,232.6 415.5,234.2 415.6,232.5 415.7,232.8 415.8,229.6 415.9,231.4 415.9,234.2 416,231.7 416.1,231.4 416.2,234.1 416.3,231.3 416.4,234.1 416.5,232.7 416.6,232.1 416.7,230.2 416.8,234.6 416.8,230.6 416.9,231.3 417,234 417.1,231.4 417.2,233.6 417.3,232.9 417.4,232.6 417.5,231.6 417.6,232.2 417.7,233.4 417.7,231.8 417.8,233.9 417.9,233.4 418,233.8 418.1,233.4 418.2,233.8 418.3,233.6 418.4,234.2 418.5,233.6 418.6,233.6 418.6,232 418.7,230.9 418.8,233.2 418.9,234.4 419,232 419.1,231.1 419.2,232.5 419.3,233.7 419.4,234.3 419.5,232.8 419.5,231.7 419.6,233.2 419.7,234.1 419.8,233.2 419.9,234.6 420,232.6 420.1,234.4 420.2,235.4 420.3,232 420.4,232.2 420.4,234.2 420.5,237.4 420.6,234 420.7,233.3 420.8,235 420.9,233.2 421,231.3 421.1,232.1 421.2,235.1 421.3,231.2 421.3,231.5 421.4,234.4 421.5,233.6 421.6,234.9 421.7,232 421.8,232.4 421.9,232.9 422,231.8 422.1,233.1 422.2,233.2 422.2,234.5 422.3,233.3 422.4,232.9 422.5,234 422.6,234.8 422.7,234.7 422.8,233.7 422.9,232.9 423,232.8 423.1,231.7 423.1,233.5 423.2,233.3 423.3,235.5 423.4,233.6 423.5,234.3 423.6,235.1 423.7,230.9 423.8,232.5 423.9,233 424,233.5 424,231.9 424.1,234.5 424.2,234.5 424.3,234 424.4,234.2 424.5,231.9 424.6,234.8 424.7,232.5 424.8,230.9 424.9,233.5 424.9,233.9 425,232.4 425.1,231.2 425.2,231.8 425.3,233.1 425.4,230 425.5,234.6 425.6,234.6 425.7,233.1 425.8,234.7 425.8,233.1 425.9,231.8 426,234.1 426.1,234 426.2,232.1 426.3,231.4 426.4,232 426.5,234.8 426.6,232.9 426.7,236.9 426.7,232.4 426.8,234 426.9,233.6 427,232.9 427.1,234.3 427.2,232.1 427.3,233.1 427.4,231.7 427.5,230.4 427.6,233.3 427.6,231.7 427.7,231.5 427.8,233.9 427.9,233 428,233.7 428.1,235.4 428.2,233.4 428.3,233.7 428.4,231.6 428.5,234.2 428.5,234.2 428.6,231.7 428.7,233.9 428.8,233.5 428.9,232.8 429,233.2 429.1,236.2 429.2,232.2 429.3,232.6 429.4,233.2 429.5,232.8 429.5,230.7 429.6,233.9 429.7,234.2 429.8,235.2 429.9,232.3 430,231.3 430.1,233.8 430.2,231.6 430.3,232.9 430.4,232.4 430.4,233.1 430.5,232.3 430.6,233.7 430.7,231.6 430.8,235.8 430.9,233.7 431,231.9 431.1,231.4 431.2,232.3 431.3,231.9 431.3,231.4 431.4,234.2 431.5,233.6 431.6,230.9 431.7,232.9 431.8,232.2 431.9,233.1 432,231.1 432.1,234.7 432.2,231.9 432.2,234.3 432.3,231 432.4,233.3 432.5,231.3 432.6,233.5 432.7,230.9 432.8,229.6 432.9,229.3 433,229.6 433.1,230.9 433.1,230.3 433.2,229.6 433.3,230.5 433.4,230.9 433.5,227.2 433.6,229.4 433.7,230.8 433.8,226.7 433.9,226.5 434,227.5 434,227 434.1,226 434.2,226.4 434.3,228.2 434.4,227.3 434.5,225.2 434.6,224 434.7,224.6 434.8,226 434.9,224.8 434.9,224.6 435,226.3 435.1,225.1 435.2,224.9 435.3,225.5 435.4,226.9 435.5,225.5 435.6,225.9 435.7,225.2 435.8,226.8 435.8,223.6 435.9,223.7 436,224.4 436.1,227.3 436.2,226.8 436.3,223.7 436.4,224.5 436.5,225.6 436.6,225.1 436.7,226 436.7,224.4 436.8,223.1 436.9,225.7 437,226.4 437.1,223.2 437.2,222.8 437.3,224.5 437.4,222.9 437.5,225.5 437.6,223.7 437.6,225.9 437.7,224.6 437.8,225.2 437.9,225.8 438,224.8 438.1,223.8 438.2,226.1 438.3,223.3 438.4,226.6 438.5,224.3 438.5,224.4 438.6,225.5 438.7,225.5 438.8,225.6 438.9,223.3 439,224 439.1,225.4 439.2,225.4 439.3,224.9 439.4,226.5 439.4,224.8 439.5,226.1 439.6,226.3 439.7,225.4 439.8,224.8 439.9,225.9 440,225.5 440.1,225.7 440.2,224 440.3,225.5 440.3,226.8 440.4,224.7 440.5,225.2 440.6,224.7 440.7,226 440.8,222.6 440.9,226.8 441,225.6 441.1,224.8 441.2,225.3 441.2,226.3 441.3,225.4 441.4,225.8 441.5,226.4 441.6,225.2 441.7,225.9 441.8,226.7 441.9,225.7 442,224.3 442.1,225.9 442.1,227.4 442.2,224.7 442.3,225.6 442.4,225.5 442.5,226 442.6,224.6 442.7,225 442.8,227.3 442.9,225.8 443,224.3 443,225.9 443.1,225.1 443.2,226.8 443.3,223.2 443.4,225.2 443.5,226.2 443.6,223.6 443.7,224.2 443.8,225.6 443.9,225.1 443.9,224.7 444,225.4 444.1,223.5 444.2,224.1 444.3,227 444.4,224.3 444.5,225.5 444.6,225 444.7,226 444.8,225.4 444.9,225.5 444.9,226.4 445,225.4 445.1,223.1 445.2,224.3 445.3,226.7 445.4,226.3 445.5,224.8 445.6,223.2 445.7,224.2 445.8,227.4 445.8,226.4 445.9,226.5 446,223.2 446.1,223.5 446.2,224.4 446.3,223.5 446.4,225.2 446.5,223.8 446.6,225.6 446.7,224.8 446.7,224.4 446.8,225.8 446.9,225.6 447,225.2 447.1,224.7 447.2,225 447.3,222.9 447.4,222.8 447.5,224.3 447.6,225.2 447.6,227.1 447.7,225.5 447.8,223.9 447.9,224.5 448,223.6 448.1,225 448.2,225 448.3,225 448.4,225.4 448.5,226.3 448.5,225.9 448.6,223.8 448.7,226 448.8,223.9 448.9,225.5 449,225.2 449.1,227 449.2,225 449.3,225 449.4,224.8 449.4,226.1 449.5,225.4 449.6,224.8 449.7,226 449.8,227.5 449.9,226.9 450,226.8 450.1,224.5 450.2,225 450.3,225.3 450.3,223.2 450.4,227 450.5,223.5 450.6,225.6 450.7,223.7 450.8,225.2 450.9,226 451,225.7 451.1,224.1 451.2,224.4 451.2,226.2 451.3,225 451.4,225.2 451.5,226.2 451.6,222.3 451.7,225.4 451.8,226.5 451.9,227.1 452,225.9 452.1,224.3 452.1,226.2 452.2,227.2 452.3,224.4 452.4,224.3 452.5,225 452.6,224.7 452.7,222.8 452.8,222.5 452.9,223.6 453,224.4 453,225.6 453.1,224.5 453.2,225.3 453.3,226.7 453.4,228.5 453.5,226.1 453.6,224 453.7,226.3 453.8,225.1 453.9,225.5 453.9,226.2 454,226 454.1,223.7 454.2,223.9 454.3,225.4 454.4,225.9 454.5,227.5 454.6,225.8 454.7,224.7 454.8,224.6 454.8,224.3 454.9,223.7 455,223.7 455.1,224.5 455.2,225.3 455.3,224.3 455.4,225.2 455.5,224.8 455.6,224.9 455.7,224.7 455.7,225.5 455.8,225.2 455.9,222.2 456,225.4 456.1,225.3 456.2,224.5 456.3,225.3 456.4,224.4 456.5,225.3 456.6,224.2 456.6,225.9 456.7,225.5 456.8,223.5 456.9,224.4 457,225.9 457.1,225.6 457.2,225.3 457.3,223.9 457.4,224.4 457.5,225.3 457.5,225.5 457.6,225.1 457.7,224.2 457.8,224.9 457.9,224.6 458,223.9 458.1,223.9 458.2,224.3 458.3,223.5 458.4,225.7 458.4,226 458.5,226.2 458.6,224.3 458.7,224.3 458.8,225.4 458.9,224.6 459,224.8 459.1,224.8 459.2,223.4 459.3,226.6 459.3,223.6 459.4,223.4 459.5,226.1 459.6,223.9 459.7,226.4 459.8,225.6 459.9,225.6 460,224.7 460.1,223.6 460.2,223.8 460.3,225.3 460.3,225.1 460.4,223.8 460.5,223.9 460.6,224.2 460.7,225.1 460.8,225.7 460.9,226.2 461,224.8 461.1,226.8 461.2,226 461.2,226.8 461.3,224.2 461.4,225.8 461.5,226.4 461.6,223.2 461.7,226.2 461.8,225.7 461.9,226.2 462,225.4 462.1,226.5 462.1,224.7 462.2,224.6 462.3,226 462.4,226 462.5,223.7 462.6,226.5 462.7,226.5 462.8,226.3 462.9,224.4 463,226.6 463,225.8 463.1,226.2 463.2,225.1 463.3,224.7 463.4,224.4 463.5,224.5 463.6,226.2 463.7,224.3 463.8,224.5 463.9,225.6 463.9,224.9 464,222.9 464.1,224.5 464.2,224.8 464.3,227 464.4,226 464.5,224.1 464.6,224 464.7,224.7 464.8,225.5 464.8,224.4 464.9,225.7 465,223.7 465.1,225.6 465.2,226.5 465.3,222.3 465.4,225.2 465.5,225.5 465.6,225.7 465.7,225.3 465.7,225.2 465.8,225.5 465.9,225.4 466,225.3 466.1,227 466.2,226.4 466.3,226.3 466.4,224.5 466.5,224.7 466.6,226.4 466.6,224.1 466.7,226.4 466.8,223.7 466.9,227.6 467,226.6 467.1,224.6 467.2,224.7 467.3,223 467.4,225.2 467.5,226.6 467.5,225.9 467.6,225 467.7,227.5 467.8,225.9 467.9,225.7 468,224.9 468.1,225.9 468.2,228.2 468.3,225.7 468.4,223.4 468.4,225.5 468.5,227.4 468.6,226.6 468.7,224.7 468.8,225.6 468.9,223.6 469,226 469.1,224.3 469.2,224.7 469.3,224.6 469.3,224.5 469.4,227.1 469.5,226.9 469.6,224.9 469.7,225.4 469.8,227.1 469.9,224.9 470,224.8 470.1,224.3 470.2,227 470.2,225.4 470.3,225.3 470.4,224.8 470.5,224.3 470.6,226.3 470.7,224.4 470.8,224.7 470.9,223.4 471,224 471.1,224.7 471.1,224.7 471.2,223.6 471.3,224.6 471.4,225.1 471.5,222.3 471.6,225.9 471.7,225 471.8,223.8 471.9,225 472,225.8 472,225.3 472.1,225.3 472.2,225.3 472.3,226 472.4,223.8 472.5,224.6 472.6,225.7 472.7,225.3 472.8,224.1 472.9,224.9 472.9,224.5 473,225.3 473.1,223.4 473.2,223.5 473.3,223.7 473.4,225.1 473.5,228 473.6,226.4 473.7,226.6 473.8,225.3 473.8,227 473.9,225.7 474,225.3 474.1,226.5 474.2,223.9 474.3,222.8 474.4,223.9 474.5,226.8 474.6,226.3 474.7,225.5 474.8,225 474.8,225.1 474.9,225.7 475,224.3 475.1,226.1 475.2,224.2 475.3,226.8 475.4,224.9 475.5,224.2 475.6,224.9 475.7,224.2 475.7,225.1 475.8,223.3 475.9,224.7 476,225.4 476.1,225.7 476.2,224.8 476.3,226.6 476.4,223.4 476.5,225 476.6,224.7 476.6,225.3 476.7,225 476.8,226.8 476.9,225.3 477,224.2 477.1,228 477.2,225.3 477.3,225.1 477.4,226.3 477.5,224.6 477.5,225 477.6,226.2 477.7,223.9 477.8,224.8 477.9,226.3 478,227.3 478.1,225.2 478.2,225.2 478.3,226.5 478.4,223.6 478.4,224.5 478.5,224.4 478.6,223 478.7,222 478.8,224.8 478.9,226.3 479,226 479.1,226.7 479.2,222.2 479.3,225.1 479.3,226.8 479.4,224.3 479.5,223.8 479.6,225.7 479.7,225.3 479.8,226 479.9,225.3 480,226.7 480.1,226 480.2,225.6 480.2,224.8 480.3,226.1 480.4,224.5 480.5,226.3 480.6,226.6 480.7,226.3 480.8,223.8 480.9,225.8 481,225.7 481.1,226.3 481.1,223.5 481.2,224.6 481.3,225.2 481.4,226.8 481.5,224.6 481.6,226.3 481.7,225.4 481.8,227.4 481.9,225.6 482,223.5 482,225 482.1,225.6 482.2,226.7 482.3,226 482.4,225 482.5,223.9 482.6,225.3 482.7,225.1 482.8,226.8 482.9,226.3 482.9,223.7 483,222.7 483.1,224.8 483.2,225.6 483.3,224.2 483.4,224.7 483.5,226.6 483.6,226.1 483.7,223.3 483.8,225.7 483.8,225.5 483.9,225.1 484,225.9 484.1,225.9 484.2,228.1 484.3,225.5 484.4,224.5 484.5,224.7 484.6,226.1 484.7,227.5 484.7,226 484.8,225.9 484.9,225.6 485,224.8 485.1,225.4 485.2,223.9 485.3,226.1 485.4,225.8 485.5,225.5 485.6,224.3 485.6,225 485.7,224.6 485.8,225.6 485.9,225 486,225.7 486.1,226.3 486.2,226.7 486.3,224.1 486.4,224.9 486.5,224.1 486.5,226.7 486.6,224.3 486.7,226.8 486.8,224.7 486.9,226.4 487,224.7 487.1,225 487.2,225.4 487.3,225.4 487.4,225.1 487.4,226 487.5,226.6 487.6,226.3 487.7,224.8 487.8,223.2 487.9,225.4 488,222.1 488.1,226.1 488.2,226 488.3,223.9 488.3,226 488.4,224.6 488.5,226.7 488.6,224.4 488.7,224.4 488.8,224.6 488.9,225.6 489,224.1 489.1,227.8 489.2,224.9 489.2,227.3 489.3,225 489.4,224.9 489.5,224.5 489.6,224.4 489.7,225.8 489.8,226.6 489.9,225.4 490,224.3 490.1,225.5 490.2,224.4 490.2,222.3 490.3,225.4 490.4,223.3 490.5,224.6 490.6,225.4 490.7,224.8 490.8,225 490.9,227 491,226.4 491.1,227 491.1,225.5 491.2,225.6 491.3,227.3 491.4,224.6 491.5,225.7 491.6,225.4 491.7,225.6 491.8,226 491.9,225.4 492,226.2 492,224.3 492.1,225.9 492.2,224.1 492.3,226.5 492.4,226.4 492.5,225.1 492.6,224.7 492.7,225.3 492.8,225.9 492.9,223.6 492.9,224.2 493,226.3 493.1,225 493.2,223.8 493.3,222.8 493.4,224.8 493.5,223.3 493.6,225.4 493.7,225.2 493.8,227.3 493.8,223.9 493.9,226 494,223.9 494.1,224.1 494.2,225 494.3,224.3 494.4,227.3 494.5,225.2 494.6,224.4 494.7,227.9 494.7,224.4 494.8,224.8 494.9,225 495,224.4 495.1,225.9 495.2,226.6 495.3,223.8 495.4,224.7 495.5,224.8 495.6,223.7 495.6,223.8 495.7,224.8 495.8,224.2 495.9,225.6 496,226.2 496.1,225.5 496.2,225.6 496.3,224.2 496.4,224.6 496.5,225.7 496.5,225.9 496.6,225.1 496.7,225.8 496.8,225 496.9,223.9 497,225.6 497.1,224.8 497.2,223.3 497.3,226.2 497.4,225.7 497.4,226 497.5,224.7 497.6,226.9 497.7,225.8 497.8,226.3 497.9,224.5 498,224.9 498.1,226.7 498.2,225.2 498.3,225.3 498.3,226.9 498.4,226.5 498.5,225.5 498.6,227.4 498.7,223.6 498.8,225.2 498.9,224.6 499,226.9 499.1,227 499.2,224.7 499.2,225.4 499.3,226.3 499.4,225.8 499.5,225.5 499.6,226.3 499.7,227.4 499.8,225.4 499.9,224 500,225.1 500.1,225.2 500.1,224.8 500.2,226 500.3,226.1 500.4,226.3 500.5,225.8 500.6,225.5 500.7,224.1 500.8,224.9 500.9,224.3 501,225.6 501,225.1 501.1,225.2 501.2,225.8 501.3,224.9 501.4,226.4 501.5,226.4 501.6,224.2 501.7,226.7 501.8,224.9 501.9,224.5 501.9,224.9 502,223.9 502.1,225.6 502.2,226.6 502.3,223.6 502.4,225.7 502.5,225.9 502.6,226 502.7,226 502.8,225.7 502.8,224.7 502.9,226.2 503,225.6 503.1,226.1 503.2,225.6 503.3,225 503.4,225.2 503.5,225.9 503.6,226.4 503.7,223.2 503.7,223.9 503.8,223.5 503.9,224.7 504,224.5 504.1,225.5 504.2,224.9 504.3,226.7 504.4,224.6 504.5,224.5 504.6,224.3 504.6,224.9 504.7,225.4 504.8,224.7 504.9,224.2 505,223.8 505.1,225.4 505.2,224.6 505.3,224.2 505.4,224.9 505.5,225.6 505.6,227.5 505.6,227 505.7,224.3 505.8,224.7 505.9,223.1 506,223.1 506.1,223.2 506.2,226.2 506.3,225.1 506.4,223.6 506.5,224.5 506.5,224.7 506.6,224.5 506.7,226.8 506.8,223.1 506.9,224.7 507,225.5 507.1,225.8 507.2,222.8 507.3,225.4 507.4,223.9 507.4,224.6 507.5,223.5 507.6,226.1 507.7,228.6 507.8,226.3 507.9,224.9 508,223.3 508.1,226.2 508.2,226.5 508.3,224 508.3,226.3 508.4,223.3 508.5,223.8 508.6,225.4 508.7,223.7 508.8,226.1 508.9,226.8 509,225.3 509.1,225.8 509.2,227 509.2,225.8 509.3,226.7 509.4,226.8 509.5,224.1 509.6,227.6 509.7,226.5 509.8,225.4 509.9,226.2 510,225.6 510.1,225.5 510.1,224.2 510.2,224.8 510.3,224.9 510.4,226.5 510.5,225.8 510.6,225.7 510.7,225.1 510.8,226.7 510.9,222.6 511,224.3 511,226.3 511.1,224.8 511.2,226 511.3,227 511.4,226.1 511.5,223.7 511.6,225 511.7,224 511.8,225.8 511.9,226.4 511.9,225 512,225.8 512.1,225.1 512.2,227.4 512.3,225.4 512.4,225.5 512.5,225.9 512.6,226.4 512.7,226 512.8,225.2 512.8,225.3 512.9,225.8 513,225.9 513.1,224.9 513.2,224.6 513.3,225 513.4,225.8 513.5,224.8 513.6,224.1 513.7,224.9 513.7,224.7 513.8,225.9 513.9,224.7 514,224.8 514.1,227.3 514.2,225.8 514.3,224.3 514.4,226.6 514.5,224.9 514.6,224.4 514.6,226 514.7,223.7 514.8,225.2 514.9,225.9 515,226.1 515.1,224.7 515.2,224.7 515.3,225.2 515.4,226.6 515.5,223.3 515.5,226.2 515.6,225.6 515.7,226.8 515.8,224.1 515.9,226.5 516,224.3 516.1,225.6 516.2,224.8 516.3,222.6 516.4,225.2 516.4,225.7 516.5,226.2 516.6,224.6 516.7,224 516.8,226 516.9,224.9 517,226.4 517.1,226.8 517.2,225 517.3,225.1 517.3,224.5 517.4,223.1 517.5,225.3 517.6,226.1 517.7,226.4 517.8,225.3 517.9,227.3 518,224.7 518.1,225.3 518.2,224.7 518.2,224.8 518.3,225 518.4,224.5 518.5,224.8 518.6,225.6 518.7,225.4 518.8,224.1 518.9,225.8 519,224.4 519.1,225.8 519.1,225.4 519.2,223.2 519.3,224.1 519.4,226.3 519.5,224.6 519.6,224.6 519.7,224.8 519.8,225.4 519.9,225.9 520,225 520.1,227.1 520.1,224.7 520.2,224.8 520.3,225.1 520.4,225.5 520.5,226.9 520.6,227.8 520.7,224.9 520.8,225.1 520.9,226 521,225.1 521,226.2 521.1,224.1 521.2,226.2 521.3,222.9 521.4,225.9 521.5,226 521.6,228 521.7,224.3 521.8,226 521.9,226 521.9,224.2 522,225.6 522.1,224.3 522.2,224 522.3,223.6 522.4,225 522.5,224.1 522.6,223 522.7,225.6 522.8,223.4 522.8,226 522.9,225.5 523,224.4 523.1,223.5 523.2,224.3 523.3,223.8 523.4,224.8 523.5,224.9 523.6,228 523.7,222.9 523.7,224.6 523.8,225.9 523.9,226.4 524,226.7 524.1,224.2 524.2,226.1 524.3,222.1 524.4,225 524.5,226.2 524.6,226 524.6,223.7 524.7,224.3 524.8,222.8 524.9,224.4 525,223.7 525.1,225.5 525.2,224.4 525.3,225.9 525.4,225.1 525.5,224.9 525.5,227.2 525.6,226.5 525.7,223.8 525.8,226.8 525.9,226.1 526,226.7 526.1,225.7 526.2,223.2 526.3,224.8 526.4,222.5 526.4,223.7 526.5,224.5 526.6,226.7 526.7,225.3 526.8,225.5 526.9,226.1 527,224.2 527.1,226.5 527.2,225.5 527.3,224.2 527.3,224.6 527.4,225 527.5,225.9 527.6,226.8 527.7,224.9 527.8,225 527.9,227.2 528,228.8 528.1,227.2 528.2,225.4 528.2,224.8 528.3,226 528.4,225.6 528.5,224.3 528.6,226.7 528.7,228.1 528.8,224.3 528.9,224.3 529,224.7 529.1,223.8 529.1,226.1 529.2,223.6 529.3,226 529.4,225.7 529.5,226.1 529.6,223.6 529.7,225.4 529.8,225.5 529.9,226.2 530,225.6 530,224.6 530.1,226.5 530.2,226.8 530.3,226.7 530.4,224.4 530.5,225.8 530.6,224.2 530.7,225 530.8,226.1 530.9,223.6 530.9,228.4 531,226.6 531.1,224.3 531.2,224.6 531.3,225.1 531.4,225.1 531.5,223.8 531.6,225.1 531.7,223.5 531.8,224.5 531.8,227.2 531.9,225.1 532,224.8 532.1,227 532.2,225.6 532.3,225.9 532.4,224.6 532.5,226.4 532.6,224.8 532.7,226.2 532.7,225.9 532.8,227.2 532.9,226.3 533,225.2 533.1,224 533.2,224.9 533.3,224.4 533.4,226.9 533.5,224.7 533.6,222.6 533.6,225.6 533.7,226.1 533.8,224.2 533.9,226 534,223.7 534.1,225.5 534.2,225 534.3,225.6 534.4,225.7 534.5,224.4 534.5,226.1 534.6,224.6 534.7,225.3 534.8,226.8 534.9,224.1 535,225.3" fill="none" stroke="#12aef0" stroke-width="0.8" stroke-linejoin="round"/>
<path d="M339.5 21.2 H435.0" fill="none" stroke="#8c8c8c" stroke-width="1"/>
<path d="M343.3 18.8 L339 21.2 L343.3 23.599999999999998 M431.2 18.8 L435.5 21.2 L431.2 23.599999999999998" fill="none" stroke="#444" stroke-width="0.9"/>
<path d="M437.0 21.2 H535.5" fill="none" stroke="#8c8c8c" stroke-width="1"/>
<path d="M440.8 18.8 L436.5 21.2 L440.8 23.599999999999998 M531.7 18.8 L536 21.2 L531.7 23.599999999999998" fill="none" stroke="#444" stroke-width="0.9"/>
<text x="387.2" y="19.6" font-size="10.2" text-anchor="middle" fill="#000" font-weight="bold">OFF</text>
<text x="486" y="19.6" font-size="10.2" text-anchor="middle" fill="#000" font-weight="bold">ON</text>
<text x="476.5" y="70.5" font-size="12" text-anchor="middle" fill="#000" font-weight="bold">1 Gbit/s</text>
<text x="476.5" y="155.7" font-size="12" text-anchor="middle" fill="#000" font-weight="bold">3 Gbit/s</text>
<text x="473.6" y="242.3" font-size="12" text-anchor="middle" fill="#000" font-weight="bold">10 Gbit/s</text>
<text x="534.3" y="48.0" font-size="9.8" text-anchor="end" fill="#000" font-weight="bold">0.025V</text>
<text x="532.6" y="134.1" font-size="10" text-anchor="end" fill="#000" font-weight="bold">0.02V</text>
<text x="532" y="227.2" font-size="9.9" text-anchor="end" fill="#000" font-weight="bold">0.01V</text>
<path d="M533.6 36.2 V53.7 M531.5 40.0 L533.6 36.2 L535.7 40.0 M531.5 49.900000000000006 L533.6 53.7 L535.7 49.900000000000006" fill="none" stroke="#444" stroke-width="0.9"/>
<path d="M533.4 124.6 V139 M531.3 128.4 L533.4 124.6 L535.5 128.4 M531.3 135.2 L533.4 139 L535.5 135.2" fill="none" stroke="#444" stroke-width="0.9"/>
<path d="M533.2 220.6 V231.2 M531.1 224.4 L533.2 220.6 L535.3000000000001 224.4 M531.1 227.39999999999998 L533.2 231.2 L535.3000000000001 227.39999999999998" fill="none" stroke="#444" stroke-width="0.9"/>
<text x="338.3" y="260.7" font-size="12.5" text-anchor="middle" fill="#000" font-weight="bold">−10.0</text>
<text x="387.5" y="260.7" font-size="12.5" text-anchor="middle" fill="#000" font-weight="bold">−7.5</text>
<text x="436.7" y="260.7" font-size="12.5" text-anchor="middle" fill="#000" font-weight="bold">−5.0</text>
<text x="485.9" y="260.7" font-size="12.5" text-anchor="middle" fill="#000" font-weight="bold">−2.5</text>
<text x="535.1" y="260.7" font-size="12.5" text-anchor="middle" fill="#000" font-weight="bold">0.0</text>
<text x="436.8" y="273.0" font-size="12" text-anchor="middle" fill="#000" font-weight="bold">Time (s)</text>
<text x="419.2" y="287.6" font-size="11.3" text-anchor="middle" fill="#000" font-weight="normal" stroke="#000" stroke-width="0.25">(b)</text>
<path d="M155.4 373.2V402M157.4 363.7V411.5M159.4 354.5V420.7M161.4 345.5V429.7M163.4 336.8V438.4M165.4 328.3V446.9M167.4 320V455.2M169.4 320.7V454.5M171.4 332.5V442.7M173.4 343.9V431.3M175.4 355V420.2M177.4 365.7V409.5M179.4 376.2V399M181.4 386.4V388.8M183.4 379V396.2M185.4 369.5V405.7M187.4 360.3V414.9M189.4 351.4V423.8M191.4 342.7V432.5M193.4 340.9V434.3M195.4 351.9V423.3M197.4 362.5V412.7M199.4 372.9V402.3M201.4 383V392.2M203.4 382.5V392.7M205.4 373.3V401.9M207.4 364.3V410.9M209.4 355.6V419.6M211.4 352.8V422.4M213.4 363.1V412.1M215.4 373.2V402M217.4 383V392.2M219.4 382.7V392.5M221.4 373.5V401.7M223.4 364.5V410.7M225.4 357.4V417.8M227.4 367.6V407.6M229.4 377.6V397.6M231.4 386.6V388.6M233.4 378.6V396.6M235.4 369.5V405.7M237.4 362.1V413.1M239.4 372.2V403M241.4 382V393.2M243.4 383.7V391.5M245.4 374.4V400.8M247.4 365.4V409.8M249.4 374.2V401M251.4 383.9V391.3M253.4 381.8V393.4M255.4 372.6V402.6M257.4 371.8V403.4M259.4 381.6V393.6M261.4 384V391.2M263.4 374.7V400.5M265.4 373.9V401.3M267.4 383.7V391.5M269.4 382V393.2M271.4 372.8V402.4M273.4 379.5V395.7M275.4 386.1V389.1M277.4 376.7V398.5M279.4 378.3V396.9M281.4 386.6V388.6M283.4 377.9V397.3M285.4 379.5V395.7M287.4 386.1V389.1M289.4 376.8V398.4M291.4 382.7V392.5M293.4 383V392.2M295.4 378V397.2M297.4 386.6V388.6M299.4 378.1V397.1M301.4 384.6V390.6M303.4 381.1V394.1M305.4 382.9V392.3M307.4 382.8V392.4M309.4 382.4V392.8M311.4 383.3V391.9M313.4 382.9V392.3M315.4 382.8V392.4M317.4 384.4V390.8M319.4 381.3V393.9M321.4 386.6V388.6M323.4 380.3V394.9M325.4 385.4V389.8M327.4 384.1V391.1M329.4 381.6V393.6M331.4 386.6V388.6M333.4 384.2V391M335.4 381.6V393.6M337.4 385.4V389.8M339.4 386.4V388.8M341.4 383.4V391.8M343.4 382.3V392.9M345.4 384.7V390.5M347.4 386.6V388.6M349.4 386.6V388.6M351.4 385.3V389.9M353.4 384.3V390.9M355.4 383.6V391.6M357.4 383.2V392M359.4 383.1V392.1M361.4 383.2V392M363.4 383.6V391.6M365.4 384.2V391M367.4 385.1V390.1M369.4 386.2V389M371.4 386.6V388.6M373.4 386.3V388.9M375.4 384.7V390.5M377.4 384.9V390.3M379.4 386.6V388.6M381.4 385.9V389.3M383.4 384.9V390.3M385.4 386.6V388.6M387.4 384.7V390.5M389.4 386.6V388.6M391.4 384.9V390.3M393.4 386.6V388.6M395.4 385.3V389.9M397.4 386.1V389.1M399.4 386.6V388.6M401.4 386.1V389.1M403.4 385V390.2M405.4 385.8V389.4" stroke="#555" stroke-width="1.3" fill="none"/>
<polyline points="154.7,361.8 175.5,311.8 191.5,362.7 204.7,371.3 215.7,366.5 225.4,359.6 233.8,376.4 241.4,375 291.3,369.6 320.4,383.2 341.1,383.4 357.1,383.3 370.3,383.4 381.3,383.3 391,383.3 399.4,383.2 406.8,383.2" fill="none" stroke="#14b4ea" stroke-width="1.05" stroke-linejoin="round"/>
<polyline points="154.7,412 175.5,455.5 191.5,414.6 204.7,402.4 215.7,408.2 225.4,411 233.8,395.6 241.4,397.6 291.3,404.8 320.4,389.8 341.1,390 357.1,390.2 370.3,390.2 381.3,390.3 391,390.3 399.4,390.3 406.8,390.3" fill="none" stroke="#14b4ea" stroke-width="1.05" stroke-linejoin="round"/>
<path d="M406.8 305.0 H154.7 V463.2 H406.8" fill="none" stroke="#777" stroke-width="0.8"/>
<line x1="406.8" y1="305.0" x2="406.8" y2="463.2" stroke="#7fcfee" stroke-width="1.4"/>
<line x1="175.5" y1="461.7" x2="175.5" y2="463.8" stroke="#bbb" stroke-width="0.7"/>
<line x1="191.5" y1="461.7" x2="191.5" y2="463.8" stroke="#bbb" stroke-width="0.7"/>
<line x1="204.7" y1="461.7" x2="204.7" y2="463.8" stroke="#bbb" stroke-width="0.7"/>
<line x1="215.7" y1="461.7" x2="215.7" y2="463.8" stroke="#bbb" stroke-width="0.7"/>
<line x1="225.4" y1="461.7" x2="225.4" y2="463.8" stroke="#bbb" stroke-width="0.7"/>
<line x1="233.8" y1="461.7" x2="233.8" y2="463.8" stroke="#bbb" stroke-width="0.7"/>
<line x1="291.3" y1="461.7" x2="291.3" y2="463.8" stroke="#bbb" stroke-width="0.7"/>
<line x1="320.4" y1="461.7" x2="320.4" y2="463.8" stroke="#bbb" stroke-width="0.7"/>
<line x1="341.1" y1="461.7" x2="341.1" y2="463.8" stroke="#bbb" stroke-width="0.7"/>
<line x1="357.1" y1="461.7" x2="357.1" y2="463.8" stroke="#bbb" stroke-width="0.7"/>
<line x1="370.3" y1="461.7" x2="370.3" y2="463.8" stroke="#bbb" stroke-width="0.7"/>
<line x1="381.3" y1="461.7" x2="381.3" y2="463.8" stroke="#bbb" stroke-width="0.7"/>
<line x1="391" y1="461.7" x2="391" y2="463.8" stroke="#bbb" stroke-width="0.7"/>
<line x1="399.4" y1="461.7" x2="399.4" y2="463.8" stroke="#bbb" stroke-width="0.7"/>
<line x1="241.4" y1="461" x2="241.4" y2="463.8" stroke="#999" stroke-width="0.7"/>
<line x1="406.8" y1="461" x2="406.8" y2="463.8" stroke="#999" stroke-width="0.7"/>
<line x1="154.3" y1="312.2" x2="156.3" y2="312.2" stroke="#aaa" stroke-width="0.7"/>
<line x1="154.3" y1="325.9" x2="156.3" y2="325.9" stroke="#aaa" stroke-width="0.7"/>
<line x1="154.3" y1="339.7" x2="156.3" y2="339.7" stroke="#aaa" stroke-width="0.7"/>
<line x1="154.3" y1="353.4" x2="156.3" y2="353.4" stroke="#aaa" stroke-width="0.7"/>
<line x1="154.3" y1="367.2" x2="156.3" y2="367.2" stroke="#aaa" stroke-width="0.7"/>
<line x1="154.3" y1="380.9" x2="156.3" y2="380.9" stroke="#aaa" stroke-width="0.7"/>
<line x1="154.3" y1="394.7" x2="156.3" y2="394.7" stroke="#aaa" stroke-width="0.7"/>
<line x1="154.3" y1="408.4" x2="156.3" y2="408.4" stroke="#aaa" stroke-width="0.7"/>
<line x1="154.3" y1="422.2" x2="156.3" y2="422.2" stroke="#aaa" stroke-width="0.7"/>
<line x1="154.3" y1="435.9" x2="156.3" y2="435.9" stroke="#aaa" stroke-width="0.7"/>
<line x1="154.3" y1="449.7" x2="156.3" y2="449.7" stroke="#aaa" stroke-width="0.7"/>
<line x1="154.3" y1="463.4" x2="156.3" y2="463.4" stroke="#aaa" stroke-width="0.7"/>
<text x="153.3" y="316.3" font-size="12.4" text-anchor="end" fill="#000" font-weight="bold">0.11</text>
<text x="153.3" y="330.1" font-size="12.4" text-anchor="end" fill="#000" font-weight="bold">0.09</text>
<text x="153.3" y="343.8" font-size="12.4" text-anchor="end" fill="#000" font-weight="bold">0.07</text>
<text x="153.3" y="357.6" font-size="12.4" text-anchor="end" fill="#000" font-weight="bold">0.05</text>
<text x="153.3" y="371.3" font-size="12.4" text-anchor="end" fill="#000" font-weight="bold">0.03</text>
<text x="153.3" y="385.1" font-size="12.4" text-anchor="end" fill="#000" font-weight="bold">0.01</text>
<text x="153.3" y="398.8" font-size="12.4" text-anchor="end" fill="#000" font-weight="bold">−0.01</text>
<text x="153.3" y="412.6" font-size="12.4" text-anchor="end" fill="#000" font-weight="bold">−0.03</text>
<text x="153.3" y="426.3" font-size="12.4" text-anchor="end" fill="#000" font-weight="bold">−0.05</text>
<text x="153.3" y="440.1" font-size="12.4" text-anchor="end" fill="#000" font-weight="bold">−0.07</text>
<text x="153.3" y="453.8" font-size="12.4" text-anchor="end" fill="#000" font-weight="bold">−0.09</text>
<text x="153.3" y="467.6" font-size="12.4" text-anchor="end" fill="#000" font-weight="bold">−0.11</text>
<text x="409.8" y="317.7" font-size="11.8" text-anchor="start" fill="#12aef0" font-weight="bold">1.0</text>
<text x="409.8" y="349.6" font-size="11.8" text-anchor="start" fill="#12aef0" font-weight="bold">0.8</text>
<text x="409.8" y="381.4" font-size="11.8" text-anchor="start" fill="#12aef0" font-weight="bold">0.6</text>
<text x="409.8" y="413.2" font-size="11.8" text-anchor="start" fill="#12aef0" font-weight="bold">0.4</text>
<text x="409.8" y="445.1" font-size="11.8" text-anchor="start" fill="#12aef0" font-weight="bold">0.2</text>
<text x="120.8" y="384" font-size="12" text-anchor="middle" fill="#000" font-weight="bold" transform="rotate(-90 120.8 384)">Simulation Phase Fluctuation</text>
<text x="434.1" y="383.8" font-size="11.8" text-anchor="middle" fill="#12aef0" font-weight="bold" transform="rotate(-90 434.1 383.8)">Experimental Voltage Fluctuation</text>
<text x="233.6" y="476" font-size="12" text-anchor="start" fill="#000" font-weight="bold">10<tspan font-size="8.5" dy="-6.3">9</tspan></text>
<text x="397.4" y="476.6" font-size="12" text-anchor="start" fill="#000" font-weight="bold">10<tspan font-size="8.5" dy="-6.3">10</tspan></text>
<text x="281.2" y="488.8" font-size="11.9" text-anchor="middle" fill="#000" font-weight="bold">Bit rate (Gbit/s)</text>
<text x="275.3" y="503.5" font-size="11.3" text-anchor="middle" fill="#000" font-weight="normal" stroke="#000" stroke-width="0.25">(c)</text>
</svg>
</body>
</html>
